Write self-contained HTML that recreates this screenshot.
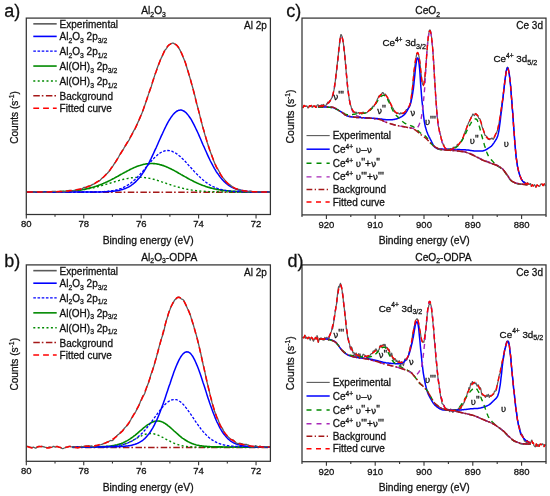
<!DOCTYPE html>
<html><head><meta charset="utf-8"><title>XPS</title>
<style>html,body{margin:0;padding:0;background:#fff;}svg{display:block;}</style>
</head><body>
<svg width="550" height="496" viewBox="0 0 550 496">
<style>text{fill:#111;stroke:#111;stroke-width:0.28px;}</style>
<rect width="550" height="496" fill="#ffffff"/>
<path d="M27.0,192.3 L27.8,192.3 L28.6,192.3 L29.4,192.3 L30.2,192.3 L31.1,192.3 L31.9,192.3 L32.7,192.3 L33.5,192.3 L34.3,192.3 L35.1,192.3 L35.9,192.3 L36.7,192.3 L37.6,192.3 L38.4,192.3 L39.2,192.3 L40.0,192.3 L40.8,192.3 L41.6,192.3 L42.4,192.3 L43.2,192.3 L44.0,192.3 L44.9,192.3 L45.7,192.3 L46.5,192.3 L47.3,192.3 L48.1,192.3 L48.9,192.3 L49.7,192.3 L50.5,192.3 L51.4,192.3 L52.2,192.3 L53.0,192.3 L53.8,192.3 L54.6,192.3 L55.4,192.3 L56.2,192.3 L57.0,192.3 L57.8,192.3 L58.7,192.3 L59.5,192.3 L60.3,192.3 L61.1,192.3 L61.9,192.3 L62.7,192.3 L63.5,192.3 L64.3,192.3 L65.2,192.3 L66.0,192.3 L66.8,192.3 L67.6,192.3 L68.4,192.3 L69.2,192.3 L70.0,192.3 L70.8,192.3 L71.6,192.3 L72.5,192.3 L73.3,192.3 L74.1,192.3 L74.9,192.3 L75.7,192.3 L76.5,192.3 L77.3,192.3 L78.1,192.3 L78.9,192.3 L79.8,192.3 L80.6,192.3 L81.4,192.3 L82.2,192.3 L83.0,192.3 L83.8,192.3 L84.6,192.3 L85.4,192.3 L86.3,192.3 L87.1,192.3 L87.9,192.3 L88.7,192.3 L89.5,192.3 L90.3,192.3 L91.1,192.3 L91.9,192.3 L92.7,192.3 L93.6,192.3 L94.4,192.3 L95.2,192.3 L96.0,192.3 L96.8,192.3 L97.6,192.3 L98.4,192.3 L99.2,192.3 L100.1,192.3 L100.9,192.3 L101.7,192.3 L102.5,192.3 L103.3,192.3 L104.1,192.3 L104.9,192.3 L105.7,192.3 L106.5,192.3 L107.4,192.3 L108.2,192.3 L109.0,192.3 L109.8,192.3 L110.6,192.3 L111.4,192.3 L112.2,192.3 L113.0,192.3 L113.9,192.3 L114.7,192.3 L115.5,192.3 L116.3,192.3 L117.1,192.3 L117.9,192.3 L118.7,192.3 L119.5,192.3 L120.3,192.3 L121.2,192.3 L122.0,192.3 L122.8,192.3 L123.6,192.3 L124.4,192.3 L125.2,192.3 L126.0,192.3 L126.8,192.3 L127.7,192.3 L128.5,192.3 L129.3,192.3 L130.1,192.3 L130.9,192.3 L131.7,192.3 L132.5,192.3 L133.3,192.3 L134.1,192.3 L135.0,192.3 L135.8,192.3 L136.6,192.3 L137.4,192.3 L138.2,192.3 L139.0,192.3 L139.8,192.3 L140.6,192.3 L141.5,192.3 L142.3,192.3 L143.1,192.3 L143.9,192.3 L144.7,192.3 L145.5,192.3 L146.3,192.3 L147.1,192.3 L147.9,192.3 L148.8,192.3 L149.6,192.3 L150.4,192.3 L151.2,192.3 L152.0,192.3 L152.8,192.3 L153.6,192.3 L154.4,192.3 L155.2,192.3 L156.1,192.3 L156.9,192.3 L157.7,192.3 L158.5,192.3 L159.3,192.3 L160.1,192.3 L160.9,192.3 L161.7,192.3 L162.6,192.3 L163.4,192.3 L164.2,192.3 L165.0,192.3 L165.8,192.3 L166.6,192.3 L167.4,192.3 L168.2,192.3 L169.0,192.3 L169.9,192.3 L170.7,192.3 L171.5,192.3 L172.3,192.3 L173.1,192.3 L173.9,192.3 L174.7,192.3 L175.5,192.3 L176.4,192.3 L177.2,192.3 L178.0,192.3 L178.8,192.3 L179.6,192.3 L180.4,192.3 L181.2,192.3 L182.0,192.3 L182.8,192.3 L183.7,192.3 L184.5,192.3 L185.3,192.3 L186.1,192.3 L186.9,192.3 L187.7,192.3 L188.5,192.3 L189.3,192.3 L190.2,192.3 L191.0,192.3 L191.8,192.3 L192.6,192.3 L193.4,192.3 L194.2,192.3 L195.0,192.3 L195.8,192.3 L196.6,192.3 L197.5,192.3 L198.3,192.3 L199.1,192.3 L199.9,192.3 L200.7,192.3 L201.5,192.3 L202.3,192.3 L203.1,192.3 L204.0,192.3 L204.8,192.3 L205.6,192.3 L206.4,192.3 L207.2,192.3 L208.0,192.3 L208.8,192.3 L209.6,192.3 L210.4,192.3 L211.3,192.3 L212.1,192.3 L212.9,192.3 L213.7,192.3 L214.5,192.3 L215.3,192.3 L216.1,192.3 L216.9,192.3 L217.8,192.3 L218.6,192.3 L219.4,192.3 L220.2,192.3 L221.0,192.3 L221.8,192.3 L222.6,192.3 L223.4,192.3 L224.2,192.3 L225.1,192.3 L225.9,192.3 L226.7,192.3 L227.5,192.3 L228.3,192.3 L229.1,192.3 L229.9,192.3 L230.7,192.3 L231.5,192.3 L232.4,192.3 L233.2,192.3 L234.0,192.3 L234.8,192.3 L235.6,192.3 L236.4,192.3 L237.2,192.3 L238.0,192.3 L238.9,192.3 L239.7,192.3 L240.5,192.3 L241.3,192.3 L242.1,192.3 L242.9,192.3 L243.7,192.3 L244.5,192.3 L245.3,192.3 L246.2,192.3 L247.0,192.3 L247.8,192.3 L248.6,192.3 L249.4,192.3 L250.2,192.3 L251.0,192.3 L251.8,192.3 L252.7,192.3 L253.5,192.3 L254.3,192.3 L255.1,192.3 L255.9,192.3 L256.7,192.3 L257.5,192.3 L258.3,192.3 L259.1,192.3 L260.0,192.3 L260.8,192.3 L261.6,192.3 L262.4,192.3 L263.2,192.3 L264.0,192.3 L264.8,192.3 L265.6,192.3 L266.5,192.3 L267.3,192.3 L268.1,192.3 L268.9,192.3 L269.7,192.3" fill="none" stroke="#a51818" stroke-width="1.50" stroke-dasharray="6.5,2,1.6,2.5" stroke-linejoin="round"/>
<path d="M27.0,192.0 L27.8,192.0 L28.6,192.0 L29.4,192.0 L30.2,192.0 L31.1,192.0 L31.9,192.0 L32.7,192.0 L33.5,192.0 L34.3,192.0 L35.1,192.0 L35.9,192.0 L36.7,192.0 L37.6,192.0 L38.4,192.0 L39.2,192.0 L40.0,192.0 L40.8,191.9 L41.6,191.9 L42.4,191.9 L43.2,191.9 L44.0,191.9 L44.9,191.9 L45.7,191.9 L46.5,191.9 L47.3,191.9 L48.1,191.9 L48.9,191.9 L49.7,191.9 L50.5,191.9 L51.4,191.8 L52.2,191.8 L53.0,191.8 L53.8,191.8 L54.6,191.8 L55.4,191.8 L56.2,191.7 L57.0,191.7 L57.8,191.7 L58.7,191.7 L59.5,191.6 L60.3,191.6 L61.1,191.6 L61.9,191.6 L62.7,191.5 L63.5,191.5 L64.3,191.5 L65.2,191.4 L66.0,191.4 L66.8,191.3 L67.6,191.3 L68.4,191.2 L69.2,191.2 L70.0,191.1 L70.8,191.1 L71.6,191.0 L72.5,190.9 L73.3,190.9 L74.1,190.8 L74.9,190.7 L75.7,190.6 L76.5,190.5 L77.3,190.5 L78.1,190.4 L78.9,190.3 L79.8,190.2 L80.6,190.1 L81.4,189.9 L82.2,189.8 L83.0,189.7 L83.8,189.6 L84.6,189.5 L85.4,189.3 L86.3,189.2 L87.1,189.0 L87.9,188.9 L88.7,188.7 L89.5,188.6 L90.3,188.4 L91.1,188.2 L91.9,188.1 L92.7,187.9 L93.6,187.7 L94.4,187.5 L95.2,187.3 L96.0,187.1 L96.8,186.9 L97.6,186.7 L98.4,186.5 L99.2,186.3 L100.1,186.1 L100.9,185.8 L101.7,185.6 L102.5,185.4 L103.3,185.1 L104.1,184.9 L104.9,184.7 L105.7,184.4 L106.5,184.2 L107.4,183.9 L108.2,183.7 L109.0,183.5 L109.8,183.2 L110.6,183.0 L111.4,182.7 L112.2,182.5 L113.0,182.2 L113.9,182.0 L114.7,181.7 L115.5,181.5 L116.3,181.3 L117.1,181.0 L117.9,180.8 L118.7,180.6 L119.5,180.3 L120.3,180.1 L121.2,179.9 L122.0,179.7 L122.8,179.5 L123.6,179.3 L124.4,179.1 L125.2,178.9 L126.0,178.8 L126.8,178.6 L127.7,178.5 L128.5,178.3 L129.3,178.2 L130.1,178.0 L130.9,177.9 L131.7,177.8 L132.5,177.7 L133.3,177.6 L134.1,177.5 L135.0,177.5 L135.8,177.4 L136.6,177.4 L137.4,177.3 L138.2,177.3 L139.0,177.3 L139.8,177.3 L140.6,177.3 L141.5,177.3 L142.3,177.4 L143.1,177.4 L143.9,177.5 L144.7,177.6 L145.5,177.7 L146.3,177.8 L147.1,177.9 L147.9,178.1 L148.8,178.2 L149.6,178.4 L150.4,178.5 L151.2,178.7 L152.0,178.9 L152.8,179.1 L153.6,179.3 L154.4,179.5 L155.2,179.8 L156.1,180.0 L156.9,180.2 L157.7,180.5 L158.5,180.7 L159.3,181.0 L160.1,181.3 L160.9,181.5 L161.7,181.8 L162.6,182.1 L163.4,182.4 L164.2,182.6 L165.0,182.9 L165.8,183.2 L166.6,183.5 L167.4,183.7 L168.2,184.0 L169.0,184.3 L169.9,184.6 L170.7,184.8 L171.5,185.1 L172.3,185.4 L173.1,185.6 L173.9,185.9 L174.7,186.1 L175.5,186.4 L176.4,186.6 L177.2,186.9 L178.0,187.1 L178.8,187.3 L179.6,187.5 L180.4,187.7 L181.2,187.9 L182.0,188.1 L182.8,188.3 L183.7,188.5 L184.5,188.7 L185.3,188.9 L186.1,189.0 L186.9,189.2 L187.7,189.4 L188.5,189.5 L189.3,189.7 L190.2,189.8 L191.0,189.9 L191.8,190.1 L192.6,190.2 L193.4,190.3 L194.2,190.4 L195.0,190.5 L195.8,190.6 L196.6,190.7 L197.5,190.8 L198.3,190.9 L199.1,190.9 L199.9,191.0 L200.7,191.1 L201.5,191.1 L202.3,191.2 L203.1,191.3 L204.0,191.3 L204.8,191.4 L205.6,191.4 L206.4,191.5 L207.2,191.5 L208.0,191.5 L208.8,191.6 L209.6,191.6 L210.4,191.6 L211.3,191.7 L212.1,191.7 L212.9,191.7 L213.7,191.7 L214.5,191.8 L215.3,191.8 L216.1,191.8 L216.9,191.8 L217.8,191.8 L218.6,191.9 L219.4,191.9 L220.2,191.9 L221.0,191.9 L221.8,191.9 L222.6,191.9 L223.4,191.9 L224.2,191.9 L225.1,191.9 L225.9,191.9 L226.7,191.9 L227.5,192.0 L228.3,192.0 L229.1,192.0 L229.9,192.0 L230.7,192.0 L231.5,192.0 L232.4,192.0 L233.2,192.0 L234.0,192.0 L234.8,192.0 L235.6,192.0 L236.4,192.0 L237.2,192.0 L238.0,192.0 L238.9,192.0 L239.7,192.0 L240.5,192.0 L241.3,192.0 L242.1,192.0 L242.9,192.0 L243.7,192.0 L244.5,192.0 L245.3,192.0 L246.2,192.0 L247.0,192.0 L247.8,192.0 L248.6,192.0 L249.4,192.0 L250.2,192.0 L251.0,192.0 L251.8,192.0 L252.7,192.0 L253.5,192.0 L254.3,192.0 L255.1,192.0 L255.9,192.0 L256.7,192.0 L257.5,192.0 L258.3,192.0 L259.1,192.0 L260.0,192.0 L260.8,192.0 L261.6,192.0 L262.4,192.0 L263.2,192.0 L264.0,192.0 L264.8,192.0 L265.6,192.0 L266.5,192.0 L267.3,192.0 L268.1,192.0 L268.9,192.0 L269.7,192.0" fill="none" stroke="#008a00" stroke-width="1.40" stroke-dasharray="2,2.4" stroke-linejoin="round"/>
<path d="M27.0,192.0 L27.8,192.0 L28.6,192.0 L29.4,192.0 L30.2,192.0 L31.1,192.0 L31.9,192.0 L32.7,192.0 L33.5,192.0 L34.3,192.0 L35.1,192.0 L35.9,192.0 L36.7,192.0 L37.6,192.0 L38.4,192.0 L39.2,192.0 L40.0,192.0 L40.8,192.0 L41.6,191.9 L42.4,191.9 L43.2,191.9 L44.0,191.9 L44.9,191.9 L45.7,191.9 L46.5,191.9 L47.3,191.9 L48.1,191.9 L48.9,191.9 L49.7,191.9 L50.5,191.9 L51.4,191.8 L52.2,191.8 L53.0,191.8 L53.8,191.8 L54.6,191.8 L55.4,191.8 L56.2,191.7 L57.0,191.7 L57.8,191.7 L58.7,191.7 L59.5,191.7 L60.3,191.6 L61.1,191.6 L61.9,191.6 L62.7,191.5 L63.5,191.5 L64.3,191.5 L65.2,191.4 L66.0,191.4 L66.8,191.3 L67.6,191.3 L68.4,191.2 L69.2,191.2 L70.0,191.1 L70.8,191.0 L71.6,191.0 L72.5,190.9 L73.3,190.8 L74.1,190.7 L74.9,190.7 L75.7,190.6 L76.5,190.5 L77.3,190.4 L78.1,190.3 L78.9,190.2 L79.8,190.0 L80.6,189.9 L81.4,189.8 L82.2,189.7 L83.0,189.5 L83.8,189.4 L84.6,189.2 L85.4,189.1 L86.3,188.9 L87.1,188.7 L87.9,188.5 L88.7,188.3 L89.5,188.1 L90.3,187.9 L91.1,187.7 L91.9,187.5 L92.7,187.3 L93.6,187.0 L94.4,186.8 L95.2,186.5 L96.0,186.3 L96.8,186.0 L97.6,185.7 L98.4,185.4 L99.2,185.1 L100.1,184.8 L100.9,184.5 L101.7,184.2 L102.5,183.8 L103.3,183.5 L104.1,183.1 L104.9,182.8 L105.7,182.4 L106.5,182.0 L107.4,181.7 L108.2,181.3 L109.0,180.9 L109.8,180.5 L110.6,180.1 L111.4,179.6 L112.2,179.2 L113.0,178.8 L113.9,178.4 L114.7,177.9 L115.5,177.5 L116.3,177.0 L117.1,176.6 L117.9,176.2 L118.7,175.7 L119.5,175.3 L120.3,174.8 L121.2,174.3 L122.0,173.9 L122.8,173.4 L123.6,173.0 L124.4,172.5 L125.2,172.1 L126.0,171.7 L126.8,171.2 L127.7,170.8 L128.5,170.4 L129.3,170.0 L130.1,169.5 L130.9,169.1 L131.7,168.8 L132.5,168.4 L133.3,168.0 L134.1,167.6 L135.0,167.3 L135.8,166.9 L136.6,166.6 L137.4,166.3 L138.2,166.0 L139.0,165.7 L139.8,165.5 L140.6,165.2 L141.5,165.0 L142.3,164.7 L143.1,164.5 L143.9,164.3 L144.7,164.2 L145.5,164.0 L146.3,163.9 L147.1,163.8 L147.9,163.7 L148.8,163.6 L149.6,163.6 L150.4,163.5 L151.2,163.5 L152.0,163.5 L152.8,163.5 L153.6,163.6 L154.4,163.6 L155.2,163.7 L156.1,163.8 L156.9,164.0 L157.7,164.1 L158.5,164.3 L159.3,164.4 L160.1,164.7 L160.9,164.9 L161.7,165.1 L162.6,165.4 L163.4,165.6 L164.2,165.9 L165.0,166.2 L165.8,166.6 L166.6,166.9 L167.4,167.2 L168.2,167.6 L169.0,168.0 L169.9,168.4 L170.7,168.8 L171.5,169.2 L172.3,169.6 L173.1,170.0 L173.9,170.4 L174.7,170.9 L175.5,171.3 L176.4,171.8 L177.2,172.2 L178.0,172.7 L178.8,173.2 L179.6,173.6 L180.4,174.1 L181.2,174.6 L182.0,175.0 L182.8,175.5 L183.7,176.0 L184.5,176.4 L185.3,176.9 L186.1,177.3 L186.9,177.8 L187.7,178.2 L188.5,178.7 L189.3,179.1 L190.2,179.6 L191.0,180.0 L191.8,180.4 L192.6,180.8 L193.4,181.3 L194.2,181.7 L195.0,182.1 L195.8,182.4 L196.6,182.8 L197.5,183.2 L198.3,183.5 L199.1,183.9 L199.9,184.2 L200.7,184.6 L201.5,184.9 L202.3,185.2 L203.1,185.5 L204.0,185.8 L204.8,186.1 L205.6,186.4 L206.4,186.7 L207.2,186.9 L208.0,187.2 L208.8,187.4 L209.6,187.6 L210.4,187.9 L211.3,188.1 L212.1,188.3 L212.9,188.5 L213.7,188.7 L214.5,188.9 L215.3,189.0 L216.1,189.2 L216.9,189.4 L217.8,189.5 L218.6,189.7 L219.4,189.8 L220.2,189.9 L221.0,190.1 L221.8,190.2 L222.6,190.3 L223.4,190.4 L224.2,190.5 L225.1,190.6 L225.9,190.7 L226.7,190.8 L227.5,190.8 L228.3,190.9 L229.1,191.0 L229.9,191.1 L230.7,191.1 L231.5,191.2 L232.4,191.2 L233.2,191.3 L234.0,191.3 L234.8,191.4 L235.6,191.4 L236.4,191.5 L237.2,191.5 L238.0,191.6 L238.9,191.6 L239.7,191.6 L240.5,191.6 L241.3,191.7 L242.1,191.7 L242.9,191.7 L243.7,191.7 L244.5,191.8 L245.3,191.8 L246.2,191.8 L247.0,191.8 L247.8,191.8 L248.6,191.8 L249.4,191.9 L250.2,191.9 L251.0,191.9 L251.8,191.9 L252.7,191.9 L253.5,191.9 L254.3,191.9 L255.1,191.9 L255.9,191.9 L256.7,191.9 L257.5,191.9 L258.3,191.9 L259.1,192.0 L260.0,192.0 L260.8,192.0 L261.6,192.0 L262.4,192.0 L263.2,192.0 L264.0,192.0 L264.8,192.0 L265.6,192.0 L266.5,192.0 L267.3,192.0 L268.1,192.0 L268.9,192.0 L269.7,192.0" fill="none" stroke="#008a00" stroke-width="1.60" stroke-linejoin="round"/>
<path d="M27.0,192.0 L27.8,192.0 L28.6,192.0 L29.4,192.0 L30.2,192.0 L31.1,192.0 L31.9,192.0 L32.7,192.0 L33.5,192.0 L34.3,192.0 L35.1,192.0 L35.9,192.0 L36.7,192.0 L37.6,192.0 L38.4,192.0 L39.2,192.0 L40.0,192.0 L40.8,192.0 L41.6,192.0 L42.4,192.0 L43.2,192.0 L44.0,192.0 L44.9,192.0 L45.7,192.0 L46.5,192.0 L47.3,192.0 L48.1,192.0 L48.9,192.0 L49.7,192.0 L50.5,192.0 L51.4,192.0 L52.2,192.0 L53.0,192.0 L53.8,192.0 L54.6,192.0 L55.4,192.0 L56.2,192.0 L57.0,192.0 L57.8,192.0 L58.7,192.0 L59.5,192.0 L60.3,192.0 L61.1,192.0 L61.9,192.0 L62.7,192.0 L63.5,192.0 L64.3,192.0 L65.2,192.0 L66.0,192.0 L66.8,192.0 L67.6,192.0 L68.4,192.0 L69.2,192.0 L70.0,192.0 L70.8,192.0 L71.6,192.0 L72.5,192.0 L73.3,192.0 L74.1,192.0 L74.9,192.0 L75.7,192.0 L76.5,192.0 L77.3,192.0 L78.1,192.0 L78.9,192.0 L79.8,192.0 L80.6,192.0 L81.4,192.0 L82.2,192.0 L83.0,192.0 L83.8,192.0 L84.6,192.0 L85.4,192.0 L86.3,192.0 L87.1,192.0 L87.9,192.0 L88.7,192.0 L89.5,192.0 L90.3,192.0 L91.1,191.9 L91.9,191.9 L92.7,191.9 L93.6,191.9 L94.4,191.9 L95.2,191.9 L96.0,191.9 L96.8,191.9 L97.6,191.8 L98.4,191.8 L99.2,191.8 L100.1,191.8 L100.9,191.7 L101.7,191.7 L102.5,191.7 L103.3,191.6 L104.1,191.6 L104.9,191.5 L105.7,191.5 L106.5,191.4 L107.4,191.3 L108.2,191.2 L109.0,191.1 L109.8,191.0 L110.6,190.9 L111.4,190.8 L112.2,190.7 L113.0,190.6 L113.9,190.4 L114.7,190.2 L115.5,190.1 L116.3,189.9 L117.1,189.7 L117.9,189.4 L118.7,189.2 L119.5,188.9 L120.3,188.7 L121.2,188.4 L122.0,188.0 L122.8,187.7 L123.6,187.3 L124.4,186.9 L125.2,186.5 L126.0,186.1 L126.8,185.6 L127.7,185.1 L128.5,184.6 L129.3,184.1 L130.1,183.5 L130.9,182.9 L131.7,182.3 L132.5,181.6 L133.3,181.0 L134.1,180.2 L135.0,179.5 L135.8,178.7 L136.6,178.0 L137.4,177.2 L138.2,176.3 L139.0,175.5 L139.8,174.6 L140.6,173.7 L141.5,172.8 L142.3,171.8 L143.1,170.9 L143.9,169.9 L144.7,169.0 L145.5,168.0 L146.3,167.0 L147.1,166.1 L147.9,165.1 L148.8,164.1 L149.6,163.2 L150.4,162.2 L151.2,161.3 L152.0,160.4 L152.8,159.5 L153.6,158.6 L154.4,157.8 L155.2,157.0 L156.1,156.2 L156.9,155.5 L157.7,154.8 L158.5,154.1 L159.3,153.5 L160.1,153.0 L160.9,152.5 L161.7,152.0 L162.6,151.6 L163.4,151.3 L164.2,151.0 L165.0,150.8 L165.8,150.6 L166.6,150.5 L167.4,150.5 L168.2,150.5 L169.0,150.6 L169.9,150.7 L170.7,150.9 L171.5,151.1 L172.3,151.4 L173.1,151.8 L173.9,152.1 L174.7,152.6 L175.5,153.0 L176.4,153.6 L177.2,154.1 L178.0,154.7 L178.8,155.4 L179.6,156.0 L180.4,156.7 L181.2,157.5 L182.0,158.3 L182.8,159.0 L183.7,159.9 L184.5,160.7 L185.3,161.5 L186.1,162.4 L186.9,163.3 L187.7,164.2 L188.5,165.1 L189.3,166.0 L190.2,166.9 L191.0,167.8 L191.8,168.7 L192.6,169.6 L193.4,170.5 L194.2,171.4 L195.0,172.2 L195.8,173.1 L196.6,173.9 L197.5,174.8 L198.3,175.6 L199.1,176.4 L199.9,177.1 L200.7,177.9 L201.5,178.6 L202.3,179.3 L203.1,180.0 L204.0,180.7 L204.8,181.3 L205.6,182.0 L206.4,182.6 L207.2,183.1 L208.0,183.7 L208.8,184.2 L209.6,184.7 L210.4,185.2 L211.3,185.6 L212.1,186.1 L212.9,186.5 L213.7,186.9 L214.5,187.2 L215.3,187.6 L216.1,187.9 L216.9,188.2 L217.8,188.5 L218.6,188.8 L219.4,189.0 L220.2,189.3 L221.0,189.5 L221.8,189.7 L222.6,189.9 L223.4,190.1 L224.2,190.2 L225.1,190.4 L225.9,190.5 L226.7,190.7 L227.5,190.8 L228.3,190.9 L229.1,191.0 L229.9,191.1 L230.7,191.2 L231.5,191.3 L232.4,191.3 L233.2,191.4 L234.0,191.5 L234.8,191.5 L235.6,191.6 L236.4,191.6 L237.2,191.6 L238.0,191.7 L238.9,191.7 L239.7,191.7 L240.5,191.8 L241.3,191.8 L242.1,191.8 L242.9,191.8 L243.7,191.9 L244.5,191.9 L245.3,191.9 L246.2,191.9 L247.0,191.9 L247.8,191.9 L248.6,191.9 L249.4,191.9 L250.2,191.9 L251.0,192.0 L251.8,192.0 L252.7,192.0 L253.5,192.0 L254.3,192.0 L255.1,192.0 L255.9,192.0 L256.7,192.0 L257.5,192.0 L258.3,192.0 L259.1,192.0 L260.0,192.0 L260.8,192.0 L261.6,192.0 L262.4,192.0 L263.2,192.0 L264.0,192.0 L264.8,192.0 L265.6,192.0 L266.5,192.0 L267.3,192.0 L268.1,192.0 L268.9,192.0 L269.7,192.0" fill="none" stroke="#0000ff" stroke-width="1.30" stroke-dasharray="2.6,1.6" stroke-linejoin="round"/>
<path d="M27.0,192.0 L27.8,192.0 L28.6,192.0 L29.4,192.0 L30.2,192.0 L31.1,192.0 L31.9,192.0 L32.7,192.0 L33.5,192.0 L34.3,192.0 L35.1,192.0 L35.9,192.0 L36.7,192.0 L37.6,192.0 L38.4,192.0 L39.2,192.0 L40.0,192.0 L40.8,192.0 L41.6,192.0 L42.4,192.0 L43.2,192.0 L44.0,192.0 L44.9,192.0 L45.7,192.0 L46.5,192.0 L47.3,192.0 L48.1,192.0 L48.9,192.0 L49.7,192.0 L50.5,192.0 L51.4,192.0 L52.2,192.0 L53.0,192.0 L53.8,192.0 L54.6,192.0 L55.4,192.0 L56.2,192.0 L57.0,192.0 L57.8,192.0 L58.7,192.0 L59.5,192.0 L60.3,192.0 L61.1,192.0 L61.9,192.0 L62.7,192.0 L63.5,192.0 L64.3,192.0 L65.2,192.0 L66.0,192.0 L66.8,192.0 L67.6,192.0 L68.4,192.0 L69.2,192.0 L70.0,192.0 L70.8,192.0 L71.6,192.0 L72.5,192.0 L73.3,192.0 L74.1,192.0 L74.9,192.0 L75.7,192.0 L76.5,192.0 L77.3,192.0 L78.1,192.0 L78.9,192.0 L79.8,192.0 L80.6,192.0 L81.4,192.0 L82.2,192.0 L83.0,192.0 L83.8,192.0 L84.6,192.0 L85.4,192.0 L86.3,192.0 L87.1,192.0 L87.9,192.0 L88.7,192.0 L89.5,192.0 L90.3,192.0 L91.1,192.0 L91.9,192.0 L92.7,192.0 L93.6,192.0 L94.4,192.0 L95.2,192.0 L96.0,191.9 L96.8,191.9 L97.6,191.9 L98.4,191.9 L99.2,191.9 L100.1,191.9 L100.9,191.9 L101.7,191.9 L102.5,191.8 L103.3,191.8 L104.1,191.8 L104.9,191.8 L105.7,191.7 L106.5,191.7 L107.4,191.7 L108.2,191.6 L109.0,191.6 L109.8,191.5 L110.6,191.5 L111.4,191.4 L112.2,191.3 L113.0,191.3 L113.9,191.2 L114.7,191.1 L115.5,191.0 L116.3,190.8 L117.1,190.7 L117.9,190.6 L118.7,190.4 L119.5,190.2 L120.3,190.1 L121.2,189.8 L122.0,189.6 L122.8,189.4 L123.6,189.1 L124.4,188.8 L125.2,188.5 L126.0,188.2 L126.8,187.8 L127.7,187.4 L128.5,187.0 L129.3,186.6 L130.1,186.1 L130.9,185.6 L131.7,185.0 L132.5,184.4 L133.3,183.8 L134.1,183.1 L135.0,182.4 L135.8,181.6 L136.6,180.8 L137.4,180.0 L138.2,179.1 L139.0,178.2 L139.8,177.2 L140.6,176.1 L141.5,175.1 L142.3,173.9 L143.1,172.7 L143.9,171.5 L144.7,170.2 L145.5,168.9 L146.3,167.5 L147.1,166.1 L147.9,164.6 L148.8,163.1 L149.6,161.5 L150.4,159.9 L151.2,158.3 L152.0,156.6 L152.8,154.9 L153.6,153.2 L154.4,151.4 L155.2,149.6 L156.1,147.8 L156.9,146.0 L157.7,144.2 L158.5,142.3 L159.3,140.5 L160.1,138.7 L160.9,136.9 L161.7,135.1 L162.6,133.3 L163.4,131.5 L164.2,129.8 L165.0,128.1 L165.8,126.5 L166.6,124.9 L167.4,123.4 L168.2,121.9 L169.0,120.5 L169.9,119.1 L170.7,117.9 L171.5,116.7 L172.3,115.6 L173.1,114.6 L173.9,113.7 L174.7,112.9 L175.5,112.2 L176.4,111.5 L177.2,111.0 L178.0,110.6 L178.8,110.3 L179.6,110.2 L180.4,110.1 L181.2,110.1 L182.0,110.3 L182.8,110.6 L183.7,111.0 L184.5,111.5 L185.3,112.1 L186.1,112.8 L186.9,113.7 L187.7,114.6 L188.5,115.6 L189.3,116.7 L190.2,118.0 L191.0,119.2 L191.8,120.6 L192.6,122.1 L193.4,123.6 L194.2,125.2 L195.0,126.8 L195.8,128.5 L196.6,130.2 L197.5,132.0 L198.3,133.8 L199.1,135.6 L199.9,137.5 L200.7,139.3 L201.5,141.2 L202.3,143.1 L203.1,145.0 L204.0,146.8 L204.8,148.7 L205.6,150.5 L206.4,152.3 L207.2,154.1 L208.0,155.9 L208.8,157.6 L209.6,159.3 L210.4,161.0 L211.3,162.6 L212.1,164.1 L212.9,165.7 L213.7,167.1 L214.5,168.6 L215.3,169.9 L216.1,171.3 L216.9,172.5 L217.8,173.7 L218.6,174.9 L219.4,176.0 L220.2,177.1 L221.0,178.1 L221.8,179.1 L222.6,180.0 L223.4,180.8 L224.2,181.7 L225.1,182.4 L225.9,183.2 L226.7,183.8 L227.5,184.5 L228.3,185.1 L229.1,185.6 L229.9,186.2 L230.7,186.7 L231.5,187.1 L232.4,187.5 L233.2,187.9 L234.0,188.3 L234.8,188.6 L235.6,188.9 L236.4,189.2 L237.2,189.5 L238.0,189.7 L238.9,189.9 L239.7,190.1 L240.5,190.3 L241.3,190.5 L242.1,190.6 L242.9,190.8 L243.7,190.9 L244.5,191.0 L245.3,191.1 L246.2,191.2 L247.0,191.3 L247.8,191.4 L248.6,191.5 L249.4,191.5 L250.2,191.6 L251.0,191.6 L251.8,191.7 L252.7,191.7 L253.5,191.7 L254.3,191.8 L255.1,191.8 L255.9,191.8 L256.7,191.8 L257.5,191.9 L258.3,191.9 L259.1,191.9 L260.0,191.9 L260.8,191.9 L261.6,191.9 L262.4,191.9 L263.2,191.9 L264.0,192.0 L264.8,192.0 L265.6,192.0 L266.5,192.0 L267.3,192.0 L268.1,192.0 L268.9,192.0 L269.7,192.0" fill="none" stroke="#0000ff" stroke-width="1.50" stroke-linejoin="round"/>
<path d="M27.0,192.2 L27.8,192.0 L28.6,191.7 L29.4,191.7 L30.2,191.8 L31.1,191.8 L31.9,192.0 L32.7,192.0 L33.5,192.0 L34.3,192.1 L35.1,192.0 L35.9,191.7 L36.7,191.7 L37.6,191.9 L38.4,192.0 L39.2,191.8 L40.0,191.7 L40.8,191.7 L41.6,191.9 L42.4,191.9 L43.2,191.9 L44.0,192.2 L44.9,192.3 L45.7,192.2 L46.5,192.1 L47.3,191.8 L48.1,191.7 L48.9,191.6 L49.7,191.7 L50.5,191.8 L51.4,191.7 L52.2,191.5 L53.0,191.4 L53.8,191.4 L54.6,191.4 L55.4,191.5 L56.2,191.5 L57.0,191.8 L57.8,192.0 L58.7,191.9 L59.5,191.5 L60.3,191.3 L61.1,191.4 L61.9,191.6 L62.7,191.5 L63.5,191.3 L64.3,191.5 L65.2,191.7 L66.0,191.5 L66.8,191.3 L67.6,191.1 L68.4,190.7 L69.2,190.5 L70.0,190.5 L70.8,190.6 L71.6,190.7 L72.5,190.8 L73.3,190.7 L74.1,190.5 L74.9,190.2 L75.7,190.0 L76.5,190.0 L77.3,189.8 L78.1,189.5 L78.9,189.4 L79.8,189.3 L80.6,189.4 L81.4,189.3 L82.2,188.9 L83.0,188.1 L83.8,187.5 L84.6,187.5 L85.4,187.5 L86.3,187.4 L87.1,186.8 L87.9,186.2 L88.7,186.1 L89.5,186.1 L90.3,185.8 L91.1,185.4 L91.9,184.9 L92.7,184.4 L93.6,184.1 L94.4,183.7 L95.2,183.2 L96.0,182.6 L96.8,182.1 L97.6,181.7 L98.4,181.3 L99.2,180.9 L100.1,180.3 L100.9,179.4 L101.7,178.5 L102.5,177.8 L103.3,177.2 L104.1,176.5 L104.9,175.6 L105.7,174.8 L106.5,174.0 L107.4,173.2 L108.2,172.3 L109.0,171.5 L109.8,170.5 L110.6,169.2 L111.4,167.9 L112.2,166.9 L113.0,165.8 L113.9,164.4 L114.7,163.1 L115.5,161.9 L116.3,160.6 L117.1,159.5 L117.9,158.2 L118.7,156.8 L119.5,155.3 L120.3,153.8 L121.2,152.4 L122.0,151.2 L122.8,150.1 L123.6,148.8 L124.4,147.3 L125.2,146.0 L126.0,145.0 L126.8,143.6 L127.7,142.0 L128.5,140.8 L129.3,139.6 L130.1,137.9 L130.9,136.3 L131.7,134.9 L132.5,133.3 L133.3,131.6 L134.1,130.1 L135.0,128.8 L135.8,127.3 L136.6,125.5 L137.4,123.6 L138.2,121.8 L139.0,120.1 L139.8,118.2 L140.6,116.2 L141.5,114.2 L142.3,112.3 L143.1,110.2 L143.9,107.9 L144.7,105.6 L145.5,103.3 L146.3,101.0 L147.1,98.6 L147.9,96.1 L148.8,93.4 L149.6,90.8 L150.4,88.9 L151.2,86.8 L152.0,84.1 L152.8,81.4 L153.6,78.8 L154.4,76.4 L155.2,73.9 L156.1,71.4 L156.9,69.0 L157.7,66.8 L158.5,64.8 L159.3,62.7 L160.1,60.8 L160.9,58.8 L161.7,57.1 L162.6,55.4 L163.4,53.5 L164.2,51.6 L165.0,50.1 L165.8,49.3 L166.6,48.3 L167.4,46.9 L168.2,45.7 L169.0,45.0 L169.9,44.5 L170.7,43.9 L171.5,43.5 L172.3,43.1 L173.1,43.1 L173.9,43.4 L174.7,44.0 L175.5,44.6 L176.4,45.0 L177.2,45.8 L178.0,46.8 L178.8,48.1 L179.6,49.4 L180.4,50.9 L181.2,52.7 L182.0,54.6 L182.8,56.6 L183.7,58.6 L184.5,60.4 L185.3,62.4 L186.1,65.0 L186.9,67.7 L187.7,70.5 L188.5,73.1 L189.3,75.8 L190.2,78.6 L191.0,81.6 L191.8,84.6 L192.6,87.2 L193.4,89.9 L194.2,93.0 L195.0,96.4 L195.8,99.9 L196.6,103.4 L197.5,106.5 L198.3,109.5 L199.1,112.7 L199.9,115.8 L200.7,118.9 L201.5,122.2 L202.3,125.3 L203.1,128.3 L204.0,131.3 L204.8,134.3 L205.6,137.2 L206.4,139.9 L207.2,142.5 L208.0,144.8 L208.8,147.3 L209.6,149.9 L210.4,152.1 L211.3,154.2 L212.1,156.3 L212.9,158.5 L213.7,160.7 L214.5,162.7 L215.3,164.8 L216.1,166.6 L216.9,167.9 L217.8,169.1 L218.6,170.5 L219.4,172.0 L220.2,173.5 L221.0,175.0 L221.8,176.3 L222.6,177.4 L223.4,178.4 L224.2,179.3 L225.1,180.4 L225.9,181.6 L226.7,182.5 L227.5,183.3 L228.3,184.0 L229.1,184.4 L229.9,184.9 L230.7,185.4 L231.5,186.0 L232.4,186.9 L233.2,187.4 L234.0,187.9 L234.8,188.5 L235.6,188.8 L236.4,188.9 L237.2,189.0 L238.0,189.2 L238.9,189.4 L239.7,189.8 L240.5,190.1 L241.3,190.4 L242.1,190.7 L242.9,190.9 L243.7,190.9 L244.5,190.9 L245.3,191.0 L246.2,191.4 L247.0,191.7 L247.8,191.7 L248.6,191.6 L249.4,191.3 L250.2,191.1 L251.0,191.3 L251.8,191.7 L252.7,191.9 L253.5,191.9 L254.3,191.7 L255.1,191.7 L255.9,191.9 L256.7,192.0 L257.5,192.0 L258.3,191.9 L259.1,191.9 L260.0,191.8 L260.8,191.7 L261.6,191.8 L262.4,191.9 L263.2,191.9 L264.0,191.9 L264.8,191.9 L265.6,191.8 L266.5,191.9 L267.3,192.1 L268.1,192.1 L268.9,192.0 L269.7,192.0" fill="none" stroke="#5a5a5a" stroke-width="1.30" stroke-linejoin="round"/>
<path d="M27.0,192.0 L27.8,192.0 L28.6,192.0 L29.4,192.0 L30.2,192.0 L31.1,192.0 L31.9,192.0 L32.7,192.0 L33.5,192.0 L34.3,192.0 L35.1,192.0 L35.9,192.0 L36.7,192.0 L37.6,192.0 L38.4,192.0 L39.2,192.0 L40.0,192.0 L40.8,191.9 L41.6,191.9 L42.4,191.9 L43.2,191.9 L44.0,191.9 L44.9,191.9 L45.7,191.9 L46.5,191.9 L47.3,191.9 L48.1,191.9 L48.9,191.9 L49.7,191.8 L50.5,191.8 L51.4,191.8 L52.2,191.8 L53.0,191.8 L53.8,191.8 L54.6,191.7 L55.4,191.7 L56.2,191.7 L57.0,191.7 L57.8,191.6 L58.7,191.6 L59.5,191.5 L60.3,191.5 L61.1,191.5 L61.9,191.4 L62.7,191.4 L63.5,191.3 L64.3,191.3 L65.2,191.2 L66.0,191.1 L66.8,191.1 L67.6,191.0 L68.4,190.9 L69.2,190.8 L70.0,190.7 L70.8,190.6 L71.6,190.5 L72.5,190.4 L73.3,190.3 L74.1,190.2 L74.9,190.0 L75.7,189.9 L76.5,189.8 L77.3,189.6 L78.1,189.4 L78.9,189.3 L79.8,189.1 L80.6,188.9 L81.4,188.7 L82.2,188.5 L83.0,188.2 L83.8,188.0 L84.6,187.7 L85.4,187.5 L86.3,187.2 L87.1,186.9 L87.9,186.6 L88.7,186.3 L89.5,185.9 L90.3,185.6 L91.1,185.2 L91.9,184.8 L92.7,184.4 L93.6,184.0 L94.4,183.6 L95.2,183.1 L96.0,182.6 L96.8,182.1 L97.6,181.6 L98.4,181.1 L99.2,180.5 L100.1,179.9 L100.9,179.3 L101.7,178.6 L102.5,177.9 L103.3,177.2 L104.1,176.5 L104.9,175.7 L105.7,174.9 L106.5,174.0 L107.4,173.1 L108.2,172.2 L109.0,171.2 L109.8,170.2 L110.6,169.1 L111.4,168.0 L112.2,166.9 L113.0,165.8 L113.9,164.6 L114.7,163.3 L115.5,162.1 L116.3,160.8 L117.1,159.5 L117.9,158.2 L118.7,156.8 L119.5,155.5 L120.3,154.1 L121.2,152.8 L122.0,151.4 L122.8,150.0 L123.6,148.7 L124.4,147.3 L125.2,146.0 L126.0,144.6 L126.8,143.2 L127.7,141.9 L128.5,140.5 L129.3,139.1 L130.1,137.7 L130.9,136.3 L131.7,134.9 L132.5,133.4 L133.3,131.9 L134.1,130.4 L135.0,128.8 L135.8,127.1 L136.6,125.4 L137.4,123.7 L138.2,121.9 L139.0,120.0 L139.8,118.1 L140.6,116.2 L141.5,114.1 L142.3,112.0 L143.1,109.9 L143.9,107.7 L144.7,105.4 L145.5,103.1 L146.3,100.8 L147.1,98.4 L147.9,96.0 L148.8,93.6 L149.6,91.2 L150.4,88.7 L151.2,86.2 L152.0,83.8 L152.8,81.3 L153.6,78.9 L154.4,76.4 L155.2,74.0 L156.1,71.7 L156.9,69.4 L157.7,67.1 L158.5,64.9 L159.3,62.7 L160.1,60.7 L160.9,58.7 L161.7,56.8 L162.6,55.0 L163.4,53.3 L164.2,51.7 L165.0,50.2 L165.8,48.9 L166.6,47.7 L167.4,46.6 L168.2,45.7 L169.0,44.9 L169.9,44.3 L170.7,43.8 L171.5,43.4 L172.3,43.3 L173.1,43.3 L173.9,43.5 L174.7,43.8 L175.5,44.3 L176.4,44.9 L177.2,45.8 L178.0,46.8 L178.8,47.9 L179.6,49.2 L180.4,50.7 L181.2,52.3 L182.0,54.1 L182.8,56.0 L183.7,58.1 L184.5,60.2 L185.3,62.5 L186.1,65.0 L186.9,67.5 L187.7,70.1 L188.5,72.8 L189.3,75.6 L190.2,78.5 L191.0,81.5 L191.8,84.5 L192.6,87.5 L193.4,90.6 L194.2,93.8 L195.0,96.9 L195.8,100.1 L196.6,103.3 L197.5,106.5 L198.3,109.6 L199.1,112.8 L199.9,115.9 L200.7,119.0 L201.5,122.1 L202.3,125.1 L203.1,128.1 L204.0,131.0 L204.8,133.9 L205.6,136.7 L206.4,139.4 L207.2,142.1 L208.0,144.7 L208.8,147.2 L209.6,149.6 L210.4,152.0 L211.3,154.3 L212.1,156.5 L212.9,158.6 L213.7,160.6 L214.5,162.6 L215.3,164.4 L216.1,166.2 L216.9,167.9 L217.8,169.5 L218.6,171.0 L219.4,172.5 L220.2,173.8 L221.0,175.1 L221.8,176.4 L222.6,177.5 L223.4,178.6 L224.2,179.6 L225.1,180.6 L225.9,181.5 L226.7,182.3 L227.5,183.1 L228.3,183.9 L229.1,184.5 L229.9,185.2 L230.7,185.8 L231.5,186.3 L232.4,186.8 L233.2,187.3 L234.0,187.7 L234.8,188.1 L235.6,188.5 L236.4,188.8 L237.2,189.1 L238.0,189.4 L238.9,189.6 L239.7,189.9 L240.5,190.1 L241.3,190.3 L242.1,190.5 L242.9,190.6 L243.7,190.8 L244.5,190.9 L245.3,191.0 L246.2,191.1 L247.0,191.2 L247.8,191.3 L248.6,191.4 L249.4,191.4 L250.2,191.5 L251.0,191.6 L251.8,191.6 L252.7,191.7 L253.5,191.7 L254.3,191.7 L255.1,191.8 L255.9,191.8 L256.7,191.8 L257.5,191.8 L258.3,191.9 L259.1,191.9 L260.0,191.9 L260.8,191.9 L261.6,191.9 L262.4,191.9 L263.2,191.9 L264.0,191.9 L264.8,192.0 L265.6,192.0 L266.5,192.0 L267.3,192.0 L268.1,192.0 L268.9,192.0 L269.7,192.0" fill="none" stroke="#ff0000" stroke-width="1.50" stroke-dasharray="5.8,4" stroke-linejoin="round"/>
<rect x="26.30" y="18.10" width="244.10" height="196.40" fill="none" stroke="#333333" stroke-width="1.25"/>
<line x1="26.30" y1="214.50" x2="26.30" y2="218.50" stroke="#333333" stroke-width="1.1"/>
<line x1="83.74" y1="214.50" x2="83.74" y2="218.50" stroke="#333333" stroke-width="1.1"/>
<line x1="141.17" y1="214.50" x2="141.17" y2="218.50" stroke="#333333" stroke-width="1.1"/>
<line x1="198.61" y1="214.50" x2="198.61" y2="218.50" stroke="#333333" stroke-width="1.1"/>
<line x1="256.04" y1="214.50" x2="256.04" y2="218.50" stroke="#333333" stroke-width="1.1"/>
<line x1="55.02" y1="214.50" x2="55.02" y2="216.70" stroke="#333333" stroke-width="1.1"/>
<line x1="112.45" y1="214.50" x2="112.45" y2="216.70" stroke="#333333" stroke-width="1.1"/>
<line x1="169.89" y1="214.50" x2="169.89" y2="216.70" stroke="#333333" stroke-width="1.1"/>
<line x1="227.32" y1="214.50" x2="227.32" y2="216.70" stroke="#333333" stroke-width="1.1"/>
<text x="26.30" y="227.40" font-size="9.50" text-anchor="middle" font-family="'Liberation Sans', sans-serif">80</text>
<text x="83.74" y="227.40" font-size="9.50" text-anchor="middle" font-family="'Liberation Sans', sans-serif">78</text>
<text x="141.17" y="227.40" font-size="9.50" text-anchor="middle" font-family="'Liberation Sans', sans-serif">76</text>
<text x="198.61" y="227.40" font-size="9.50" text-anchor="middle" font-family="'Liberation Sans', sans-serif">74</text>
<text x="256.04" y="227.40" font-size="9.50" text-anchor="middle" font-family="'Liberation Sans', sans-serif">72</text>
<text x="148.15" y="243.80" font-size="10.30" text-anchor="middle" font-family="'Liberation Sans', sans-serif">Binding energy (eV)</text>
<text transform="translate(18.0,117.50) rotate(-90)" font-size="10.1" font-family="'Liberation Sans', sans-serif" text-anchor="middle">Counts (s<tspan font-size="6.8" dy="-3.6">-1</tspan><tspan dy="3.6">)</tspan></text>
<text x="141.3" y="13.9" font-size="10.2" text-anchor="start" font-family="'Liberation Sans', sans-serif">Al<tspan font-size="6.8" dy="2.6">2</tspan><tspan dy="-2.6">O</tspan><tspan font-size="6.8" dy="2.6">3</tspan></text>
<text x="4.30" y="17.40" font-size="18.00" text-anchor="start" font-family="'Liberation Sans', sans-serif">a)</text>
<text x="266.80" y="28.90" font-size="10.00" text-anchor="end" font-family="'Liberation Sans', sans-serif">Al 2p</text>
<line x1="33.30" y1="23.85" x2="56.70" y2="23.85" stroke="#5a5a5a" stroke-width="1.60"/>
<line x1="33.30" y1="36.40" x2="56.70" y2="36.40" stroke="#0000ff" stroke-width="1.60"/>
<line x1="33.30" y1="51.10" x2="56.70" y2="51.10" stroke="#0000ff" stroke-width="1.40" stroke-dasharray="2.6,1.6"/>
<line x1="33.30" y1="66.05" x2="56.70" y2="66.05" stroke="#008a00" stroke-width="1.60"/>
<line x1="33.30" y1="81.00" x2="56.70" y2="81.00" stroke="#008a00" stroke-width="1.40" stroke-dasharray="2,2.4"/>
<line x1="33.30" y1="95.70" x2="56.70" y2="95.70" stroke="#a51818" stroke-width="1.50" stroke-dasharray="6.5,2,1.6,2.5"/>
<line x1="33.30" y1="108.20" x2="56.70" y2="108.20" stroke="#ff0000" stroke-width="1.50" stroke-dasharray="5.8,4"/>
<text x="59.60" y="27.85" font-size="10.00" text-anchor="start" font-family="'Liberation Sans', sans-serif">Experimental</text>
<text x="59.60" y="40.40" font-size="10.00" text-anchor="start" font-family="'Liberation Sans', sans-serif">Al<tspan font-size="6.8" dy="2.5">2</tspan><tspan dy="-2.5">O</tspan><tspan font-size="6.8" dy="2.5">3</tspan><tspan dy="-2.5"> 2p</tspan><tspan font-size="6.8" dy="2.5">3/2</tspan></text>
<text x="59.60" y="55.10" font-size="10.00" text-anchor="start" font-family="'Liberation Sans', sans-serif">Al<tspan font-size="6.8" dy="2.5">2</tspan><tspan dy="-2.5">O</tspan><tspan font-size="6.8" dy="2.5">3</tspan><tspan dy="-2.5"> 2p</tspan><tspan font-size="6.8" dy="2.5">1/2</tspan></text>
<text x="59.60" y="70.05" font-size="10.00" text-anchor="start" font-family="'Liberation Sans', sans-serif">Al(OH)<tspan font-size="6.8" dy="2.5">3</tspan><tspan dy="-2.5"> 2p</tspan><tspan font-size="6.8" dy="2.5">3/2</tspan></text>
<text x="59.60" y="85.00" font-size="10.00" text-anchor="start" font-family="'Liberation Sans', sans-serif">Al(OH)<tspan font-size="6.8" dy="2.5">3</tspan><tspan dy="-2.5"> 2p</tspan><tspan font-size="6.8" dy="2.5">1/2</tspan></text>
<text x="59.60" y="99.70" font-size="10.00" text-anchor="start" font-family="'Liberation Sans', sans-serif">Background</text>
<text x="59.60" y="112.20" font-size="10.00" text-anchor="start" font-family="'Liberation Sans', sans-serif">Fitted curve</text>
<path d="M72.5,447.5 L73.3,447.5 L74.1,447.5 L74.9,447.5 L75.7,447.5 L76.5,447.5 L77.3,447.5 L78.1,447.5 L78.9,447.5 L79.8,447.5 L80.6,447.5 L81.4,447.5 L82.2,447.5 L83.0,447.5 L83.8,447.5 L84.6,447.5 L85.4,447.5 L86.3,447.5 L87.1,447.5 L87.9,447.5 L88.7,447.5 L89.5,447.5 L90.3,447.5 L91.1,447.5 L91.9,447.5 L92.7,447.5 L93.6,447.5 L94.4,447.5 L95.2,447.5 L96.0,447.5 L96.8,447.5 L97.6,447.5 L98.4,447.5 L99.2,447.5 L100.1,447.5 L100.9,447.5 L101.7,447.5 L102.5,447.5 L103.3,447.5 L104.1,447.5 L104.9,447.5 L105.7,447.5 L106.5,447.5 L107.4,447.5 L108.2,447.5 L109.0,447.5 L109.8,447.5 L110.6,447.5 L111.4,447.5 L112.2,447.5 L113.0,447.5 L113.9,447.5 L114.7,447.5 L115.5,447.5 L116.3,447.5 L117.1,447.5 L117.9,447.5 L118.7,447.5 L119.5,447.5 L120.3,447.5 L121.2,447.5 L122.0,447.5 L122.8,447.5 L123.6,447.5 L124.4,447.5 L125.2,447.5 L126.0,447.5 L126.8,447.5 L127.7,447.5 L128.5,447.5 L129.3,447.5 L130.1,447.5 L130.9,447.5 L131.7,447.5 L132.5,447.5 L133.3,447.5 L134.1,447.5 L135.0,447.5 L135.8,447.5 L136.6,447.5 L137.4,447.5 L138.2,447.5 L139.0,447.5 L139.8,447.5 L140.6,447.5 L141.5,447.5 L142.3,447.5 L143.1,447.5 L143.9,447.5 L144.7,447.5 L145.5,447.5 L146.3,447.5 L147.1,447.5 L147.9,447.5 L148.8,447.5 L149.6,447.5 L150.4,447.5 L151.2,447.5 L152.0,447.5 L152.8,447.5 L153.6,447.5 L154.4,447.5 L155.2,447.5 L156.1,447.5 L156.9,447.5 L157.7,447.5 L158.5,447.5 L159.3,447.5 L160.1,447.5 L160.9,447.5 L161.7,447.5 L162.6,447.5 L163.4,447.5 L164.2,447.5 L165.0,447.5 L165.8,447.5 L166.6,447.5 L167.4,447.5 L168.2,447.5 L169.0,447.5 L169.9,447.5 L170.7,447.5 L171.5,447.5 L172.3,447.5 L173.1,447.5 L173.9,447.5 L174.7,447.5 L175.5,447.5 L176.4,447.5 L177.2,447.5 L178.0,447.5 L178.8,447.5 L179.6,447.5 L180.4,447.5 L181.2,447.5 L182.0,447.5 L182.8,447.5 L183.7,447.5 L184.5,447.5 L185.3,447.5 L186.1,447.5 L186.9,447.5 L187.7,447.5 L188.5,447.5 L189.3,447.5 L190.2,447.5 L191.0,447.5 L191.8,447.5 L192.6,447.5 L193.4,447.5 L194.2,447.5 L195.0,447.5 L195.8,447.5 L196.6,447.5 L197.5,447.5 L198.3,447.5 L199.1,447.5 L199.9,447.5 L200.7,447.5 L201.5,447.5 L202.3,447.5 L203.1,447.5 L204.0,447.5 L204.8,447.5 L205.6,447.5 L206.4,447.5 L207.2,447.5 L208.0,447.5 L208.8,447.5 L209.6,447.5 L210.4,447.5 L211.3,447.5 L212.1,447.5 L212.9,447.5 L213.7,447.5 L214.5,447.5 L215.3,447.5 L216.1,447.5 L216.9,447.5 L217.8,447.5 L218.6,447.5 L219.4,447.5 L220.2,447.5 L221.0,447.5 L221.8,447.5 L222.6,447.5 L223.4,447.5 L224.2,447.5 L225.1,447.5 L225.9,447.5 L226.7,447.5 L227.5,447.5 L228.3,447.5 L229.1,447.5 L229.9,447.5 L230.7,447.5 L231.5,447.5 L232.4,447.5 L233.2,447.5 L234.0,447.5 L234.8,447.5 L235.6,447.5 L236.4,447.5 L237.2,447.5 L238.0,447.5 L238.9,447.5 L239.7,447.5 L240.5,447.5 L241.3,447.5 L242.1,447.5 L242.9,447.5 L243.7,447.5 L244.5,447.5 L245.3,447.5 L246.2,447.5 L247.0,447.5 L247.8,447.5 L248.6,447.5 L249.4,447.5 L250.2,447.5 L251.0,447.5 L251.8,447.5 L252.7,447.5 L253.5,447.5 L254.3,447.5 L255.1,447.5 L255.9,447.5 L256.7,447.5 L257.5,447.5 L258.3,447.5 L259.1,447.5 L260.0,447.5 L260.8,447.5 L261.6,447.5 L262.4,447.5 L263.2,447.5 L264.0,447.5 L264.8,447.5 L265.6,447.5 L266.5,447.5 L267.3,447.5 L268.1,447.5 L268.9,447.5 L269.7,447.5" fill="none" stroke="#a51818" stroke-width="1.50" stroke-dasharray="6.5,2,1.6,2.5" stroke-linejoin="round"/>
<path d="M72.5,447.2 L73.3,447.2 L74.1,447.2 L74.9,447.2 L75.7,447.2 L76.5,447.2 L77.3,447.2 L78.1,447.2 L78.9,447.2 L79.8,447.2 L80.6,447.2 L81.4,447.2 L82.2,447.2 L83.0,447.2 L83.8,447.2 L84.6,447.2 L85.4,447.2 L86.3,447.2 L87.1,447.2 L87.9,447.2 L88.7,447.2 L89.5,447.2 L90.3,447.2 L91.1,447.2 L91.9,447.2 L92.7,447.2 L93.6,447.2 L94.4,447.2 L95.2,447.2 L96.0,447.2 L96.8,447.2 L97.6,447.2 L98.4,447.2 L99.2,447.2 L100.1,447.2 L100.9,447.1 L101.7,447.1 L102.5,447.1 L103.3,447.1 L104.1,447.1 L104.9,447.1 L105.7,447.0 L106.5,447.0 L107.4,447.0 L108.2,446.9 L109.0,446.9 L109.8,446.9 L110.6,446.8 L111.4,446.7 L112.2,446.7 L113.0,446.6 L113.9,446.5 L114.7,446.4 L115.5,446.3 L116.3,446.2 L117.1,446.1 L117.9,445.9 L118.7,445.7 L119.5,445.6 L120.3,445.4 L121.2,445.2 L122.0,445.0 L122.8,444.7 L123.6,444.5 L124.4,444.2 L125.2,443.9 L126.0,443.6 L126.8,443.3 L127.7,442.9 L128.5,442.5 L129.3,442.2 L130.1,441.8 L130.9,441.4 L131.7,440.9 L132.5,440.5 L133.3,440.1 L134.1,439.6 L135.0,439.2 L135.8,438.7 L136.6,438.3 L137.4,437.8 L138.2,437.4 L139.0,437.0 L139.8,436.6 L140.6,436.2 L141.5,435.8 L142.3,435.4 L143.1,435.1 L143.9,434.8 L144.7,434.5 L145.5,434.2 L146.3,434.0 L147.1,433.8 L147.9,433.7 L148.8,433.6 L149.6,433.5 L150.4,433.5 L151.2,433.5 L152.0,433.6 L152.8,433.7 L153.6,433.8 L154.4,434.0 L155.2,434.2 L156.1,434.4 L156.9,434.7 L157.7,435.0 L158.5,435.3 L159.3,435.7 L160.1,436.0 L160.9,436.4 L161.7,436.9 L162.6,437.3 L163.4,437.7 L164.2,438.2 L165.0,438.6 L165.8,439.1 L166.6,439.5 L167.4,440.0 L168.2,440.4 L169.0,440.8 L169.9,441.2 L170.7,441.7 L171.5,442.1 L172.3,442.4 L173.1,442.8 L173.9,443.2 L174.7,443.5 L175.5,443.8 L176.4,444.1 L177.2,444.4 L178.0,444.6 L178.8,444.9 L179.6,445.1 L180.4,445.3 L181.2,445.5 L182.0,445.7 L182.8,445.9 L183.7,446.0 L184.5,446.1 L185.3,446.3 L186.1,446.4 L186.9,446.5 L187.7,446.6 L188.5,446.6 L189.3,446.7 L190.2,446.8 L191.0,446.8 L191.8,446.9 L192.6,446.9 L193.4,447.0 L194.2,447.0 L195.0,447.0 L195.8,447.1 L196.6,447.1 L197.5,447.1 L198.3,447.1 L199.1,447.1 L199.9,447.1 L200.7,447.1 L201.5,447.2 L202.3,447.2 L203.1,447.2 L204.0,447.2 L204.8,447.2 L205.6,447.2 L206.4,447.2 L207.2,447.2 L208.0,447.2 L208.8,447.2 L209.6,447.2 L210.4,447.2 L211.3,447.2 L212.1,447.2 L212.9,447.2 L213.7,447.2 L214.5,447.2 L215.3,447.2 L216.1,447.2 L216.9,447.2 L217.8,447.2 L218.6,447.2 L219.4,447.2 L220.2,447.2 L221.0,447.2 L221.8,447.2 L222.6,447.2 L223.4,447.2 L224.2,447.2 L225.1,447.2 L225.9,447.2 L226.7,447.2 L227.5,447.2 L228.3,447.2 L229.1,447.2 L229.9,447.2 L230.7,447.2 L231.5,447.2 L232.4,447.2 L233.2,447.2 L234.0,447.2 L234.8,447.2 L235.6,447.2 L236.4,447.2 L237.2,447.2 L238.0,447.2 L238.9,447.2 L239.7,447.2 L240.5,447.2 L241.3,447.2 L242.1,447.2 L242.9,447.2 L243.7,447.2 L244.5,447.2 L245.3,447.2 L246.2,447.2 L247.0,447.2 L247.8,447.2 L248.6,447.2 L249.4,447.2 L250.2,447.2 L251.0,447.2 L251.8,447.2 L252.7,447.2 L253.5,447.2 L254.3,447.2 L255.1,447.2 L255.9,447.2 L256.7,447.2 L257.5,447.2 L258.3,447.2 L259.1,447.2 L260.0,447.2 L260.8,447.2 L261.6,447.2 L262.4,447.2 L263.2,447.2 L264.0,447.2 L264.8,447.2 L265.6,447.2 L266.5,447.2 L267.3,447.2 L268.1,447.2 L268.9,447.2 L269.7,447.2" fill="none" stroke="#008a00" stroke-width="1.40" stroke-dasharray="2,2.4" stroke-linejoin="round"/>
<path d="M72.5,447.0 L73.3,447.0 L74.1,447.0 L74.9,447.0 L75.7,447.0 L76.5,447.0 L77.3,447.0 L78.1,447.0 L78.9,447.0 L79.8,447.0 L80.6,447.0 L81.4,447.0 L82.2,447.0 L83.0,447.0 L83.8,447.0 L84.6,447.0 L85.4,447.0 L86.3,447.0 L87.1,447.0 L87.9,447.0 L88.7,447.0 L89.5,447.0 L90.3,446.9 L91.1,446.9 L91.9,446.9 L92.7,446.9 L93.6,446.9 L94.4,446.9 L95.2,446.9 L96.0,446.9 L96.8,446.8 L97.6,446.8 L98.4,446.8 L99.2,446.8 L100.1,446.7 L100.9,446.7 L101.7,446.7 L102.5,446.6 L103.3,446.6 L104.1,446.6 L104.9,446.5 L105.7,446.5 L106.5,446.4 L107.4,446.3 L108.2,446.2 L109.0,446.2 L109.8,446.1 L110.6,446.0 L111.4,445.9 L112.2,445.7 L113.0,445.6 L113.9,445.5 L114.7,445.3 L115.5,445.1 L116.3,445.0 L117.1,444.8 L117.9,444.5 L118.7,444.3 L119.5,444.1 L120.3,443.8 L121.2,443.5 L122.0,443.2 L122.8,442.9 L123.6,442.5 L124.4,442.1 L125.2,441.7 L126.0,441.3 L126.8,440.9 L127.7,440.4 L128.5,439.9 L129.3,439.4 L130.1,438.9 L130.9,438.3 L131.7,437.8 L132.5,437.2 L133.3,436.6 L134.1,435.9 L135.0,435.3 L135.8,434.6 L136.6,434.0 L137.4,433.3 L138.2,432.6 L139.0,431.9 L139.8,431.2 L140.6,430.5 L141.5,429.8 L142.3,429.1 L143.1,428.4 L143.9,427.7 L144.7,427.1 L145.5,426.4 L146.3,425.8 L147.1,425.2 L147.9,424.6 L148.8,424.1 L149.6,423.6 L150.4,423.1 L151.2,422.7 L152.0,422.3 L152.8,421.9 L153.6,421.7 L154.4,421.4 L155.2,421.2 L156.1,421.1 L156.9,421.0 L157.7,421.0 L158.5,421.0 L159.3,421.1 L160.1,421.3 L160.9,421.5 L161.7,421.8 L162.6,422.1 L163.4,422.5 L164.2,423.0 L165.0,423.4 L165.8,424.0 L166.6,424.5 L167.4,425.1 L168.2,425.8 L169.0,426.4 L169.9,427.1 L170.7,427.8 L171.5,428.5 L172.3,429.3 L173.1,430.0 L173.9,430.8 L174.7,431.5 L175.5,432.2 L176.4,433.0 L177.2,433.7 L178.0,434.4 L178.8,435.1 L179.6,435.8 L180.4,436.5 L181.2,437.1 L182.0,437.8 L182.8,438.4 L183.7,438.9 L184.5,439.5 L185.3,440.0 L186.1,440.5 L186.9,441.0 L187.7,441.5 L188.5,441.9 L189.3,442.3 L190.2,442.7 L191.0,443.1 L191.8,443.4 L192.6,443.7 L193.4,444.0 L194.2,444.3 L195.0,444.5 L195.8,444.8 L196.6,445.0 L197.5,445.2 L198.3,445.3 L199.1,445.5 L199.9,445.7 L200.7,445.8 L201.5,445.9 L202.3,446.0 L203.1,446.1 L204.0,446.2 L204.8,446.3 L205.6,446.4 L206.4,446.4 L207.2,446.5 L208.0,446.6 L208.8,446.6 L209.6,446.6 L210.4,446.7 L211.3,446.7 L212.1,446.7 L212.9,446.8 L213.7,446.8 L214.5,446.8 L215.3,446.8 L216.1,446.9 L216.9,446.9 L217.8,446.9 L218.6,446.9 L219.4,446.9 L220.2,446.9 L221.0,446.9 L221.8,446.9 L222.6,447.0 L223.4,447.0 L224.2,447.0 L225.1,447.0 L225.9,447.0 L226.7,447.0 L227.5,447.0 L228.3,447.0 L229.1,447.0 L229.9,447.0 L230.7,447.0 L231.5,447.0 L232.4,447.0 L233.2,447.0 L234.0,447.0 L234.8,447.0 L235.6,447.0 L236.4,447.0 L237.2,447.0 L238.0,447.0 L238.9,447.0 L239.7,447.1 L240.5,447.1 L241.3,447.1 L242.1,447.1 L242.9,447.1 L243.7,447.1 L244.5,447.1 L245.3,447.1 L246.2,447.1 L247.0,447.1 L247.8,447.1 L248.6,447.1 L249.4,447.1 L250.2,447.1 L251.0,447.1 L251.8,447.1 L252.7,447.1 L253.5,447.1 L254.3,447.1 L255.1,447.1 L255.9,447.1 L256.7,447.1 L257.5,447.1 L258.3,447.1 L259.1,447.1 L260.0,447.1 L260.8,447.1 L261.6,447.1 L262.4,447.1 L263.2,447.1 L264.0,447.1 L264.8,447.1 L265.6,447.1 L266.5,447.1 L267.3,447.1 L268.1,447.1 L268.9,447.1 L269.7,447.1" fill="none" stroke="#008a00" stroke-width="1.60" stroke-linejoin="round"/>
<path d="M72.5,446.9 L73.3,446.9 L74.1,446.9 L74.9,446.9 L75.7,446.9 L76.5,446.9 L77.3,446.9 L78.1,446.9 L78.9,446.9 L79.8,446.9 L80.6,446.9 L81.4,446.9 L82.2,446.9 L83.0,446.9 L83.8,446.9 L84.6,446.9 L85.4,446.9 L86.3,446.9 L87.1,446.9 L87.9,446.9 L88.7,446.8 L89.5,446.8 L90.3,446.8 L91.1,446.8 L91.9,446.8 L92.7,446.8 L93.6,446.8 L94.4,446.8 L95.2,446.8 L96.0,446.8 L96.8,446.7 L97.6,446.7 L98.4,446.7 L99.2,446.7 L100.1,446.7 L100.9,446.7 L101.7,446.6 L102.5,446.6 L103.3,446.6 L104.1,446.6 L104.9,446.6 L105.7,446.5 L106.5,446.5 L107.4,446.5 L108.2,446.4 L109.0,446.4 L109.8,446.3 L110.6,446.3 L111.4,446.2 L112.2,446.2 L113.0,446.1 L113.9,446.0 L114.7,445.9 L115.5,445.8 L116.3,445.7 L117.1,445.6 L117.9,445.5 L118.7,445.4 L119.5,445.2 L120.3,445.1 L121.2,444.9 L122.0,444.8 L122.8,444.6 L123.6,444.4 L124.4,444.1 L125.2,443.9 L126.0,443.6 L126.8,443.3 L127.7,443.0 L128.5,442.7 L129.3,442.4 L130.1,442.0 L130.9,441.6 L131.7,441.2 L132.5,440.7 L133.3,440.3 L134.1,439.8 L135.0,439.2 L135.8,438.7 L136.6,438.1 L137.4,437.4 L138.2,436.8 L139.0,436.1 L139.8,435.4 L140.6,434.6 L141.5,433.8 L142.3,433.0 L143.1,432.2 L143.9,431.3 L144.7,430.4 L145.5,429.5 L146.3,428.5 L147.1,427.5 L147.9,426.5 L148.8,425.5 L149.6,424.4 L150.4,423.3 L151.2,422.2 L152.0,421.1 L152.8,420.0 L153.6,418.9 L154.4,417.8 L155.2,416.7 L156.1,415.5 L156.9,414.4 L157.7,413.3 L158.5,412.2 L159.3,411.2 L160.1,410.1 L160.9,409.1 L161.7,408.1 L162.6,407.1 L163.4,406.2 L164.2,405.3 L165.0,404.5 L165.8,403.7 L166.6,403.0 L167.4,402.4 L168.2,401.8 L169.0,401.2 L169.9,400.8 L170.7,400.4 L171.5,400.0 L172.3,399.8 L173.1,399.6 L173.9,399.5 L174.7,399.5 L175.5,399.6 L176.4,399.7 L177.2,400.0 L178.0,400.3 L178.8,400.7 L179.6,401.3 L180.4,401.8 L181.2,402.5 L182.0,403.2 L182.8,404.0 L183.7,404.9 L184.5,405.8 L185.3,406.8 L186.1,407.8 L186.9,408.9 L187.7,410.0 L188.5,411.1 L189.3,412.2 L190.2,413.4 L191.0,414.6 L191.8,415.8 L192.6,417.0 L193.4,418.2 L194.2,419.5 L195.0,420.7 L195.8,421.8 L196.6,423.0 L197.5,424.2 L198.3,425.3 L199.1,426.4 L199.9,427.5 L200.7,428.6 L201.5,429.6 L202.3,430.6 L203.1,431.6 L204.0,432.5 L204.8,433.4 L205.6,434.3 L206.4,435.1 L207.2,435.9 L208.0,436.7 L208.8,437.4 L209.6,438.1 L210.4,438.7 L211.3,439.3 L212.1,439.9 L212.9,440.4 L213.7,440.9 L214.5,441.4 L215.3,441.8 L216.1,442.2 L216.9,442.6 L217.8,443.0 L218.6,443.3 L219.4,443.6 L220.2,443.9 L221.0,444.2 L221.8,444.4 L222.6,444.6 L223.4,444.8 L224.2,445.0 L225.1,445.2 L225.9,445.3 L226.7,445.5 L227.5,445.6 L228.3,445.7 L229.1,445.8 L229.9,445.9 L230.7,446.0 L231.5,446.1 L232.4,446.2 L233.2,446.2 L234.0,446.3 L234.8,446.3 L235.6,446.4 L236.4,446.4 L237.2,446.5 L238.0,446.5 L238.9,446.5 L239.7,446.6 L240.5,446.6 L241.3,446.6 L242.1,446.7 L242.9,446.7 L243.7,446.7 L244.5,446.7 L245.3,446.7 L246.2,446.7 L247.0,446.8 L247.8,446.8 L248.6,446.8 L249.4,446.8 L250.2,446.8 L251.0,446.8 L251.8,446.8 L252.7,446.8 L253.5,446.8 L254.3,446.8 L255.1,446.9 L255.9,446.9 L256.7,446.9 L257.5,446.9 L258.3,446.9 L259.1,446.9 L260.0,446.9 L260.8,446.9 L261.6,446.9 L262.4,446.9 L263.2,446.9 L264.0,446.9 L264.8,446.9 L265.6,446.9 L266.5,446.9 L267.3,446.9 L268.1,446.9 L268.9,446.9 L269.7,447.0" fill="none" stroke="#0000ff" stroke-width="1.30" stroke-dasharray="2.6,1.6" stroke-linejoin="round"/>
<path d="M72.5,447.0 L73.3,447.0 L74.1,447.0 L74.9,447.0 L75.7,447.0 L76.5,447.0 L77.3,447.0 L78.1,447.0 L78.9,447.0 L79.8,447.0 L80.6,447.0 L81.4,447.0 L82.2,447.0 L83.0,447.0 L83.8,447.0 L84.6,447.0 L85.4,447.0 L86.3,447.0 L87.1,447.0 L87.9,447.0 L88.7,447.0 L89.5,447.0 L90.3,447.0 L91.1,447.0 L91.9,446.9 L92.7,446.9 L93.6,446.9 L94.4,446.9 L95.2,446.9 L96.0,446.9 L96.8,446.9 L97.6,446.9 L98.4,446.9 L99.2,446.9 L100.1,446.9 L100.9,446.9 L101.7,446.9 L102.5,446.9 L103.3,446.9 L104.1,446.9 L104.9,446.9 L105.7,446.9 L106.5,446.8 L107.4,446.8 L108.2,446.8 L109.0,446.8 L109.8,446.8 L110.6,446.8 L111.4,446.8 L112.2,446.8 L113.0,446.8 L113.9,446.7 L114.7,446.7 L115.5,446.7 L116.3,446.7 L117.1,446.7 L117.9,446.6 L118.7,446.6 L119.5,446.6 L120.3,446.5 L121.2,446.5 L122.0,446.4 L122.8,446.4 L123.6,446.3 L124.4,446.3 L125.2,446.2 L126.0,446.1 L126.8,446.0 L127.7,445.9 L128.5,445.8 L129.3,445.7 L130.1,445.5 L130.9,445.4 L131.7,445.2 L132.5,445.0 L133.3,444.8 L134.1,444.6 L135.0,444.3 L135.8,444.0 L136.6,443.7 L137.4,443.4 L138.2,443.0 L139.0,442.6 L139.8,442.2 L140.6,441.7 L141.5,441.2 L142.3,440.6 L143.1,440.0 L143.9,439.3 L144.7,438.6 L145.5,437.8 L146.3,436.9 L147.1,436.0 L147.9,435.1 L148.8,434.0 L149.6,432.9 L150.4,431.8 L151.2,430.5 L152.0,429.2 L152.8,427.8 L153.6,426.3 L154.4,424.8 L155.2,423.2 L156.1,421.5 L156.9,419.7 L157.7,417.9 L158.5,416.0 L159.3,414.0 L160.1,411.9 L160.9,409.8 L161.7,407.6 L162.6,405.4 L163.4,403.1 L164.2,400.8 L165.0,398.4 L165.8,396.0 L166.6,393.6 L167.4,391.2 L168.2,388.7 L169.0,386.3 L169.9,383.9 L170.7,381.4 L171.5,379.0 L172.3,376.7 L173.1,374.4 L173.9,372.1 L174.7,370.0 L175.5,367.9 L176.4,365.8 L177.2,363.9 L178.0,362.1 L178.8,360.4 L179.6,358.9 L180.4,357.5 L181.2,356.2 L182.0,355.1 L182.8,354.1 L183.7,353.3 L184.5,352.7 L185.3,352.2 L186.1,351.9 L186.9,351.8 L187.7,351.9 L188.5,352.1 L189.3,352.6 L190.2,353.2 L191.0,354.1 L191.8,355.1 L192.6,356.2 L193.4,357.6 L194.2,359.1 L195.0,360.7 L195.8,362.5 L196.6,364.4 L197.5,366.4 L198.3,368.5 L199.1,370.7 L199.9,373.0 L200.7,375.3 L201.5,377.8 L202.3,380.2 L203.1,382.7 L204.0,385.2 L204.8,387.8 L205.6,390.3 L206.4,392.9 L207.2,395.4 L208.0,397.9 L208.8,400.3 L209.6,402.8 L210.4,405.1 L211.3,407.4 L212.1,409.7 L212.9,411.9 L213.7,414.0 L214.5,416.1 L215.3,418.1 L216.1,420.0 L216.9,421.8 L217.8,423.5 L218.6,425.2 L219.4,426.8 L220.2,428.3 L221.0,429.7 L221.8,431.0 L222.6,432.3 L223.4,433.5 L224.2,434.6 L225.1,435.6 L225.9,436.6 L226.7,437.5 L227.5,438.3 L228.3,439.1 L229.1,439.8 L229.9,440.5 L230.7,441.1 L231.5,441.6 L232.4,442.1 L233.2,442.6 L234.0,443.0 L234.8,443.4 L235.6,443.8 L236.4,444.1 L237.2,444.4 L238.0,444.6 L238.9,444.9 L239.7,445.1 L240.5,445.3 L241.3,445.4 L242.1,445.6 L242.9,445.7 L243.7,445.9 L244.5,446.0 L245.3,446.1 L246.2,446.2 L247.0,446.2 L247.8,446.3 L248.6,446.4 L249.4,446.4 L250.2,446.5 L251.0,446.5 L251.8,446.6 L252.7,446.6 L253.5,446.6 L254.3,446.7 L255.1,446.7 L255.9,446.7 L256.7,446.7 L257.5,446.7 L258.3,446.8 L259.1,446.8 L260.0,446.8 L260.8,446.8 L261.6,446.8 L262.4,446.8 L263.2,446.8 L264.0,446.8 L264.8,446.8 L265.6,446.9 L266.5,446.9 L267.3,446.9 L268.1,446.9 L268.9,446.9 L269.7,446.9" fill="none" stroke="#0000ff" stroke-width="1.50" stroke-linejoin="round"/>
<path d="M27.0,446.4 L27.8,446.4 L28.6,446.6 L29.4,447.1 L30.2,447.1 L31.1,447.3 L31.9,447.5 L32.7,447.4 L33.5,447.2 L34.3,447.5 L35.1,448.0 L35.9,448.2 L36.7,447.4 L37.6,446.7 L38.4,446.5 L39.2,446.4 L40.0,446.6 L40.8,446.7 L41.6,446.5 L42.4,446.5 L43.2,446.6 L44.0,447.0 L44.9,447.2 L45.7,447.3 L46.5,447.5 L47.3,447.6 L48.1,447.4 L48.9,447.1 L49.7,447.0 L50.5,447.2 L51.4,447.4 L52.2,447.2 L53.0,446.5 L53.8,446.4 L54.6,446.8 L55.4,447.0 L56.2,446.8 L57.0,446.5 L57.8,446.7 L58.7,447.1 L59.5,447.4 L60.3,447.4 L61.1,447.7 L61.9,448.4 L62.7,448.6 L63.5,448.3 L64.3,448.0 L65.2,447.6 L66.0,447.2 L66.8,447.2 L67.6,447.1 L68.4,446.7 L69.2,446.3 L70.0,446.4 L70.8,446.7 L71.6,446.8 L72.5,446.8 L73.3,446.8 L74.1,446.8 L74.9,446.6 L75.7,446.9 L76.5,447.4 L77.3,447.6 L78.1,447.4 L78.9,446.9 L79.8,446.8 L80.6,446.6 L81.4,446.5 L82.2,446.7 L83.0,446.7 L83.8,446.5 L84.6,446.4 L85.4,446.2 L86.3,446.0 L87.1,446.0 L87.9,446.0 L88.7,445.7 L89.5,446.0 L90.3,446.1 L91.1,445.9 L91.9,446.0 L92.7,446.4 L93.6,446.6 L94.4,446.4 L95.2,445.7 L96.0,445.4 L96.8,445.7 L97.6,445.7 L98.4,445.2 L99.2,444.9 L100.1,444.8 L100.9,444.7 L101.7,444.5 L102.5,444.1 L103.3,443.6 L104.1,443.5 L104.9,443.4 L105.7,443.0 L106.5,442.4 L107.4,441.9 L108.2,441.8 L109.0,441.4 L109.8,440.8 L110.6,440.5 L111.4,440.6 L112.2,440.7 L113.0,440.2 L113.9,439.0 L114.7,437.7 L115.5,436.9 L116.3,436.3 L117.1,435.6 L117.9,434.8 L118.7,434.2 L119.5,433.5 L120.3,432.6 L121.2,431.8 L122.0,431.4 L122.8,430.8 L123.6,429.4 L124.4,428.2 L125.2,427.4 L126.0,426.6 L126.8,425.8 L127.7,425.0 L128.5,423.9 L129.3,422.5 L130.1,420.9 L130.9,419.5 L131.7,417.9 L132.5,416.5 L133.3,415.2 L134.1,413.9 L135.0,412.8 L135.8,411.5 L136.6,409.9 L137.4,408.1 L138.2,406.8 L139.0,405.2 L139.8,403.2 L140.6,401.1 L141.5,399.1 L142.3,397.1 L143.1,395.8 L143.9,395.1 L144.7,393.5 L145.5,391.1 L146.3,388.6 L147.1,386.4 L147.9,384.3 L148.8,381.9 L149.6,379.3 L150.4,376.4 L151.2,373.8 L152.0,371.8 L152.8,369.7 L153.6,367.1 L154.4,364.4 L155.2,361.6 L156.1,358.3 L156.9,355.2 L157.7,352.4 L158.5,349.2 L159.3,346.1 L160.1,343.4 L160.9,340.7 L161.7,337.8 L162.6,335.4 L163.4,332.9 L164.2,329.6 L165.0,325.8 L165.8,322.3 L166.6,319.7 L167.4,317.2 L168.2,314.4 L169.0,311.8 L169.9,309.7 L170.7,307.6 L171.5,305.8 L172.3,304.5 L173.1,303.1 L173.9,301.4 L174.7,300.0 L175.5,299.2 L176.4,298.6 L177.2,297.8 L178.0,297.1 L178.8,297.1 L179.6,297.6 L180.4,298.2 L181.2,298.8 L182.0,299.2 L182.8,299.5 L183.7,300.4 L184.5,302.0 L185.3,304.0 L186.1,305.6 L186.9,307.3 L187.7,309.0 L188.5,310.5 L189.3,312.2 L190.2,314.6 L191.0,317.4 L191.8,320.3 L192.6,322.7 L193.4,325.0 L194.2,327.9 L195.0,330.8 L195.8,333.4 L196.6,336.2 L197.5,339.4 L198.3,342.9 L199.1,346.3 L199.9,349.5 L200.7,353.2 L201.5,357.0 L202.3,360.7 L203.1,364.5 L204.0,368.1 L204.8,371.6 L205.6,375.6 L206.4,379.6 L207.2,382.8 L208.0,385.8 L208.8,389.1 L209.6,392.6 L210.4,396.3 L211.3,399.7 L212.1,402.9 L212.9,405.8 L213.7,408.5 L214.5,411.0 L215.3,413.2 L216.1,415.1 L216.9,417.0 L217.8,419.0 L218.6,421.1 L219.4,423.4 L220.2,425.0 L221.0,426.3 L221.8,427.5 L222.6,428.9 L223.4,430.6 L224.2,432.1 L225.1,433.4 L225.9,434.4 L226.7,435.3 L227.5,436.3 L228.3,437.1 L229.1,437.7 L229.9,438.4 L230.7,439.2 L231.5,439.7 L232.4,439.8 L233.2,440.0 L234.0,440.8 L234.8,441.6 L235.6,442.2 L236.4,442.9 L237.2,443.5 L238.0,443.6 L238.9,443.5 L239.7,443.4 L240.5,443.4 L241.3,443.6 L242.1,443.9 L242.9,444.2 L243.7,444.4 L244.5,444.4 L245.3,444.3 L246.2,444.4 L247.0,444.7 L247.8,444.9 L248.6,445.2 L249.4,445.5 L250.2,446.0 L251.0,446.6 L251.8,447.0 L252.7,446.8 L253.5,446.7 L254.3,446.5 L255.1,445.9 L255.9,445.7 L256.7,446.2 L257.5,446.6 L258.3,446.6 L259.1,446.4 L260.0,446.1 L260.8,446.4 L261.6,447.1 L262.4,447.4 L263.2,447.3 L264.0,447.3 L264.8,446.9 L265.6,446.7 L266.5,446.7 L267.3,446.6 L268.1,446.6 L268.9,446.8 L269.7,446.9" fill="none" stroke="#5a5a5a" stroke-width="1.30" stroke-linejoin="round"/>
<path d="M27.0,446.6 L27.8,446.8 L28.6,447.1 L29.4,447.3 L30.2,447.6 L31.1,447.8 L31.9,447.9 L32.7,447.9 L33.5,447.9 L34.3,447.8 L35.1,447.6 L35.9,447.4 L36.7,447.1 L37.6,446.9 L38.4,446.7 L39.2,446.5 L40.0,446.5 L40.8,446.5 L41.6,446.6 L42.4,446.7 L43.2,446.9 L44.0,447.2 L44.9,447.4 L45.7,447.7 L46.5,447.8 L47.3,447.9 L48.1,447.9 L48.9,447.9 L49.7,447.7 L50.5,447.5 L51.4,447.3 L52.2,447.0 L53.0,446.8 L53.8,446.6 L54.6,446.5 L55.4,446.4 L56.2,446.5 L57.0,446.6 L57.8,446.8 L58.7,447.0 L59.5,447.3 L60.3,447.5 L61.1,447.7 L61.9,447.9 L62.7,447.9 L63.5,447.9 L64.3,447.8 L65.2,447.6 L66.0,447.4 L66.8,447.1 L67.6,446.9 L68.4,446.7 L69.2,446.5 L70.0,446.4 L70.8,446.4 L71.6,446.4 L72.5,446.6 L73.3,446.8 L74.1,447.0 L74.9,447.3 L75.7,447.5 L76.5,447.6 L77.3,447.7 L78.1,447.7 L78.9,447.6 L79.8,447.4 L80.6,447.2 L81.4,447.0 L82.2,446.7 L83.0,446.5 L83.8,446.4 L84.6,446.2 L85.4,446.2 L86.3,446.2 L87.1,446.2 L87.9,446.3 L88.7,446.3 L89.5,446.4 L90.3,446.4 L91.1,446.4 L91.9,446.4 L92.7,446.3 L93.6,446.2 L94.4,446.0 L95.2,445.8 L96.0,445.6 L96.8,445.4 L97.6,445.1 L98.4,444.9 L99.2,444.7 L100.1,444.5 L100.9,444.3 L101.7,444.1 L102.5,443.9 L103.3,443.7 L104.1,443.4 L104.9,443.1 L105.7,442.8 L106.5,442.5 L107.4,442.1 L108.2,441.8 L109.0,441.4 L109.8,441.0 L110.6,440.5 L111.4,440.1 L112.2,439.6 L113.0,439.0 L113.9,438.5 L114.7,437.9 L115.5,437.3 L116.3,436.7 L117.1,436.0 L117.9,435.3 L118.7,434.6 L119.5,433.9 L120.3,433.1 L121.2,432.2 L122.0,431.4 L122.8,430.5 L123.6,429.6 L124.4,428.6 L125.2,427.6 L126.0,426.6 L126.8,425.5 L127.7,424.4 L128.5,423.3 L129.3,422.1 L130.1,420.9 L130.9,419.6 L131.7,418.3 L132.5,417.0 L133.3,415.6 L134.1,414.2 L135.0,412.8 L135.8,411.3 L136.6,409.8 L137.4,408.2 L138.2,406.6 L139.0,405.0 L139.8,403.3 L140.6,401.6 L141.5,399.8 L142.3,398.0 L143.1,396.1 L143.9,394.2 L144.7,392.3 L145.5,390.2 L146.3,388.2 L147.1,386.0 L147.9,383.8 L148.8,381.6 L149.6,379.3 L150.4,376.9 L151.2,374.4 L152.0,371.9 L152.8,369.3 L153.6,366.6 L154.4,363.9 L155.2,361.1 L156.1,358.3 L156.9,355.4 L157.7,352.5 L158.5,349.5 L159.3,346.5 L160.1,343.4 L160.9,340.4 L161.7,337.3 L162.6,334.3 L163.4,331.3 L164.2,328.3 L165.0,325.4 L165.8,322.5 L166.6,319.7 L167.4,317.1 L168.2,314.5 L169.0,312.1 L169.9,309.8 L170.7,307.7 L171.5,305.7 L172.3,304.0 L173.1,302.4 L173.9,301.1 L174.7,299.9 L175.5,299.0 L176.4,298.2 L177.2,297.7 L178.0,297.4 L178.8,297.3 L179.6,297.4 L180.4,297.8 L181.2,298.3 L182.0,299.0 L182.8,299.9 L183.7,301.0 L184.5,302.2 L185.3,303.6 L186.1,305.1 L186.9,306.8 L187.7,308.6 L188.5,310.6 L189.3,312.7 L190.2,314.9 L191.0,317.3 L191.8,319.7 L192.6,322.3 L193.4,325.0 L194.2,327.8 L195.0,330.7 L195.8,333.7 L196.6,336.8 L197.5,340.0 L198.3,343.3 L199.1,346.7 L199.9,350.1 L200.7,353.7 L201.5,357.2 L202.3,360.8 L203.1,364.5 L204.0,368.1 L204.8,371.8 L205.6,375.4 L206.4,379.0 L207.2,382.5 L208.0,386.0 L208.8,389.5 L209.6,392.8 L210.4,396.1 L211.3,399.2 L212.1,402.2 L212.9,405.1 L213.7,407.9 L214.5,410.6 L215.3,413.1 L216.1,415.4 L216.9,417.7 L217.8,419.8 L218.6,421.8 L219.4,423.6 L220.2,425.3 L221.0,426.9 L221.8,428.4 L222.6,429.8 L223.4,431.1 L224.2,432.3 L225.1,433.4 L225.9,434.4 L226.7,435.3 L227.5,436.2 L228.3,437.0 L229.1,437.8 L229.9,438.4 L230.7,439.1 L231.5,439.7 L232.4,440.2 L233.2,440.7 L234.0,441.2 L234.8,441.6 L235.6,442.0 L236.4,442.4 L237.2,442.8 L238.0,443.1 L238.9,443.4 L239.7,443.7 L240.5,444.0 L241.3,444.2 L242.1,444.4 L242.9,444.6 L243.7,444.8 L244.5,445.0 L245.3,445.2 L246.2,445.4 L247.0,445.5 L247.8,445.6 L248.6,445.8 L249.4,445.9 L250.2,446.0 L251.0,446.1 L251.8,446.2 L252.7,446.3 L253.5,446.4 L254.3,446.4 L255.1,446.5 L255.9,446.6 L256.7,446.6 L257.5,446.7 L258.3,446.7 L259.1,446.8 L260.0,446.8 L260.8,446.8 L261.6,446.9 L262.4,446.9 L263.2,446.9 L264.0,447.0 L264.8,447.0 L265.6,447.0 L266.5,447.0 L267.3,447.0 L268.1,447.1 L268.9,447.1 L269.7,447.1" fill="none" stroke="#ff0000" stroke-width="1.50" stroke-dasharray="5.8,4" stroke-linejoin="round"/>
<rect x="26.30" y="264.90" width="244.10" height="196.40" fill="none" stroke="#333333" stroke-width="1.25"/>
<line x1="26.30" y1="461.30" x2="26.30" y2="465.30" stroke="#333333" stroke-width="1.1"/>
<line x1="83.74" y1="461.30" x2="83.74" y2="465.30" stroke="#333333" stroke-width="1.1"/>
<line x1="141.17" y1="461.30" x2="141.17" y2="465.30" stroke="#333333" stroke-width="1.1"/>
<line x1="198.61" y1="461.30" x2="198.61" y2="465.30" stroke="#333333" stroke-width="1.1"/>
<line x1="256.04" y1="461.30" x2="256.04" y2="465.30" stroke="#333333" stroke-width="1.1"/>
<line x1="55.02" y1="461.30" x2="55.02" y2="463.50" stroke="#333333" stroke-width="1.1"/>
<line x1="112.45" y1="461.30" x2="112.45" y2="463.50" stroke="#333333" stroke-width="1.1"/>
<line x1="169.89" y1="461.30" x2="169.89" y2="463.50" stroke="#333333" stroke-width="1.1"/>
<line x1="227.32" y1="461.30" x2="227.32" y2="463.50" stroke="#333333" stroke-width="1.1"/>
<text x="26.30" y="474.20" font-size="9.50" text-anchor="middle" font-family="'Liberation Sans', sans-serif">80</text>
<text x="83.74" y="474.20" font-size="9.50" text-anchor="middle" font-family="'Liberation Sans', sans-serif">78</text>
<text x="141.17" y="474.20" font-size="9.50" text-anchor="middle" font-family="'Liberation Sans', sans-serif">76</text>
<text x="198.61" y="474.20" font-size="9.50" text-anchor="middle" font-family="'Liberation Sans', sans-serif">74</text>
<text x="256.04" y="474.20" font-size="9.50" text-anchor="middle" font-family="'Liberation Sans', sans-serif">72</text>
<text x="148.15" y="490.60" font-size="10.30" text-anchor="middle" font-family="'Liberation Sans', sans-serif">Binding energy (eV)</text>
<text transform="translate(18.0,364.30) rotate(-90)" font-size="10.1" font-family="'Liberation Sans', sans-serif" text-anchor="middle">Counts (s<tspan font-size="6.8" dy="-3.6">-1</tspan><tspan dy="3.6">)</tspan></text>
<text x="141.3" y="260.70" font-size="10.2" text-anchor="start" font-family="'Liberation Sans', sans-serif">Al<tspan font-size="6.8" dy="2.6">2</tspan><tspan dy="-2.6">O</tspan><tspan font-size="6.8" dy="2.6">3</tspan><tspan dy="-2.6">-ODPA</tspan></text>
<text x="4.30" y="266.60" font-size="18.00" text-anchor="start" font-family="'Liberation Sans', sans-serif">b)</text>
<text x="266.80" y="275.70" font-size="10.00" text-anchor="end" font-family="'Liberation Sans', sans-serif">Al 2p</text>
<line x1="33.30" y1="270.65" x2="56.70" y2="270.65" stroke="#5a5a5a" stroke-width="1.60"/>
<line x1="33.30" y1="283.20" x2="56.70" y2="283.20" stroke="#0000ff" stroke-width="1.60"/>
<line x1="33.30" y1="297.90" x2="56.70" y2="297.90" stroke="#0000ff" stroke-width="1.40" stroke-dasharray="2.6,1.6"/>
<line x1="33.30" y1="312.85" x2="56.70" y2="312.85" stroke="#008a00" stroke-width="1.60"/>
<line x1="33.30" y1="327.80" x2="56.70" y2="327.80" stroke="#008a00" stroke-width="1.40" stroke-dasharray="2,2.4"/>
<line x1="33.30" y1="342.50" x2="56.70" y2="342.50" stroke="#a51818" stroke-width="1.50" stroke-dasharray="6.5,2,1.6,2.5"/>
<line x1="33.30" y1="355.00" x2="56.70" y2="355.00" stroke="#ff0000" stroke-width="1.50" stroke-dasharray="5.8,4"/>
<text x="59.60" y="274.65" font-size="10.00" text-anchor="start" font-family="'Liberation Sans', sans-serif">Experimental</text>
<text x="59.60" y="287.20" font-size="10.00" text-anchor="start" font-family="'Liberation Sans', sans-serif">Al<tspan font-size="6.8" dy="2.5">2</tspan><tspan dy="-2.5">O</tspan><tspan font-size="6.8" dy="2.5">3</tspan><tspan dy="-2.5"> 2p</tspan><tspan font-size="6.8" dy="2.5">3/2</tspan></text>
<text x="59.60" y="301.90" font-size="10.00" text-anchor="start" font-family="'Liberation Sans', sans-serif">Al<tspan font-size="6.8" dy="2.5">2</tspan><tspan dy="-2.5">O</tspan><tspan font-size="6.8" dy="2.5">3</tspan><tspan dy="-2.5"> 2p</tspan><tspan font-size="6.8" dy="2.5">1/2</tspan></text>
<text x="59.60" y="316.85" font-size="10.00" text-anchor="start" font-family="'Liberation Sans', sans-serif">Al(OH)<tspan font-size="6.8" dy="2.5">3</tspan><tspan dy="-2.5"> 2p</tspan><tspan font-size="6.8" dy="2.5">3/2</tspan></text>
<text x="59.60" y="331.80" font-size="10.00" text-anchor="start" font-family="'Liberation Sans', sans-serif">Al(OH)<tspan font-size="6.8" dy="2.5">3</tspan><tspan dy="-2.5"> 2p</tspan><tspan font-size="6.8" dy="2.5">1/2</tspan></text>
<text x="59.60" y="346.50" font-size="10.00" text-anchor="start" font-family="'Liberation Sans', sans-serif">Background</text>
<text x="59.60" y="359.00" font-size="10.00" text-anchor="start" font-family="'Liberation Sans', sans-serif">Fitted curve</text>
<path d="M317.9,106.3 L318.3,106.2 L318.8,106.2 L319.2,106.2 L319.6,106.1 L320.1,106.1 L320.5,106.1 L320.9,106.0 L321.4,105.9 L321.8,105.9 L322.2,105.8 L322.7,105.7 L323.1,105.6 L323.5,105.4 L324.0,105.3 L324.4,105.2 L324.8,105.0 L325.3,104.9 L325.7,104.7 L326.1,104.5 L326.6,104.3 L327.0,104.0 L327.4,103.7 L327.9,103.3 L328.3,102.9 L328.7,102.4 L329.2,101.9 L329.6,101.4 L330.0,100.8 L330.5,100.2 L330.9,99.6 L331.3,98.8 L331.8,98.0 L332.2,96.9 L332.6,95.6 L333.1,94.0 L333.5,92.0 L333.9,89.8 L334.4,87.2 L334.8,84.3 L335.2,81.2 L335.7,77.7 L336.1,74.1 L336.6,70.4 L337.0,66.7 L337.4,62.9 L337.9,59.1 L338.3,55.0 L338.7,50.8 L339.2,46.6 L339.6,42.7 L340.0,39.5 L340.5,37.4 L340.9,36.4 L341.3,36.2 L341.8,36.7 L342.2,37.7 L342.6,39.3 L343.1,41.6 L343.5,44.5 L343.9,47.9 L344.4,51.8 L344.8,56.1 L345.2,60.6 L345.7,65.4 L346.1,70.3 L346.5,75.2 L347.0,79.9 L347.4,84.3 L347.8,88.4 L348.3,92.1 L348.7,95.4 L349.1,98.4 L349.6,101.0 L350.0,103.3 L350.4,105.2 L350.9,106.8 L351.3,108.1 L351.7,109.3 L352.2,110.4 L352.6,111.3 L353.0,112.1 L353.5,112.8 L353.9,113.4 L354.3,113.9 L354.8,114.4 L355.2,114.8 L355.6,115.1 L356.1,115.4 L356.5,115.7 L356.9,115.9 L357.4,116.0 L357.8,116.2 L358.3,116.3 L358.7,116.5 L359.1,116.6 L359.6,116.7 L360.0,116.8 L360.4,116.9 L360.9,117.0 L361.3,117.1 L361.7,117.2 L362.2,117.3 L362.6,117.3 L363.0,117.4 L363.5,117.5 L363.9,117.5 L364.3,117.6 L364.8,117.7 L365.2,117.7 L365.6,117.8 L366.1,117.8 L366.5,117.9 L366.9,118.0 L367.4,118.0 L367.8,118.1 L368.2,118.1 L368.7,118.2 L369.1,118.2 L369.5,118.2 L370.0,118.3 L370.4,118.3 L370.8,118.4 L371.3,118.4 L371.7,118.5 L372.1,118.5 L372.6,118.5 L373.0,118.6 L373.4,118.6 L373.9,118.6 L374.3,118.7 L374.7,118.7 L375.2,118.7 L375.6,118.8 L376.0,118.8 L376.5,118.9 L376.9,118.9 L377.3,119.0 L377.8,119.1 L378.2,119.2 L378.6,119.2 L379.1,119.4 L379.5,119.5 L380.0,119.6 L380.4,119.7 L380.8,119.9 L381.3,120.0 L381.7,120.2 L382.1,120.4 L382.6,120.6 L383.0,120.8 L383.4,121.0 L383.9,121.2 L384.3,121.4 L384.7,121.6 L385.2,121.8 L385.6,122.0 L386.0,122.2 L386.5,122.4 L386.9,122.6 L387.3,122.7 L387.8,122.9 L388.2,123.0 L388.6,123.2 L389.1,123.3 L389.5,123.5 L389.9,123.6 L390.4,123.7 L390.8,123.9 L391.2,124.0 L391.7,124.1 L392.1,124.3 L392.5,124.4 L393.0,124.5 L393.4,124.6 L393.8,124.7 L394.3,124.8 L394.7,125.0 L395.1,125.1 L395.6,125.2 L396.0,125.3 L396.4,125.4 L396.9,125.4 L397.3,125.5 L397.7,125.6 L398.2,125.7 L398.6,125.8 L399.0,125.9 L399.5,126.0 L399.9,126.0" fill="none" stroke="#a828b8" stroke-width="1.40" stroke-dasharray="5,4" stroke-linejoin="round"/>
<path d="M302.7,107.7 L303.1,107.4 L303.6,106.2 L304.0,105.4 L304.4,105.8 L304.9,106.3 L305.3,106.3 L305.7,106.2 L306.2,106.3 L306.6,105.9 L307.0,106.0 L307.5,107.0 L307.9,107.9 L308.3,107.9 L308.8,107.0 L309.2,106.2 L309.6,105.7 L310.1,105.8 L310.5,106.4 L310.9,105.9 L311.4,105.5 L311.8,106.5 L312.2,107.4 L312.7,106.8 L313.1,105.8 L313.5,106.0 L314.0,106.6 L314.4,106.3 L314.9,105.9 L315.3,106.3 L315.7,107.4 L316.2,107.4 L316.6,106.0 L317.0,105.4 L317.5,104.9 L317.9,104.8 L318.3,105.1 L318.8,105.8 L319.2,106.4 L319.6,106.0 L320.1,105.5 L320.5,105.9 L320.9,105.6 L321.4,104.9 L321.8,105.1 L322.2,105.2 L322.7,105.1 L323.1,104.9 L323.5,104.4 L324.0,104.9 L324.4,105.8 L324.8,105.9 L325.3,105.8 L325.7,105.8 L326.1,105.2 L326.6,104.3 L327.0,103.7 L327.4,102.9 L327.9,102.1 L328.3,102.1 L328.7,102.7 L329.2,102.6 L329.6,101.9 L330.0,101.4 L330.5,100.3 L330.9,99.5 L331.3,98.7 L331.8,97.7 L332.2,97.3 L332.6,96.3 L333.1,94.1 L333.5,92.2 L333.9,90.3 L334.4,88.1 L334.8,85.1 L335.2,81.8 L335.7,78.3 L336.1,74.1 L336.6,70.2 L337.0,66.7 L337.4,62.7 L337.9,59.0 L338.3,55.2 L338.7,50.6 L339.2,46.7 L339.6,43.3 L340.0,39.6 L340.5,36.2 L340.9,34.5 L341.3,34.8 L341.8,35.9 L342.2,37.0 L342.6,38.7 L343.1,41.3 L343.5,44.3 L343.9,47.9 L344.4,51.9 L344.8,55.8 L345.2,60.8 L345.7,66.5 L346.1,70.9 L346.5,74.8 L347.0,79.7 L347.4,84.9 L347.8,89.1 L348.3,92.4 L348.7,95.1 L349.1,98.1 L349.6,101.1 L350.0,103.2 L350.4,104.6 L350.9,106.0 L351.3,107.4 L351.7,108.6 L352.2,109.4 L352.6,110.4 L353.0,111.4 L353.5,111.6 L353.9,111.9 L354.3,112.4 L354.8,112.5 L355.2,112.5 L355.6,112.2 L356.1,112.0 L356.5,112.7 L356.9,113.1 L357.4,113.1 L357.8,113.0 L358.3,112.6 L358.7,112.5 L359.1,113.2 L359.6,114.0 L360.0,113.7 L360.4,113.1 L360.9,113.0 L361.3,112.8 L361.7,112.9 L362.2,113.3 L362.6,112.7 L363.0,112.1 L363.5,112.4 L363.9,113.0 L364.3,113.4 L364.8,113.4 L365.2,113.0 L365.6,113.0 L366.1,112.9 L366.5,112.6 L366.9,112.6 L367.4,112.1 L367.8,111.5 L368.2,111.3 L368.7,110.6 L369.1,110.3 L369.5,110.2 L370.0,109.7 L370.4,109.0 L370.8,108.6 L371.3,108.5 L371.7,108.1 L372.1,107.3 L372.6,106.7 L373.0,106.1 L373.4,106.1 L373.9,106.6 L374.3,105.5 L374.7,104.4 L375.2,104.2 L375.6,103.3 L376.0,102.7 L376.5,102.0 L376.9,100.5 L377.3,99.4 L377.8,98.6 L378.2,97.6 L378.6,96.4 L379.1,95.8 L379.5,96.0 L380.0,96.1 L380.4,95.9 L380.8,95.6 L381.3,94.8 L381.7,93.8 L382.1,93.1 L382.6,92.5 L383.0,92.6 L383.4,93.2 L383.9,94.1 L384.3,94.5 L384.7,94.3 L385.2,94.1 L385.6,94.3 L386.0,95.2 L386.5,96.2 L386.9,96.6 L387.3,97.3 L387.8,98.8 L388.2,99.6 L388.6,99.6 L389.1,100.0 L389.5,101.1 L389.9,102.2 L390.4,103.2 L390.8,104.4 L391.2,105.6 L391.7,106.8 L392.1,107.4 L392.5,107.7 L393.0,108.3 L393.4,108.9 L393.8,109.9 L394.3,111.1 L394.7,111.8 L395.1,112.4 L395.6,112.5 L396.0,112.8 L396.4,113.3 L396.9,113.3 L397.3,113.3 L397.7,113.1 L398.2,113.1 L398.6,113.1 L399.0,113.5 L399.5,114.1 L399.9,114.2 L400.3,113.7 L400.8,112.7 L401.2,113.0 L401.6,113.6 L402.1,113.5 L402.5,113.7 L403.0,113.4 L403.4,112.9 L403.8,113.3 L404.3,113.7 L404.7,112.8 L405.1,111.7 L405.6,111.1 L406.0,110.3 L406.4,109.5 L406.9,109.5 L407.3,110.0 L407.7,109.2 L408.2,108.2 L408.6,107.9 L409.0,107.5 L409.5,106.6 L409.9,105.5 L410.3,103.5 L410.8,101.1 L411.2,98.0 L411.6,94.0 L412.1,90.7 L412.5,87.4 L412.9,82.9 L413.4,78.1 L413.8,73.3 L414.2,69.8 L414.7,67.2 L415.1,63.7 L415.5,60.4 L416.0,57.9 L416.4,55.5 L416.8,53.9 L417.3,53.3 L417.7,53.0 L418.1,53.1 L418.6,54.8 L419.0,56.7 L419.4,58.9 L419.9,62.1 L420.3,66.0 L420.7,70.6 L421.2,74.9 L421.6,78.5 L422.0,81.8 L422.5,83.9 L422.9,84.8 L423.3,85.1 L423.8,84.3 L424.2,82.2 L424.7,79.1 L425.1,74.9 L425.5,70.2 L426.0,65.8 L426.4,60.3 L426.8,53.5 L427.3,47.6 L427.7,43.0 L428.1,39.4 L428.6,35.9 L429.0,32.3 L429.4,30.3 L429.9,29.8 L430.3,30.2 L430.7,31.7 L431.2,34.2 L431.6,37.5 L432.0,42.1 L432.5,46.7 L432.9,51.1 L433.3,56.9 L433.8,64.3 L434.2,72.1 L434.6,78.9 L435.1,85.6 L435.5,93.0 L435.9,99.6 L436.4,105.7 L436.8,111.6 L437.2,116.5 L437.7,120.4 L438.1,123.6 L438.5,126.6 L439.0,128.7 L439.4,130.3 L439.8,132.2 L440.3,134.0 L440.7,135.7 L441.1,137.9 L441.6,140.3 L442.0,142.0 L442.4,143.2 L442.9,144.1 L443.3,144.0 L443.7,144.4 L444.2,146.1 L444.6,147.5 L445.0,148.1 L445.5,148.8 L445.9,148.9 L446.4,148.6 L446.8,149.6 L447.2,150.4 L447.7,149.6 L448.1,148.9 L448.5,149.4 L449.0,149.9 L449.4,149.9 L449.8,149.6 L450.3,149.1 L450.7,148.8 L451.1,149.7 L451.6,150.4 L452.0,149.6 L452.4,148.5 L452.9,147.8 L453.3,147.2 L453.7,147.6 L454.2,147.7 L454.6,147.2 L455.0,147.2 L455.5,147.3 L455.9,147.1 L456.3,146.7 L456.8,145.7 L457.2,144.6 L457.6,144.3 L458.1,144.6 L458.5,144.6 L458.9,144.5 L459.4,144.1 L459.8,142.9 L460.2,142.2 L460.7,141.8 L461.1,141.1 L461.5,140.3 L462.0,139.7 L462.4,139.0 L462.8,138.1 L463.3,137.1 L463.7,136.2 L464.1,134.9 L464.6,133.2 L465.0,132.0 L465.4,131.0 L465.9,130.1 L466.3,129.1 L466.7,127.2 L467.2,125.6 L467.6,125.0 L468.0,124.2 L468.5,123.0 L468.9,122.1 L469.4,120.9 L469.8,119.8 L470.2,119.4 L470.7,118.7 L471.1,117.5 L471.5,116.7 L472.0,116.2 L472.4,115.1 L472.8,114.0 L473.3,114.3 L473.7,115.0 L474.1,115.5 L474.6,115.6 L475.0,114.8 L475.4,113.9 L475.9,113.5 L476.3,114.2 L476.7,115.2 L477.2,115.5 L477.6,115.4 L478.0,116.1 L478.5,117.5 L478.9,118.4 L479.3,118.6 L479.8,118.7 L480.2,119.6 L480.6,120.8 L481.1,122.4 L481.5,124.4 L481.9,126.2 L482.4,127.5 L482.8,128.7 L483.2,129.6 L483.7,130.9 L484.1,132.2 L484.5,133.7 L485.0,135.2 L485.4,135.5 L485.8,135.5 L486.3,136.3 L486.7,136.8 L487.1,136.9 L487.6,137.7 L488.0,139.1 L488.4,139.5 L488.9,139.2 L489.3,139.6 L489.7,139.5 L490.2,138.7 L490.6,138.7 L491.1,138.9 L491.5,138.6 L491.9,138.0 L492.4,138.4 L492.8,139.1 L493.2,139.3 L493.7,138.7 L494.1,137.8 L494.5,137.4 L495.0,136.1 L495.4,134.5 L495.8,133.9 L496.3,133.2 L496.7,132.1 L497.1,131.2 L497.6,130.0 L498.0,128.1 L498.4,126.0 L498.9,124.2 L499.3,121.6 L499.7,119.0 L500.2,116.6 L500.6,113.4 L501.0,110.1 L501.5,106.9 L501.9,103.7 L502.3,101.4 L502.8,98.9 L503.2,95.2 L503.6,91.4 L504.1,87.6 L504.5,84.2 L504.9,81.4 L505.4,77.8 L505.8,74.1 L506.2,71.4 L506.7,69.2 L507.1,67.7 L507.5,67.2 L508.0,67.8 L508.4,69.6 L508.8,71.9 L509.3,74.4 L509.7,77.2 L510.1,80.8 L510.6,85.4 L511.0,90.7 L511.4,96.7 L511.9,102.8 L512.3,108.5 L512.8,113.6 L513.2,119.3 L513.6,126.3 L514.1,132.5 L514.5,137.7 L514.9,143.7 L515.4,149.2 L515.8,153.6 L516.2,157.8 L516.7,160.7 L517.1,163.4 L517.5,166.7 L518.0,168.8 L518.4,170.4 L518.8,172.0 L519.3,173.4 L519.7,175.1 L520.1,176.3 L520.6,177.1 L521.0,178.2 L521.4,179.4 L521.9,180.2 L522.3,180.6 L522.7,181.3 L523.2,181.5 L523.6,181.6 L524.0,181.9 L524.5,181.9 L524.9,182.5 L525.3,183.3 L525.8,183.7 L526.2,184.0 L526.6,183.9 L527.1,183.0 L527.5,182.7 L527.9,183.2 L528.4,184.1 L528.8,184.1 L529.2,184.2 L529.7,184.4 L530.1,183.5 L530.5,183.5 L531.0,185.1 L531.4,186.3 L531.8,185.5 L532.3,184.7 L532.7,185.3 L533.1,186.0 L533.6,185.8 L534.0,185.0 L534.5,184.7 L534.9,185.3 L535.3,186.1 L535.8,187.1 L536.2,186.9 L536.6,185.5 L537.1,184.9 L537.5,185.2 L537.9,185.5 L538.4,185.9 L538.8,186.0 L539.2,186.2 L539.7,186.3 L540.1,185.5 L540.5,184.4 L541.0,184.0 L541.4,184.1 L541.8,184.0 L542.3,184.2 L542.7,185.3 L543.1,185.6 L543.6,184.9 L544.0,184.2 L544.4,183.9 L544.9,184.8 L545.3,186.1" fill="none" stroke="#5a5a5a" stroke-width="1.20" stroke-linejoin="round"/>
<path d="M317.9,106.9 L318.3,106.9 L318.8,106.9 L319.2,106.9 L319.6,106.9 L320.1,106.9 L320.5,106.9 L320.9,106.9 L321.4,106.9 L321.8,106.9 L322.2,106.9 L322.7,106.9 L323.1,106.9 L323.5,106.9 L324.0,106.9 L324.4,107.0 L324.8,107.0 L325.3,107.0 L325.7,107.0 L326.1,107.0 L326.6,107.0 L327.0,107.1 L327.4,107.1 L327.9,107.1 L328.3,107.1 L328.7,107.2 L329.2,107.2 L329.6,107.2 L330.0,107.3 L330.5,107.3 L330.9,107.3 L331.3,107.4 L331.8,107.4 L332.2,107.4 L332.6,107.5 L333.1,107.6 L333.5,107.7 L333.9,107.9 L334.4,108.1 L334.8,108.3 L335.2,108.5 L335.7,108.7 L336.1,109.0 L336.6,109.2 L337.0,109.4 L337.4,109.6 L337.9,109.8 L338.3,110.1 L338.7,110.4 L339.2,110.7 L339.6,110.9 L340.0,111.2 L340.5,111.5 L340.9,111.7 L341.3,112.0 L341.8,112.3 L342.2,112.5 L342.6,112.8 L343.1,113.1 L343.5,113.5 L343.9,113.8 L344.4,114.2 L344.8,114.6 L345.2,115.0 L345.7,115.2 L346.1,115.4 L346.5,115.6 L347.0,115.8 L347.4,115.9 L347.8,116.1 L348.3,116.2 L348.7,116.3 L349.1,116.4 L349.6,116.5 L350.0,116.6 L350.4,116.7 L350.9,116.7 L351.3,116.8 L351.7,116.9 L352.2,116.9 L352.6,117.0 L353.0,117.0 L353.5,117.1 L353.9,117.1 L354.3,117.2 L354.8,117.2 L355.2,117.3 L355.6,117.3 L356.1,117.3 L356.5,117.4 L356.9,117.4 L357.4,117.4 L357.8,117.5 L358.3,117.5 L358.7,117.5 L359.1,117.5 L359.6,117.6 L360.0,117.6 L360.4,117.6 L360.9,117.6 L361.3,117.7 L361.7,117.7 L362.2,117.7 L362.6,117.7 L363.0,117.8 L363.5,117.8 L363.9,117.8 L364.3,117.9 L364.8,117.9 L365.2,117.9 L365.6,117.9 L366.1,118.0 L366.5,118.0 L366.9,118.0 L367.4,118.0 L367.8,118.0 L368.2,118.1 L368.7,118.1 L369.1,118.1 L369.5,118.1 L370.0,118.1 L370.4,118.2 L370.8,118.2 L371.3,118.2 L371.7,118.2 L372.1,118.2 L372.6,118.3 L373.0,118.3 L373.4,118.3 L373.9,118.3 L374.3,118.4 L374.7,118.4 L375.2,118.4 L375.6,118.4 L376.0,118.5 L376.5,118.5 L376.9,118.6 L377.3,118.6 L377.8,118.7 L378.2,118.7 L378.6,118.8 L379.1,118.8 L379.5,118.9 L380.0,118.9 L380.4,119.0 L380.8,119.0 L381.3,119.1 L381.7,119.1 L382.1,119.2 L382.6,119.2 L383.0,119.3 L383.4,119.4 L383.9,119.4 L384.3,119.5 L384.7,119.6 L385.2,119.6 L385.6,119.7 L386.0,119.7 L386.5,119.8 L386.9,119.8 L387.3,119.8 L387.8,119.8 L388.2,119.8 L388.6,119.8 L389.1,119.8 L389.5,119.8 L389.9,119.8 L390.4,119.8 L390.8,119.8 L391.2,119.8 L391.7,119.7 L392.1,119.7 L392.5,119.7 L393.0,119.6 L393.4,119.6 L393.8,119.5 L394.3,119.4 L394.7,119.3 L395.1,119.2 L395.6,119.1 L396.0,119.0 L396.4,118.9 L396.9,118.8 L397.3,118.6 L397.7,118.4 L398.2,118.3 L398.6,118.1 L399.0,117.9 L399.5,117.7 L399.9,117.5 L400.3,117.3 L400.8,117.1 L401.2,116.8 L401.6,116.6 L402.1,116.3 L402.5,116.1 L403.0,115.7 L403.4,115.4 L403.8,115.0 L404.3,114.6 L404.7,114.2 L405.1,113.7 L405.6,113.2 L406.0,112.6 L406.4,111.9 L406.9,111.2 L407.3,110.4 L407.7,109.6 L408.2,108.7 L408.6,107.9 L409.0,107.2 L409.5,106.4 L409.9,105.5 L410.3,104.3 L410.8,102.9 L411.2,101.2 L411.6,99.2 L412.1,97.0 L412.5,94.6 L412.9,91.8 L413.4,88.7 L413.8,85.0 L414.2,80.8 L414.7,76.3 L415.1,71.9 L415.5,67.9 L416.0,64.4 L416.4,61.4 L416.8,59.2 L417.3,58.1 L417.7,58.0 L418.1,58.7 L418.6,60.1 L419.0,62.9 L419.4,67.0 L419.9,72.3 L420.3,78.4 L420.7,84.8 L421.2,90.9 L421.6,96.4 L422.0,101.1 L422.5,105.4 L422.9,109.5 L423.3,113.6 L423.8,117.5 L424.2,120.8 L424.7,123.5 L425.1,125.6 L425.5,127.3 L426.0,128.9 L426.4,130.3 L426.8,131.5 L427.3,132.7 L427.7,133.8 L428.1,134.8 L428.6,135.7 L429.0,136.6 L429.4,137.4 L429.9,138.2 L430.3,139.1 L430.7,139.9 L431.2,140.8 L431.6,141.7 L432.0,142.7 L432.5,143.6 L432.9,144.4 L433.3,145.2 L433.8,145.9 L434.2,146.5 L434.6,146.9 L435.1,147.3 L435.5,147.6 L435.9,147.9 L436.4,148.1 L436.8,148.4 L437.2,148.5 L437.7,148.7 L438.1,148.8 L438.5,148.9 L439.0,149.0 L439.4,149.0 L439.8,149.0 L440.3,149.0 L440.7,149.0 L441.1,149.0 L441.6,149.1 L442.0,149.1 L442.4,149.1 L442.9,149.2 L443.3,149.2 L443.7,149.2 L444.2,149.2 L444.6,149.3 L445.0,149.3 L445.5,149.3 L445.9,149.3 L446.4,149.3 L446.8,149.3 L447.2,149.3 L447.7,149.3 L448.1,149.3 L448.5,149.3 L449.0,149.3 L449.4,149.3 L449.8,149.3 L450.3,149.3 L450.7,149.3 L451.1,149.3 L451.6,149.3 L452.0,149.3 L452.4,149.3 L452.9,149.4 L453.3,149.4 L453.7,149.4 L454.2,149.4 L454.6,149.4 L455.0,149.4 L455.5,149.5 L455.9,149.5 L456.3,149.5 L456.8,149.5 L457.2,149.5 L457.6,149.6 L458.1,149.6 L458.5,149.6 L458.9,149.6 L459.4,149.6 L459.8,149.6 L460.2,149.7 L460.7,149.7 L461.1,149.7 L461.5,149.7 L462.0,149.7 L462.4,149.7 L462.8,149.8 L463.3,149.8 L463.7,149.8 L464.1,149.8 L464.6,149.8 L465.0,149.8 L465.4,149.8 L465.9,149.9 L466.3,149.9 L466.7,149.9 L467.2,150.0 L467.6,150.0 L468.0,150.1 L468.5,150.1 L468.9,150.2 L469.4,150.3 L469.8,150.3 L470.2,150.4 L470.7,150.5 L471.1,150.5 L471.5,150.6 L472.0,150.7 L472.4,150.7 L472.8,150.8 L473.3,150.8 L473.7,150.9 L474.1,150.9 L474.6,150.9 L475.0,151.0 L475.4,151.0 L475.9,151.0 L476.3,151.0 L476.7,151.1 L477.2,151.1 L477.6,151.1 L478.0,151.1 L478.5,151.1 L478.9,151.1 L479.3,151.1 L479.8,151.1 L480.2,151.1 L480.6,151.1 L481.1,151.0 L481.5,151.0 L481.9,151.0 L482.4,150.9 L482.8,150.9 L483.2,150.8 L483.7,150.7 L484.1,150.5 L484.5,150.4 L485.0,150.2 L485.4,150.0 L485.8,149.8 L486.3,149.5 L486.7,149.3 L487.1,149.0 L487.6,148.8 L488.0,148.5 L488.4,148.2 L488.9,147.9 L489.3,147.7 L489.7,147.4 L490.2,147.0 L490.6,146.7 L491.1,146.4 L491.5,146.0 L491.9,145.5 L492.4,145.0 L492.8,144.4 L493.2,143.8 L493.7,143.2 L494.1,142.6 L494.5,141.9 L495.0,141.2 L495.4,140.5 L495.8,139.9 L496.3,139.2 L496.7,138.4 L497.1,137.5 L497.6,136.4 L498.0,134.9 L498.4,133.1 L498.9,130.8 L499.3,128.0 L499.7,124.8 L500.2,121.3 L500.6,117.7 L501.0,114.1 L501.5,110.6 L501.9,107.1 L502.3,103.5 L502.8,99.8 L503.2,96.0 L503.6,92.1 L504.1,88.1 L504.5,84.2 L504.9,80.4 L505.4,77.0 L505.8,74.0 L506.2,71.4 L506.7,69.4 L507.1,68.2 L507.5,67.8 L508.0,68.2 L508.4,69.5 L508.8,71.6 L509.3,74.4 L509.7,77.8 L510.1,81.8 L510.6,86.2 L511.0,91.1 L511.4,96.4 L511.9,102.0 L512.3,107.9 L512.8,113.9 L513.2,119.9 L513.6,125.9 L514.1,132.0 L514.5,137.9 L514.9,143.6 L515.4,148.8 L515.8,153.4 L516.2,157.4 L516.7,160.8 L517.1,163.7 L517.5,166.3 L518.0,168.4 L518.4,170.4 L518.8,172.1 L519.3,173.7 L519.7,175.1 L520.1,176.3 L520.6,177.4 L521.0,178.4 L521.4,179.2 L521.9,180.0 L522.3,180.6 L522.7,181.2 L523.2,181.7 L523.6,182.1 L524.0,182.4 L524.5,182.7 L524.9,183.0 L525.3,183.3 L525.8,183.5 L526.2,183.7 L526.6,183.8 L527.1,184.0 L527.5,184.1" fill="none" stroke="#0000ff" stroke-width="1.50" stroke-linejoin="round"/>
<path d="M317.9,107.1 L318.3,107.1 L318.8,107.1 L319.2,107.1 L319.6,107.1 L320.1,107.1 L320.5,107.1 L320.9,107.1 L321.4,107.1 L321.8,107.1 L322.2,107.2 L322.7,107.2 L323.1,107.2 L323.5,107.2 L324.0,107.2 L324.4,107.2 L324.8,107.2 L325.3,107.2 L325.7,107.2 L326.1,107.2 L326.6,107.3 L327.0,107.3 L327.4,107.3 L327.9,107.3 L328.3,107.3 L328.7,107.4 L329.2,107.4 L329.6,107.4 L330.0,107.4 L330.5,107.5 L330.9,107.5 L331.3,107.5 L331.8,107.5 L332.2,107.6 L332.6,107.6 L333.1,107.7 L333.5,107.8 L333.9,108.0 L334.4,108.2 L334.8,108.4 L335.2,108.6 L335.7,108.8 L336.1,109.0 L336.6,109.3 L337.0,109.5 L337.4,109.7 L337.9,109.9 L338.3,110.2 L338.7,110.5 L339.2,110.7 L339.6,111.0 L340.0,111.2 L340.5,111.4 L340.9,111.6 L341.3,111.8 L341.8,112.0 L342.2,112.1 L342.6,112.4 L343.1,112.6 L343.5,112.9 L343.9,113.2 L344.4,113.5 L344.8,113.8 L345.2,114.1 L345.7,114.3 L346.1,114.4 L346.5,114.5 L347.0,114.6 L347.4,114.7 L347.8,114.8 L348.3,114.8 L348.7,114.8 L349.1,114.8 L349.6,114.8 L350.0,114.8 L350.4,114.8 L350.9,114.7 L351.3,114.7 L351.7,114.6 L352.2,114.6 L352.6,114.5 L353.0,114.4 L353.5,114.3 L353.9,114.3 L354.3,114.2 L354.8,114.1 L355.2,114.0 L355.6,114.0 L356.1,113.9 L356.5,113.9 L356.9,113.9 L357.4,113.9 L357.8,113.9 L358.3,113.9 L358.7,113.9 L359.1,113.9 L359.6,113.9 L360.0,113.9 L360.4,113.8 L360.9,113.8 L361.3,113.7 L361.7,113.7 L362.2,113.6 L362.6,113.5 L363.0,113.4 L363.5,113.3 L363.9,113.2 L364.3,113.1 L364.8,113.0 L365.2,112.8 L365.6,112.7 L366.1,112.5 L366.5,112.3 L366.9,112.1 L367.4,111.9 L367.8,111.7 L368.2,111.4 L368.7,111.2 L369.1,110.9 L369.5,110.6 L370.0,110.3 L370.4,109.9 L370.8,109.5 L371.3,109.1 L371.7,108.7 L372.1,108.3 L372.6,107.8 L373.0,107.3 L373.4,106.8 L373.9,106.3 L374.3,105.7 L374.7,105.1 L375.2,104.5 L375.6,103.9 L376.0,103.3 L376.5,102.6 L376.9,102.0 L377.3,101.4 L377.8,100.7 L378.2,100.1 L378.6,99.5 L379.1,98.9 L379.5,98.3 L380.0,97.7 L380.4,97.2 L380.8,96.7 L381.3,96.3 L381.7,96.0 L382.1,95.7 L382.6,95.5 L383.0,95.4 L383.4,95.4 L383.9,95.4 L384.3,95.5 L384.7,95.8 L385.2,96.1 L385.6,96.5 L386.0,97.1 L386.5,97.6 L386.9,98.3 L387.3,99.0 L387.8,99.8 L388.2,100.6 L388.6,101.5 L389.1,102.4 L389.5,103.3 L389.9,104.3 L390.4,105.2 L390.8,106.2 L391.2,107.1 L391.7,108.1 L392.1,109.0 L392.5,109.8 L393.0,110.7 L393.4,111.4 L393.8,112.1 L394.3,112.8 L394.7,113.4 L395.1,114.0 L395.6,114.5 L396.0,115.0 L396.4,115.5 L396.9,116.0 L397.3,116.4 L397.7,116.9 L398.2,117.3 L398.6,117.7 L399.0,118.2 L399.5,118.6 L399.9,119.0 L400.3,119.4 L400.8,119.9 L401.2,120.3 L401.6,120.7 L402.1,121.1 L402.5,121.5 L403.0,121.8 L403.4,122.2 L403.8,122.5 L404.3,122.8 L404.7,123.1 L405.1,123.4 L405.6,123.6 L406.0,123.8 L406.4,124.0 L406.9,124.2 L407.3,124.4 L407.7,124.6 L408.2,124.7 L408.6,124.9 L409.0,125.0 L409.5,125.2 L409.9,125.3 L410.3,125.5 L410.8,125.6 L411.2,125.8 L411.6,126.0 L412.1,126.1 L412.5,126.3 L412.9,126.5 L413.4,126.8 L413.8,127.1 L414.2,127.4 L414.7,127.7 L415.1,128.1 L415.5,128.4 L416.0,128.8 L416.4,129.2 L416.8,129.6 L417.3,130.0 L417.7,130.4 L418.1,130.9 L418.6,131.3 L419.0,131.7 L419.4,132.1 L419.9,132.4 L420.3,132.8 L420.7,133.1 L421.2,133.4 L421.6,133.6 L422.0,133.9 L422.5,134.1 L422.9,134.4 L423.3,134.6 L423.8,134.9 L424.2,135.2 L424.7,135.5 L425.1,135.8 L425.5,136.2 L426.0,136.6 L426.4,137.1 L426.8,137.6 L427.3,138.2 L427.7,138.8 L428.1,139.4 L428.6,140.1 L429.0,140.7 L429.4,141.4 L429.9,142.0 L430.3,142.6 L430.7,143.1 L431.2,143.6 L431.6,144.1 L432.0,144.5 L432.5,144.9 L432.9,145.3 L433.3,145.6 L433.8,146.0 L434.2,146.3 L434.6,146.6 L435.1,146.9 L435.5,147.2 L435.9,147.5 L436.4,147.8 L436.8,148.1 L437.2,148.3 L437.7,148.6 L438.1,148.8 L438.5,149.0 L439.0,149.2 L439.4,149.3 L439.8,149.5 L440.3,149.6 L440.7,149.7 L441.1,149.7 L441.6,149.8 L442.0,149.8 L442.4,149.9 L442.9,149.9 L443.3,149.9 L443.7,149.9 L444.2,149.9 L444.6,149.9 L445.0,149.9 L445.5,149.9 L445.9,149.9 L446.4,149.8 L446.8,149.8 L447.2,149.7 L447.7,149.7 L448.1,149.6 L448.5,149.6 L449.0,149.5 L449.4,149.4 L449.8,149.3 L450.3,149.3 L450.7,149.2 L451.1,149.1 L451.6,149.0 L452.0,148.9 L452.4,148.8 L452.9,148.7 L453.3,148.5 L453.7,148.4 L454.2,148.2 L454.6,148.0 L455.0,147.8 L455.5,147.6 L455.9,147.4 L456.3,147.1 L456.8,146.8 L457.2,146.5 L457.6,146.1 L458.1,145.7 L458.5,145.3 L458.9,144.8 L459.4,144.3 L459.8,143.8 L460.2,143.2 L460.7,142.6 L461.1,142.0 L461.5,141.3 L462.0,140.6 L462.4,139.9 L462.8,139.1 L463.3,138.3 L463.7,137.4 L464.1,136.6 L464.6,135.7 L465.0,134.7 L465.4,133.8 L465.9,132.9 L466.3,131.9 L466.7,131.0 L467.2,130.1 L467.6,129.2 L468.0,128.4 L468.5,127.5 L468.9,126.7 L469.4,125.9 L469.8,125.1 L470.2,124.3 L470.7,123.6 L471.1,122.8 L471.5,122.2 L472.0,121.5 L472.4,121.0 L472.8,120.4 L473.3,120.0 L473.7,119.6 L474.1,119.3 L474.6,119.1 L475.0,119.0 L475.4,118.9 L475.9,119.0 L476.3,119.2 L476.7,119.6 L477.2,120.1 L477.6,121.0 L478.0,122.0 L478.5,123.3 L478.9,124.8 L479.3,126.4 L479.8,128.0 L480.2,129.7 L480.6,131.4 L481.1,133.1 L481.5,134.7 L481.9,136.3 L482.4,137.8 L482.8,139.4 L483.2,140.9 L483.7,142.4 L484.1,143.9 L484.5,145.4 L485.0,146.8 L485.4,148.2 L485.8,149.5 L486.3,150.8 L486.7,152.0 L487.1,153.1 L487.6,154.2 L488.0,155.1 L488.4,156.0 L488.9,156.8 L489.3,157.4 L489.7,158.1 L490.2,158.6 L490.6,159.1 L491.1,159.6 L491.5,160.0 L491.9,160.5 L492.4,160.9 L492.8,161.4 L493.2,161.9 L493.7,162.5 L494.1,163.0 L494.5,163.6 L495.0,164.1 L495.4,164.6 L495.8,165.0 L496.3,165.4 L496.7,165.7 L497.1,165.9 L497.6,166.2 L498.0,166.4 L498.4,166.6 L498.9,166.9 L499.3,167.1 L499.7,167.4 L500.2,167.7 L500.6,167.9 L501.0,168.3 L501.5,168.6 L501.9,168.9 L502.3,169.3 L502.8,169.7 L503.2,170.1 L503.6,170.6 L504.1,171.2 L504.5,171.7 L504.9,172.3 L505.4,172.9 L505.8,173.5 L506.2,174.1 L506.7,174.6 L507.1,175.3 L507.5,175.9 L508.0,176.6 L508.4,177.3 L508.8,178.0 L509.3,178.7 L509.7,179.3 L510.1,179.8 L510.6,180.2 L511.0,180.6 L511.4,180.9 L511.9,181.3 L512.3,181.6 L512.8,181.9 L513.2,182.2 L513.6,182.4 L514.1,182.7 L514.5,182.9 L514.9,183.1 L515.4,183.3 L515.8,183.4 L516.2,183.5 L516.7,183.6 L517.1,183.7 L517.5,183.8 L518.0,183.8 L518.4,183.9 L518.8,184.0 L519.3,184.1 L519.7,184.1 L520.1,184.2 L520.6,184.2 L521.0,184.3 L521.4,184.3 L521.9,184.4 L522.3,184.4 L522.7,184.5 L523.2,184.5 L523.6,184.5 L524.0,184.6 L524.5,184.6 L524.9,184.6 L525.3,184.7 L525.8,184.7 L526.2,184.7 L526.6,184.7 L527.1,184.8 L527.5,184.8" fill="none" stroke="#008a00" stroke-width="1.40" stroke-dasharray="5,4" stroke-linejoin="round"/>
<path d="M400.3,126.1 L400.8,126.2 L401.2,126.3 L401.6,126.3 L402.1,126.4 L402.5,126.5 L403.0,126.6 L403.4,126.7 L403.8,126.7 L404.3,126.8 L404.7,126.9 L405.1,127.0 L405.6,127.1 L406.0,127.1 L406.4,127.2 L406.9,127.3 L407.3,127.4 L407.7,127.4 L408.2,127.5 L408.6,127.6 L409.0,127.7 L409.5,127.8 L409.9,127.8 L410.3,127.9 L410.8,128.0 L411.2,128.1 L411.6,128.1 L412.1,128.2 L412.5,128.3 L412.9,128.3 L413.4,128.4 L413.8,128.5 L414.2,128.5 L414.7,128.5 L415.1,128.5 L415.5,128.5 L416.0,128.4 L416.4,128.2 L416.8,128.0 L417.3,127.7 L417.7,127.3 L418.1,126.6 L418.6,125.9 L419.0,124.9 L419.4,123.9 L419.9,122.7 L420.3,121.4 L420.7,119.9 L421.2,118.2 L421.6,116.1 L422.0,113.5 L422.5,110.4 L422.9,106.8 L423.3,102.7 L423.8,98.1 L424.2,93.3 L424.7,88.1 L425.1,82.3 L425.5,75.5 L426.0,67.8 L426.4,59.8 L426.8,52.6 L427.3,46.6 L427.7,41.8 L428.1,38.0 L428.6,34.9 L429.0,32.5 L429.4,31.1 L429.9,30.7 L430.3,31.3 L430.7,32.6 L431.2,34.7 L431.6,37.6 L432.0,41.5 L432.5,46.2 L432.9,51.6 L433.3,57.8 L433.8,64.5 L434.2,71.8 L434.6,79.3 L435.1,86.5 L435.5,93.3 L435.9,99.6 L436.4,105.5 L436.8,111.0 L437.2,116.0 L437.7,120.3 L438.1,123.9 L438.5,126.9 L439.0,129.2 L439.4,131.2 L439.8,133.0 L440.3,134.7 L440.7,136.4 L441.1,138.1 L441.6,139.7 L442.0,141.2 L442.4,142.5 L442.9,143.8 L443.3,144.9 L443.7,145.8 L444.2,146.6 L444.6,147.3 L445.0,148.0 L445.5,148.5 L445.9,149.0 L446.4,149.4 L446.8,149.7 L447.2,149.9 L447.7,150.0 L448.1,150.2 L448.5,150.3 L449.0,150.4 L449.4,150.4 L449.8,150.5 L450.3,150.5 L450.7,150.5 L451.1,150.6 L451.6,150.6 L452.0,150.5 L452.4,150.5 L452.9,150.5 L453.3,150.5 L453.7,150.4 L454.2,150.4 L454.6,150.4 L455.0,150.4 L455.5,150.3 L455.9,150.3 L456.3,150.3 L456.8,150.3 L457.2,150.3 L457.6,150.3 L458.1,150.3 L458.5,150.3 L458.9,150.4 L459.4,150.4 L459.8,150.5 L460.2,150.5 L460.7,150.6 L461.1,150.7 L461.5,150.8 L462.0,150.9 L462.4,151.0 L462.8,151.0 L463.3,151.1 L463.7,151.2 L464.1,151.3 L464.6,151.4 L465.0,151.5 L465.4,151.6 L465.9,151.7 L466.3,151.9 L466.7,152.0 L467.2,152.1 L467.6,152.3 L468.0,152.5 L468.5,152.6 L468.9,152.8 L469.4,153.0 L469.8,153.2 L470.2,153.4 L470.7,153.6 L471.1,153.8 L471.5,154.0 L472.0,154.2 L472.4,154.4 L472.8,154.6 L473.3,154.9 L473.7,155.1 L474.1,155.3 L474.6,155.5 L475.0,155.7 L475.4,155.9 L475.9,156.1 L476.3,156.4 L476.7,156.6 L477.2,156.9 L477.6,157.1 L478.0,157.3 L478.5,157.6 L478.9,157.8 L479.3,158.1 L479.8,158.3 L480.2,158.6 L480.6,158.8 L481.1,159.0 L481.5,159.2 L481.9,159.4 L482.4,159.6 L482.8,159.8 L483.2,160.0 L483.7,160.2 L484.1,160.4 L484.5,160.5 L485.0,160.7 L485.4,160.9 L485.8,161.0 L486.3,161.2 L486.7,161.4 L487.1,161.5 L487.6,161.7 L488.0,161.9 L488.4,162.0 L488.9,162.2 L489.3,162.3 L489.7,162.5 L490.2,162.7 L490.6,162.8 L491.1,163.0 L491.5,163.2 L491.9,163.3 L492.4,163.5 L492.8,163.6 L493.2,163.8 L493.7,163.9 L494.1,164.1 L494.5,164.2 L495.0,164.4 L495.4,164.6 L495.8,164.7 L496.3,164.9 L496.7,165.1 L497.1,165.3 L497.6,165.5 L498.0,165.7 L498.4,165.9 L498.9,166.1 L499.3,166.4 L499.7,166.7 L500.2,166.9 L500.6,167.2 L501.0,167.5 L501.5,167.9 L501.9,168.2 L502.3,168.6 L502.8,169.0 L503.2,169.5 L503.6,170.0 L504.1,170.5 L504.5,171.1 L504.9,171.6 L505.4,172.2 L505.8,172.8 L506.2,173.4 L506.7,174.0 L507.1,174.7 L507.5,175.3 L508.0,176.0 L508.4,176.7 L508.8,177.4 L509.3,178.1 L509.7,178.7 L510.1,179.2 L510.6,179.7 L511.0,180.1 L511.4,180.4 L511.9,180.8 L512.3,181.1 L512.8,181.4 L513.2,181.7 L513.6,181.9 L514.1,182.2 L514.5,182.4 L514.9,182.6 L515.4,182.8 L515.8,183.0 L516.2,183.1 L516.7,183.2 L517.1,183.3 L517.5,183.4 L518.0,183.5 L518.4,183.5 L518.8,183.6 L519.3,183.7 L519.7,183.8 L520.1,183.8 L520.6,183.9 L521.0,184.0 L521.4,184.0 L521.9,184.1 L522.3,184.1 L522.7,184.2 L523.2,184.2 L523.6,184.3 L524.0,184.3 L524.5,184.3 L524.9,184.4 L525.3,184.4 L525.8,184.5 L526.2,184.5 L526.6,184.5 L527.1,184.5 L527.5,184.6" fill="none" stroke="#a828b8" stroke-width="1.40" stroke-dasharray="5,4" stroke-linejoin="round"/>
<path d="M436.4,147.6 L436.8,147.9 L437.2,148.1 L437.7,148.3 L438.1,148.6 L438.5,148.8 L439.0,148.9 L439.4,149.1 L439.8,149.2 L440.3,149.3 L440.7,149.4 L441.1,149.5 L441.6,149.5 L442.0,149.6 L442.4,149.7 L442.9,149.8 L443.3,149.8 L443.7,149.9 L444.2,149.9 L444.6,150.0 L445.0,150.0 L445.5,150.0 L445.9,150.1 L446.4,150.1 L446.8,150.1 L447.2,150.2 L447.7,150.2 L448.1,150.2 L448.5,150.3 L449.0,150.3 L449.4,150.3 L449.8,150.3 L450.3,150.3 L450.7,150.4 L451.1,150.4 L451.6,150.4 L452.0,150.4 L452.4,150.5 L452.9,150.5 L453.3,150.5 L453.7,150.6 L454.2,150.6 L454.6,150.6 L455.0,150.7 L455.5,150.7 L455.9,150.8 L456.3,150.8 L456.8,150.9 L457.2,150.9 L457.6,151.0 L458.1,151.0 L458.5,151.1 L458.9,151.1 L459.4,151.2 L459.8,151.2 L460.2,151.3 L460.7,151.4 L461.1,151.4 L461.5,151.5 L462.0,151.6 L462.4,151.6 L462.8,151.7 L463.3,151.8 L463.7,151.9 L464.1,151.9 L464.6,152.0 L465.0,152.1 L465.4,152.2 L465.9,152.3 L466.3,152.4 L466.7,152.6 L467.2,152.7 L467.6,152.8 L468.0,153.0 L468.5,153.2 L468.9,153.3 L469.4,153.5 L469.8,153.7 L470.2,153.9 L470.7,154.1 L471.1,154.3 L471.5,154.5 L472.0,154.7 L472.4,154.9 L472.8,155.1 L473.3,155.3 L473.7,155.5 L474.1,155.7 L474.6,155.9 L475.0,156.1 L475.4,156.3 L475.9,156.6 L476.3,156.8 L476.7,157.0 L477.2,157.3 L477.6,157.5 L478.0,157.7 L478.5,158.0 L478.9,158.2 L479.3,158.5 L479.8,158.7 L480.2,158.9 L480.6,159.2 L481.1,159.4 L481.5,159.6 L481.9,159.8 L482.4,160.0 L482.8,160.2 L483.2,160.4 L483.7,160.5 L484.1,160.7 L484.5,160.9 L485.0,161.1 L485.4,161.2 L485.8,161.4 L486.3,161.5 L486.7,161.7 L487.1,161.9 L487.6,162.0 L488.0,162.2 L488.4,162.3 L488.9,162.5 L489.3,162.6 L489.7,162.8 L490.2,163.0 L490.6,163.1 L491.1,163.3 L491.5,163.5 L491.9,163.6 L492.4,163.8 L492.8,163.9 L493.2,164.1 L493.7,164.2 L494.1,164.4 L494.5,164.5 L495.0,164.7 L495.4,164.8 L495.8,165.0 L496.3,165.2 L496.7,165.4 L497.1,165.5 L497.6,165.7 L498.0,165.9 L498.4,166.2 L498.9,166.4 L499.3,166.6 L499.7,166.9 L500.2,167.2 L500.6,167.5 L501.0,167.8 L501.5,168.1 L501.9,168.5 L502.3,168.8 L502.8,169.2 L503.2,169.7 L503.6,170.2 L504.1,170.7 L504.5,171.3 L504.9,171.9 L505.4,172.5 L505.8,173.1 L506.2,173.7 L506.7,174.2 L507.1,174.9 L507.5,175.5 L508.0,176.2 L508.4,176.9 L508.8,177.6 L509.3,178.3 L509.7,178.9 L510.1,179.4 L510.6,179.9 L511.0,180.3 L511.4,180.6 L511.9,181.0 L512.3,181.3 L512.8,181.6 L513.2,181.9 L513.6,182.1 L514.1,182.4 L514.5,182.6 L514.9,182.8 L515.4,183.0 L515.8,183.1 L516.2,183.3 L516.7,183.4 L517.1,183.4 L517.5,183.5 L518.0,183.6 L518.4,183.7 L518.8,183.8 L519.3,183.8 L519.7,183.9 L520.1,184.0 L520.6,184.0 L521.0,184.1 L521.4,184.2 L521.9,184.2 L522.3,184.3 L522.7,184.3 L523.2,184.4 L523.6,184.4 L524.0,184.4 L524.5,184.5 L524.9,184.5 L525.3,184.5 L525.8,184.6 L526.2,184.6 L526.6,184.6 L527.1,184.7 L527.5,184.7" fill="none" stroke="#8e2a6a" stroke-width="1.30" stroke-linejoin="round"/>
<path d="M317.9,106.5 L318.3,106.5 L318.8,106.5 L319.2,106.5 L319.6,106.5 L320.1,106.5 L320.5,106.5 L320.9,106.5 L321.4,106.5 L321.8,106.5 L322.2,106.5 L322.7,106.5 L323.1,106.5 L323.5,106.5 L324.0,106.6 L324.4,106.6 L324.8,106.6 L325.3,106.6 L325.7,106.6 L326.1,106.6 L326.6,106.7 L327.0,106.7 L327.4,106.7 L327.9,106.7 L328.3,106.8 L328.7,106.8 L329.2,106.8 L329.6,106.9 L330.0,106.9 L330.5,106.9 L330.9,107.0 L331.3,107.0 L331.8,107.1 L332.2,107.1 L332.6,107.2 L333.1,107.3 L333.5,107.4 L333.9,107.6 L334.4,107.8 L334.8,108.0 L335.2,108.2 L335.7,108.4 L336.1,108.7 L336.6,108.9 L337.0,109.2 L337.4,109.4 L337.9,109.7 L338.3,110.0 L338.7,110.3 L339.2,110.6 L339.6,110.9 L340.0,111.2 L340.5,111.5 L340.9,111.8 L341.3,112.0 L341.8,112.3 L342.2,112.5 L342.6,112.8 L343.1,113.1 L343.5,113.5 L343.9,113.9 L344.4,114.2 L344.8,114.6 L345.2,115.0 L345.7,115.2 L346.1,115.4 L346.5,115.6 L347.0,115.8 L347.4,115.9 L347.8,116.1 L348.3,116.2 L348.7,116.3 L349.1,116.4 L349.6,116.5 L350.0,116.6 L350.4,116.7 L350.9,116.7 L351.3,116.8 L351.7,116.9 L352.2,116.9 L352.6,117.0 L353.0,117.0 L353.5,117.1 L353.9,117.1 L354.3,117.2 L354.8,117.2 L355.2,117.3 L355.6,117.3 L356.1,117.3 L356.5,117.4 L356.9,117.4 L357.4,117.4 L357.8,117.5 L358.3,117.5 L358.7,117.5 L359.1,117.5 L359.6,117.6 L360.0,117.6 L360.4,117.6 L360.9,117.6 L361.3,117.7 L361.7,117.7 L362.2,117.7 L362.6,117.7 L363.0,117.8 L363.5,117.8 L363.9,117.8 L364.3,117.8 L364.8,117.9 L365.2,117.9 L365.6,117.9 L366.1,117.9 L366.5,117.9 L366.9,118.0 L367.4,118.0 L367.8,118.0 L368.2,118.0 L368.7,118.1 L369.1,118.1 L369.5,118.1 L370.0,118.2 L370.4,118.2 L370.8,118.2 L371.3,118.3 L371.7,118.3 L372.1,118.3 L372.6,118.4 L373.0,118.4 L373.4,118.5 L373.9,118.5 L374.3,118.5 L374.7,118.6 L375.2,118.6 L375.6,118.7 L376.0,118.8 L376.5,118.8 L376.9,118.9 L377.3,119.0 L377.8,119.0 L378.2,119.1 L378.6,119.2 L379.1,119.4 L379.5,119.5 L380.0,119.6 L380.4,119.7 L380.8,119.9 L381.3,120.0 L381.7,120.2 L382.1,120.4 L382.6,120.6 L383.0,120.8 L383.4,121.0 L383.9,121.2 L384.3,121.4 L384.7,121.6 L385.2,121.8 L385.6,122.0 L386.0,122.2 L386.5,122.4 L386.9,122.5 L387.3,122.7 L387.8,122.8 L388.2,123.0 L388.6,123.1 L389.1,123.3 L389.5,123.4 L389.9,123.6 L390.4,123.7 L390.8,123.8 L391.2,124.0 L391.7,124.1 L392.1,124.2 L392.5,124.3 L393.0,124.5 L393.4,124.6 L393.8,124.7 L394.3,124.8 L394.7,124.9 L395.1,125.0 L395.6,125.2 L396.0,125.3 L396.4,125.4 L396.9,125.5 L397.3,125.5 L397.7,125.6 L398.2,125.7 L398.6,125.8 L399.0,125.9 L399.5,126.0 L399.9,126.0 L400.3,126.1 L400.8,126.2 L401.2,126.3 L401.6,126.3 L402.1,126.4 L402.5,126.5 L403.0,126.6 L403.4,126.6 L403.8,126.7 L404.3,126.8 L404.7,126.9 L405.1,127.0 L405.6,127.0 L406.0,127.1 L406.4,127.2 L406.9,127.3 L407.3,127.4 L407.7,127.4 L408.2,127.5 L408.6,127.6 L409.0,127.7 L409.5,127.7 L409.9,127.8 L410.3,127.9 L410.8,128.0 L411.2,128.1 L411.6,128.2 L412.1,128.4 L412.5,128.5 L412.9,128.7 L413.4,128.9 L413.8,129.1 L414.2,129.4 L414.7,129.6 L415.1,129.9 L415.5,130.2 L416.0,130.5 L416.4,130.8 L416.8,131.2 L417.3,131.5 L417.7,131.9 L418.1,132.2 L418.6,132.6 L419.0,133.0 L419.4,133.4 L419.9,133.7 L420.3,134.1 L420.7,134.4 L421.2,134.8 L421.6,135.1 L422.0,135.4 L422.5,135.7 L422.9,136.1 L423.3,136.4 L423.8,136.7 L424.2,137.0 L424.7,137.3 L425.1,137.7 L425.5,138.0 L426.0,138.4 L426.4,138.8 L426.8,139.2 L427.3,139.6 L427.7,140.1 L428.1,140.6 L428.6,141.0 L429.0,141.5 L429.4,142.0 L429.9,142.5 L430.3,142.9 L430.7,143.4 L431.2,143.8 L431.6,144.2 L432.0,144.5 L432.5,144.9 L432.9,145.2 L433.3,145.6 L433.8,145.9 L434.2,146.2 L434.6,146.5 L435.1,146.8 L435.5,147.1 L435.9,147.3 L436.4,147.6 L436.8,147.9 L437.2,148.1 L437.7,148.3 L438.1,148.6 L438.5,148.8 L439.0,148.9 L439.4,149.1 L439.8,149.2 L440.3,149.3 L440.7,149.4 L441.1,149.5 L441.6,149.5 L442.0,149.6 L442.4,149.7 L442.9,149.8 L443.3,149.8 L443.7,149.9 L444.2,149.9 L444.6,150.0 L445.0,150.0 L445.5,150.0 L445.9,150.1 L446.4,150.1 L446.8,150.1 L447.2,150.2 L447.7,150.2 L448.1,150.2 L448.5,150.3 L449.0,150.3 L449.4,150.3 L449.8,150.3 L450.3,150.3 L450.7,150.4 L451.1,150.4 L451.6,150.4 L452.0,150.4 L452.4,150.5 L452.9,150.5 L453.3,150.5 L453.7,150.6 L454.2,150.6 L454.6,150.6 L455.0,150.7 L455.5,150.7 L455.9,150.8 L456.3,150.8 L456.8,150.9 L457.2,150.9 L457.6,151.0 L458.1,151.0 L458.5,151.1 L458.9,151.1 L459.4,151.2 L459.8,151.2 L460.2,151.3 L460.7,151.4 L461.1,151.4 L461.5,151.5 L462.0,151.6 L462.4,151.6 L462.8,151.7 L463.3,151.8 L463.7,151.9 L464.1,151.9 L464.6,152.0 L465.0,152.1 L465.4,152.2 L465.9,152.3 L466.3,152.4 L466.7,152.6 L467.2,152.7 L467.6,152.8 L468.0,153.0 L468.5,153.2 L468.9,153.3 L469.4,153.5 L469.8,153.7 L470.2,153.9 L470.7,154.1 L471.1,154.3 L471.5,154.5 L472.0,154.7 L472.4,154.9 L472.8,155.1 L473.3,155.3 L473.7,155.5 L474.1,155.7 L474.6,155.9 L475.0,156.1 L475.4,156.3 L475.9,156.6 L476.3,156.8 L476.7,157.0 L477.2,157.3 L477.6,157.5 L478.0,157.7 L478.5,158.0 L478.9,158.2 L479.3,158.5 L479.8,158.7 L480.2,158.9 L480.6,159.2 L481.1,159.4 L481.5,159.6 L481.9,159.8 L482.4,160.0 L482.8,160.2 L483.2,160.4 L483.7,160.5 L484.1,160.7 L484.5,160.9 L485.0,161.1 L485.4,161.2 L485.8,161.4 L486.3,161.5 L486.7,161.7 L487.1,161.9 L487.6,162.0 L488.0,162.2 L488.4,162.3 L488.9,162.5 L489.3,162.6 L489.7,162.8 L490.2,163.0 L490.6,163.1 L491.1,163.3 L491.5,163.5 L491.9,163.6 L492.4,163.8 L492.8,163.9 L493.2,164.1 L493.7,164.2 L494.1,164.4 L494.5,164.5 L495.0,164.7 L495.4,164.8 L495.8,165.0 L496.3,165.2 L496.7,165.4 L497.1,165.5 L497.6,165.7 L498.0,165.9 L498.4,166.2 L498.9,166.4 L499.3,166.6 L499.7,166.9 L500.2,167.2 L500.6,167.5 L501.0,167.8 L501.5,168.1 L501.9,168.5 L502.3,168.8 L502.8,169.2 L503.2,169.7 L503.6,170.2 L504.1,170.7 L504.5,171.3 L504.9,171.9 L505.4,172.5 L505.8,173.1 L506.2,173.7 L506.7,174.2 L507.1,174.9 L507.5,175.5 L508.0,176.2 L508.4,176.9 L508.8,177.6 L509.3,178.3 L509.7,178.9 L510.1,179.4 L510.6,179.9 L511.0,180.3 L511.4,180.6 L511.9,181.0 L512.3,181.3 L512.8,181.6 L513.2,181.9 L513.6,182.1 L514.1,182.4 L514.5,182.6 L514.9,182.8 L515.4,183.0 L515.8,183.1 L516.2,183.3 L516.7,183.4 L517.1,183.4 L517.5,183.5 L518.0,183.6 L518.4,183.7 L518.8,183.8 L519.3,183.8 L519.7,183.9 L520.1,184.0 L520.6,184.0 L521.0,184.1 L521.4,184.2 L521.9,184.2 L522.3,184.3 L522.7,184.3 L523.2,184.4 L523.6,184.4 L524.0,184.4 L524.5,184.5 L524.9,184.5 L525.3,184.5 L525.8,184.6 L526.2,184.6 L526.6,184.6 L527.1,184.7 L527.5,184.7" fill="none" stroke="#a51818" stroke-width="1.50" stroke-dasharray="6.5,2,1.6,2.5" stroke-linejoin="round"/>
<path d="M302.7,107.7 L303.1,107.4 L303.6,106.2 L304.0,105.4 L304.4,105.8 L304.9,106.3 L305.3,106.3 L305.7,106.2 L306.2,106.3 L306.6,105.9 L307.0,106.0 L307.5,107.0 L307.9,107.9 L308.3,107.9 L308.8,107.0 L309.2,106.2 L309.6,105.7 L310.1,105.8 L310.5,106.4 L310.9,105.9 L311.4,105.5 L311.8,106.5 L312.2,107.4 L312.7,106.8 L313.1,105.8 L313.5,106.0 L314.0,106.6 L314.4,106.3 L314.9,105.9 L315.3,106.3 L315.7,107.4 L316.2,107.4 L316.6,106.0 L317.0,105.4 L317.5,105.3 L317.9,105.4 L318.3,106.0 L318.8,106.2 L319.2,106.2 L319.6,106.1 L320.1,106.1 L320.5,106.1 L320.9,106.0 L321.4,105.9 L321.8,105.8 L322.2,105.8 L322.7,105.7 L323.1,105.6 L323.5,105.4 L324.0,105.3 L324.4,105.2 L324.8,105.0 L325.3,104.9 L325.7,104.7 L326.1,104.5 L326.6,104.3 L327.0,104.0 L327.4,103.7 L327.9,103.3 L328.3,102.8 L328.7,102.4 L329.2,101.9 L329.6,101.3 L330.0,100.8 L330.5,100.2 L330.9,99.6 L331.3,98.9 L331.8,98.0 L332.2,96.9 L332.6,95.6 L333.1,94.0 L333.5,92.0 L333.9,89.8 L334.4,87.2 L334.8,84.4 L335.2,81.2 L335.7,77.8 L336.1,74.2 L336.6,70.4 L337.0,66.7 L337.4,62.9 L337.9,59.1 L338.3,55.0 L338.7,50.8 L339.2,46.6 L339.6,42.7 L340.0,39.5 L340.5,37.3 L340.9,36.2 L341.3,36.0 L341.8,36.5 L342.2,37.6 L342.6,39.2 L343.1,41.5 L343.5,44.5 L343.9,47.9 L344.4,51.8 L344.8,56.1 L345.2,60.6 L345.7,65.4 L346.1,70.3 L346.5,75.2 L347.0,79.9 L347.4,84.3 L347.8,88.4 L348.3,92.2 L348.7,95.5 L349.1,98.4 L349.6,100.9 L350.0,103.0 L350.4,104.8 L350.9,106.3 L351.3,107.5 L351.7,108.5 L352.2,109.4 L352.6,110.2 L353.0,110.8 L353.5,111.4 L353.9,111.8 L354.3,112.2 L354.8,112.5 L355.2,112.7 L355.6,112.8 L356.1,112.9 L356.5,112.9 L356.9,113.0 L357.4,113.0 L357.8,113.0 L358.3,113.0 L358.7,113.0 L359.1,113.0 L359.6,113.0 L360.0,113.0 L360.4,113.0 L360.9,113.0 L361.3,113.0 L361.7,113.1 L362.2,113.1 L362.6,113.1 L363.0,113.1 L363.5,113.1 L363.9,113.1 L364.3,113.1 L364.8,113.0 L365.2,112.9 L365.6,112.7 L366.1,112.5 L366.5,112.3 L366.9,112.1 L367.4,111.9 L367.8,111.6 L368.2,111.3 L368.7,110.9 L369.1,110.5 L369.5,110.1 L370.0,109.7 L370.4,109.2 L370.8,108.8 L371.3,108.3 L371.7,107.8 L372.1,107.4 L372.6,106.9 L373.0,106.5 L373.4,106.1 L373.9,105.7 L374.3,105.3 L374.7,104.8 L375.2,104.1 L375.6,103.4 L376.0,102.6 L376.5,101.7 L376.9,100.7 L377.3,99.8 L377.8,99.0 L378.2,98.2 L378.6,97.5 L379.1,96.8 L379.5,96.1 L380.0,95.6 L380.4,95.0 L380.8,94.6 L381.3,94.2 L381.7,93.9 L382.1,93.7 L382.6,93.7 L383.0,93.7 L383.4,93.9 L383.9,94.1 L384.3,94.3 L384.7,94.6 L385.2,94.9 L385.6,95.2 L386.0,95.5 L386.5,96.0 L386.9,96.5 L387.3,97.1 L387.8,97.8 L388.2,98.6 L388.6,99.5 L389.1,100.4 L389.5,101.3 L389.9,102.2 L390.4,103.1 L390.8,104.0 L391.2,104.9 L391.7,105.7 L392.1,106.6 L392.5,107.4 L393.0,108.3 L393.4,109.1 L393.8,109.8 L394.3,110.5 L394.7,111.1 L395.1,111.7 L395.6,112.1 L396.0,112.5 L396.4,112.8 L396.9,113.0 L397.3,113.2 L397.7,113.3 L398.2,113.4 L398.6,113.4 L399.0,113.5 L399.5,113.5 L399.9,113.6 L400.3,113.6 L400.8,113.5 L401.2,113.5 L401.6,113.4 L402.1,113.3 L402.5,113.1 L403.0,113.0 L403.4,112.8 L403.8,112.6 L404.3,112.3 L404.7,112.0 L405.1,111.6 L405.6,111.2 L406.0,110.7 L406.4,110.0 L406.9,109.4 L407.3,108.7 L407.7,108.0 L408.2,107.4 L408.6,106.9 L409.0,106.3 L409.5,105.4 L409.9,104.2 L410.3,102.5 L410.8,100.4 L411.2,97.8 L411.6,94.8 L412.1,91.4 L412.5,87.6 L412.9,83.2 L413.4,78.5 L413.8,73.8 L414.2,69.6 L414.7,66.0 L415.1,62.8 L415.5,60.0 L416.0,57.4 L416.4,55.1 L416.8,53.5 L417.3,52.6 L417.7,52.5 L418.1,53.2 L418.6,54.7 L419.0,56.8 L419.4,59.1 L419.9,62.1 L420.3,65.8 L420.7,69.9 L421.2,74.1 L421.6,78.1 L422.0,81.4 L422.5,83.9 L422.9,85.4 L423.3,85.6 L423.8,84.5 L424.2,82.2 L424.7,78.9 L425.1,74.8 L425.5,70.0 L426.0,64.6 L426.4,58.9 L426.8,53.1 L427.3,47.6 L427.7,42.6 L428.1,38.4 L428.6,35.0 L429.0,32.5 L429.4,31.1 L429.9,30.7 L430.3,31.3 L430.7,32.6 L431.2,34.7 L431.6,37.6 L432.0,41.5 L432.5,46.2 L432.9,51.6 L433.3,57.8 L433.8,64.5 L434.2,71.8 L434.6,79.3 L435.1,86.5 L435.5,93.3 L435.9,99.6 L436.4,105.5 L436.8,111.0 L437.2,116.0 L437.7,120.3 L438.1,123.9 L438.5,126.9 L439.0,129.2 L439.4,131.2 L439.8,133.0 L440.3,134.7 L440.7,136.4 L441.1,138.1 L441.6,139.7 L442.0,141.2 L442.4,142.5 L442.9,143.8 L443.3,144.9 L443.7,145.8 L444.2,146.5 L444.6,147.2 L445.0,147.7 L445.5,148.2 L445.9,148.6 L446.4,149.0 L446.8,149.3 L447.2,149.6 L447.7,149.8 L448.1,150.0 L448.5,150.1 L449.0,150.1 L449.4,150.0 L449.8,149.9 L450.3,149.8 L450.7,149.6 L451.1,149.4 L451.6,149.2 L452.0,149.0 L452.4,148.8 L452.9,148.6 L453.3,148.4 L453.7,148.1 L454.2,147.9 L454.6,147.6 L455.0,147.3 L455.5,147.0 L455.9,146.6 L456.3,146.3 L456.8,146.0 L457.2,145.7 L457.6,145.3 L458.1,145.0 L458.5,144.5 L458.9,144.1 L459.4,143.6 L459.8,143.0 L460.2,142.4 L460.7,141.8 L461.1,141.1 L461.5,140.3 L462.0,139.5 L462.4,138.6 L462.8,137.7 L463.3,136.7 L463.7,135.6 L464.1,134.5 L464.6,133.4 L465.0,132.2 L465.4,131.0 L465.9,129.9 L466.3,128.8 L466.7,127.7 L467.2,126.7 L467.6,125.7 L468.0,124.8 L468.5,123.8 L468.9,122.8 L469.4,121.8 L469.8,120.7 L470.2,119.7 L470.7,118.7 L471.1,117.9 L471.5,117.1 L472.0,116.4 L472.4,115.8 L472.8,115.4 L473.3,115.0 L473.7,114.8 L474.1,114.5 L474.6,114.3 L475.0,114.1 L475.4,113.9 L475.9,113.9 L476.3,114.2 L476.7,114.5 L477.2,114.9 L477.6,115.4 L478.0,116.0 L478.5,116.7 L478.9,117.4 L479.3,118.1 L479.8,119.0 L480.2,120.1 L480.6,121.3 L481.1,122.6 L481.5,123.9 L481.9,125.3 L482.4,126.7 L482.8,128.1 L483.2,129.5 L483.7,130.9 L484.1,132.3 L484.5,133.5 L485.0,134.7 L485.4,135.6 L485.8,136.4 L486.3,137.0 L486.7,137.5 L487.1,137.9 L487.6,138.2 L488.0,138.4 L488.4,138.7 L488.9,138.9 L489.3,139.0 L489.7,139.0 L490.2,139.0 L490.6,138.9 L491.1,138.9 L491.5,138.9 L491.9,138.8 L492.4,138.7 L492.8,138.5 L493.2,138.1 L493.7,137.7 L494.1,137.1 L494.5,136.4 L495.0,135.7 L495.4,134.8 L495.8,133.9 L496.3,133.0 L496.7,132.0 L497.1,130.8 L497.6,129.4 L498.0,127.8 L498.4,125.9 L498.9,123.7 L499.3,121.4 L499.7,118.9 L500.2,116.2 L500.6,113.4 L501.0,110.6 L501.5,107.6 L501.9,104.6 L502.3,101.6 L502.8,98.4 L503.2,95.2 L503.6,91.8 L504.1,88.2 L504.5,84.4 L504.9,80.7 L505.4,77.2 L505.8,74.2 L506.2,71.7 L506.7,69.8 L507.1,68.5 L507.5,68.0 L508.0,68.4 L508.4,69.6 L508.8,71.4 L509.3,74.1 L509.7,77.5 L510.1,81.4 L510.6,85.9 L511.0,91.0 L511.4,96.4 L511.9,102.2 L512.3,108.1 L512.8,114.0 L513.2,120.0 L513.6,126.0 L514.1,132.1 L514.5,138.1 L514.9,143.7 L515.4,148.9 L515.8,153.4 L516.2,157.3 L516.7,160.7 L517.1,163.7 L517.5,166.2 L518.0,168.5 L518.4,170.4 L518.8,172.1 L519.3,173.6 L519.7,175.0 L520.1,176.1 L520.6,177.2 L521.0,178.2 L521.4,179.1 L521.9,179.9 L522.3,180.6 L522.7,181.2 L523.2,181.7 L523.6,182.0 L524.0,182.3 L524.5,182.6 L524.9,182.9 L525.3,183.1 L525.8,183.3 L526.2,183.5 L526.6,183.6 L527.1,183.7 L527.5,183.3 L527.9,183.5 L528.4,184.1 L528.8,184.1 L529.2,184.2 L529.7,184.4 L530.1,183.5 L530.5,183.5 L531.0,185.1 L531.4,186.3 L531.8,185.5 L532.3,184.7 L532.7,185.3 L533.1,186.0 L533.6,185.8 L534.0,185.0 L534.5,184.7 L534.9,185.3 L535.3,186.1 L535.8,187.1 L536.2,186.9 L536.6,185.5 L537.1,184.9 L537.5,185.2 L537.9,185.5 L538.4,185.9 L538.8,186.0 L539.2,186.2 L539.7,186.3 L540.1,185.5 L540.5,184.4 L541.0,184.0 L541.4,184.1 L541.8,184.0 L542.3,184.2 L542.7,185.3 L543.1,185.6 L543.6,184.9 L544.0,184.2 L544.4,183.9 L544.9,184.8 L545.3,186.1" fill="none" stroke="#ff0000" stroke-width="1.40" stroke-dasharray="5,4" stroke-linejoin="round"/>
<rect x="302.00" y="18.10" width="244.00" height="196.80" fill="none" stroke="#333333" stroke-width="1.25"/>
<line x1="326.40" y1="214.90" x2="326.40" y2="218.90" stroke="#333333" stroke-width="1.1"/>
<line x1="375.20" y1="214.90" x2="375.20" y2="218.90" stroke="#333333" stroke-width="1.1"/>
<line x1="424.00" y1="214.90" x2="424.00" y2="218.90" stroke="#333333" stroke-width="1.1"/>
<line x1="472.80" y1="214.90" x2="472.80" y2="218.90" stroke="#333333" stroke-width="1.1"/>
<line x1="521.60" y1="214.90" x2="521.60" y2="218.90" stroke="#333333" stroke-width="1.1"/>
<line x1="302.00" y1="214.90" x2="302.00" y2="217.10" stroke="#333333" stroke-width="1.1"/>
<line x1="350.80" y1="214.90" x2="350.80" y2="217.10" stroke="#333333" stroke-width="1.1"/>
<line x1="399.60" y1="214.90" x2="399.60" y2="217.10" stroke="#333333" stroke-width="1.1"/>
<line x1="448.40" y1="214.90" x2="448.40" y2="217.10" stroke="#333333" stroke-width="1.1"/>
<line x1="497.20" y1="214.90" x2="497.20" y2="217.10" stroke="#333333" stroke-width="1.1"/>
<line x1="546.00" y1="214.90" x2="546.00" y2="217.10" stroke="#333333" stroke-width="1.1"/>
<text x="326.40" y="228.00" font-size="9.50" text-anchor="middle" font-family="'Liberation Sans', sans-serif">920</text>
<text x="375.20" y="228.00" font-size="9.50" text-anchor="middle" font-family="'Liberation Sans', sans-serif">910</text>
<text x="424.00" y="228.00" font-size="9.50" text-anchor="middle" font-family="'Liberation Sans', sans-serif">900</text>
<text x="472.80" y="228.00" font-size="9.50" text-anchor="middle" font-family="'Liberation Sans', sans-serif">890</text>
<text x="521.60" y="228.00" font-size="9.50" text-anchor="middle" font-family="'Liberation Sans', sans-serif">880</text>
<text x="424.20" y="243.90" font-size="10.30" text-anchor="middle" font-family="'Liberation Sans', sans-serif">Binding energy (eV)</text>
<text transform="translate(294.0,116.40) rotate(-90)" font-size="10.4" font-family="'Liberation Sans', sans-serif" text-anchor="middle">Counts (s<tspan font-size="6.8" dy="-3.6">-1</tspan><tspan dy="3.6">)</tspan></text>
<text x="415.3" y="13.9" font-size="10.2" text-anchor="start" font-family="'Liberation Sans', sans-serif">CeO<tspan font-size="6.8" dy="2.6">2</tspan></text>
<text x="286.30" y="17.00" font-size="18.00" text-anchor="start" font-family="'Liberation Sans', sans-serif">c)</text>
<text x="543.00" y="29.30" font-size="10.00" text-anchor="end" font-family="'Liberation Sans', sans-serif">Ce 3d</text>
<line x1="306.50" y1="135.60" x2="329.70" y2="135.60" stroke="#5a5a5a" stroke-width="1.10"/>
<line x1="306.50" y1="149.20" x2="329.70" y2="149.20" stroke="#0000ff" stroke-width="1.50"/>
<line x1="306.50" y1="163.20" x2="329.70" y2="163.20" stroke="#008a00" stroke-width="1.40" stroke-dasharray="5,5"/>
<line x1="306.50" y1="176.90" x2="329.70" y2="176.90" stroke="#a828b8" stroke-width="1.40" stroke-dasharray="5,5"/>
<line x1="306.50" y1="189.40" x2="329.70" y2="189.40" stroke="#a51818" stroke-width="1.50" stroke-dasharray="5.8,2.4,1.3,2.5"/>
<line x1="306.50" y1="202.00" x2="329.70" y2="202.00" stroke="#ff0000" stroke-width="1.50" stroke-dasharray="5,4.5"/>
<text x="332.70" y="139.10" font-size="10.00" text-anchor="start" font-family="'Liberation Sans', sans-serif">Experimental</text>
<text x="332.70" y="152.70" font-size="10.00" text-anchor="start" font-family="'Liberation Sans', sans-serif">Ce<tspan font-size="6.6" dy="-4.0">4+</tspan><tspan dy="4.0"> </tspan><tspan font-family="'DejaVu Sans', 'Liberation Sans', sans-serif" font-size="9.4">&#965;</tspan>&#8211;<tspan font-family="'DejaVu Sans', 'Liberation Sans', sans-serif" font-size="9.4">&#957;</tspan></text>
<text x="332.70" y="166.70" font-size="10.00" text-anchor="start" font-family="'Liberation Sans', sans-serif">Ce<tspan font-size="6.6" dy="-4.0">4+</tspan><tspan dy="4.0"> </tspan><tspan font-family="'DejaVu Sans', 'Liberation Sans', sans-serif" font-size="9.4">&#965;</tspan><tspan dy="-0.6" font-size="10">''</tspan><tspan dy="0.6">+</tspan><tspan font-family="'DejaVu Sans', 'Liberation Sans', sans-serif" font-size="9.4">&#957;</tspan><tspan dy="-0.6" font-size="10">''</tspan></text>
<text x="332.70" y="180.40" font-size="10.00" text-anchor="start" font-family="'Liberation Sans', sans-serif">Ce<tspan font-size="6.6" dy="-4.0">4+</tspan><tspan dy="4.0"> </tspan><tspan font-family="'DejaVu Sans', 'Liberation Sans', sans-serif" font-size="9.4">&#965;</tspan><tspan dy="-0.6" font-size="10">'''</tspan><tspan dy="0.6">+</tspan><tspan font-family="'DejaVu Sans', 'Liberation Sans', sans-serif" font-size="9.4">&#957;</tspan><tspan dy="-0.6" font-size="10">'''</tspan></text>
<text x="332.70" y="192.90" font-size="10.00" text-anchor="start" font-family="'Liberation Sans', sans-serif">Background</text>
<text x="332.70" y="205.50" font-size="10.00" text-anchor="start" font-family="'Liberation Sans', sans-serif">Fitted curve</text>
<text x="382.40" y="46.30" font-size="9.8" font-family="'Liberation Sans', sans-serif">Ce<tspan font-size="6.6" dy="-4.6">4+</tspan><tspan dy="4.6"> 3d</tspan><tspan font-size="7.2" dy="2.5">3/2</tspan></text>
<text x="493.50" y="62.20" font-size="9.8" font-family="'Liberation Sans', sans-serif">Ce<tspan font-size="6.6" dy="-4.6">4+</tspan><tspan dy="4.6"> 3d</tspan><tspan font-size="7.2" dy="2.5">5/2</tspan></text>
<text x="333.20" y="99.70" font-size="9.50" font-family="'Liberation Sans', sans-serif"><tspan font-family="'DejaVu Sans', 'Liberation Sans', sans-serif" font-size="9.03">&#957;</tspan><tspan dy="-0.4" font-size="10">'''</tspan></text>
<text x="377.00" y="113.60" font-size="9.50" font-family="'Liberation Sans', sans-serif"><tspan font-family="'DejaVu Sans', 'Liberation Sans', sans-serif" font-size="9.03">&#957;</tspan><tspan dy="-0.4" font-size="10">''</tspan></text>
<text x="410.20" y="115.50" font-size="9.50" font-family="'Liberation Sans', sans-serif"><tspan font-family="'DejaVu Sans', 'Liberation Sans', sans-serif" font-size="9.03">&#957;</tspan><tspan dy="-0.4" font-size="10"></tspan></text>
<text x="424.90" y="124.50" font-size="9.50" font-family="'Liberation Sans', sans-serif"><tspan font-family="'DejaVu Sans', 'Liberation Sans', sans-serif" font-size="9.03">&#965;</tspan><tspan dy="-0.4" font-size="10">'''</tspan></text>
<text x="469.70" y="143.80" font-size="9.50" font-family="'Liberation Sans', sans-serif"><tspan font-family="'DejaVu Sans', 'Liberation Sans', sans-serif" font-size="9.03">&#965;</tspan><tspan dy="-0.4" font-size="10">''</tspan></text>
<text x="503.80" y="146.50" font-size="9.50" font-family="'Liberation Sans', sans-serif"><tspan font-family="'DejaVu Sans', 'Liberation Sans', sans-serif" font-size="9.03">&#965;</tspan><tspan dy="-0.4" font-size="10"></tspan></text>
<path d="M319.2,338.9 L319.6,338.9 L320.1,339.0 L320.5,339.0 L320.9,339.0 L321.4,339.0 L321.8,339.0 L322.2,339.0 L322.7,339.0 L323.1,339.0 L323.5,339.0 L324.0,339.0 L324.4,339.0 L324.8,338.9 L325.3,338.9 L325.7,338.8 L326.1,338.8 L326.6,338.6 L327.0,338.5 L327.4,338.2 L327.9,337.9 L328.3,337.5 L328.7,337.0 L329.2,336.3 L329.6,335.6 L330.0,334.7 L330.5,333.7 L330.9,332.6 L331.3,331.2 L331.8,329.7 L332.2,327.9 L332.6,326.0 L333.1,324.0 L333.5,321.8 L333.9,319.5 L334.4,317.0 L334.8,314.4 L335.2,311.6 L335.7,308.8 L336.1,305.7 L336.6,302.7 L337.0,299.6 L337.4,296.6 L337.9,293.7 L338.3,291.1 L338.7,288.8 L339.2,287.0 L339.6,285.7 L340.0,285.0 L340.5,284.8 L340.9,285.3 L341.3,286.5 L341.8,288.4 L342.2,291.0 L342.6,294.1 L343.1,297.6 L343.5,301.4 L343.9,305.4 L344.4,309.4 L344.8,313.4 L345.2,317.4 L345.7,321.2 L346.1,324.9 L346.5,328.4 L347.0,331.5 L347.4,334.4 L347.8,337.1 L348.3,339.5 L348.7,341.6 L349.1,343.5 L349.6,345.2 L350.0,346.7 L350.4,347.9 L350.9,349.1 L351.3,350.0 L351.7,350.9 L352.2,351.7 L352.6,352.4 L353.0,353.1 L353.5,353.7 L353.9,354.2 L354.3,354.6 L354.8,355.0 L355.2,355.4 L355.6,355.6 L356.1,355.9 L356.5,356.1 L356.9,356.3 L357.4,356.5 L357.8,356.6 L358.3,356.8 L358.7,357.0 L359.1,357.1 L359.6,357.3 L360.0,357.4 L360.4,357.5 L360.9,357.6 L361.3,357.7 L361.7,357.9 L362.2,358.0 L362.6,358.1 L363.0,358.2 L363.5,358.3 L363.9,358.4 L364.3,358.5 L364.8,358.6 L365.2,358.6 L365.6,358.7 L366.1,358.8 L366.5,358.9 L366.9,359.0 L367.4,359.1 L367.8,359.2 L368.2,359.3 L368.7,359.5 L369.1,359.6 L369.5,359.7 L370.0,359.8 L370.4,359.9 L370.8,360.0 L371.3,360.1 L371.7,360.3 L372.1,360.4 L372.6,360.5 L373.0,360.6 L373.4,360.7 L373.9,360.8 L374.3,361.0 L374.7,361.1 L375.2,361.2 L375.6,361.3 L376.0,361.4 L376.5,361.5 L376.9,361.7 L377.3,361.8 L377.8,361.9 L378.2,362.0 L378.6,362.2 L379.1,362.3 L379.5,362.4 L380.0,362.6 L380.4,362.7 L380.8,362.9 L381.3,363.0 L381.7,363.1 L382.1,363.3 L382.6,363.4 L383.0,363.6 L383.4,363.7 L383.9,363.8 L384.3,364.0 L384.7,364.1 L385.2,364.2 L385.6,364.3 L386.0,364.4 L386.5,364.6 L386.9,364.7 L387.3,364.8 L387.8,364.9 L388.2,365.0 L388.6,365.1 L389.1,365.2 L389.5,365.3 L389.9,365.4 L390.4,365.5 L390.8,365.6 L391.2,365.7 L391.7,365.8 L392.1,365.9 L392.5,366.0 L393.0,366.1 L393.4,366.2 L393.8,366.3 L394.3,366.5 L394.7,366.6 L395.1,366.7 L395.6,366.8 L396.0,366.9 L396.4,367.0 L396.9,367.2 L397.3,367.3 L397.7,367.4 L398.2,367.5 L398.6,367.7 L399.0,367.8 L399.5,367.9 L399.9,368.0" fill="none" stroke="#a828b8" stroke-width="1.40" stroke-dasharray="5,4" stroke-linejoin="round"/>
<path d="M302.7,337.9 L303.1,337.6 L303.6,337.2 L304.0,337.7 L304.4,336.7 L304.9,335.3 L305.3,336.5 L305.7,338.3 L306.2,337.9 L306.6,337.1 L307.0,337.9 L307.5,338.5 L307.9,338.7 L308.3,338.0 L308.8,337.2 L309.2,337.5 L309.6,338.6 L310.1,340.1 L310.5,340.0 L310.9,338.2 L311.4,337.3 L311.8,338.0 L312.2,337.9 L312.7,338.4 L313.1,340.6 L313.5,341.2 L314.0,340.1 L314.4,339.2 L314.9,339.1 L315.3,337.7 L315.7,337.5 L316.2,339.0 L316.6,337.8 L317.0,335.5 L317.5,336.7 L317.9,340.4 L318.3,342.3 L318.8,341.0 L319.2,339.5 L319.6,339.0 L320.1,338.4 L320.5,338.2 L320.9,337.8 L321.4,338.2 L321.8,339.3 L322.2,339.6 L322.7,339.7 L323.1,340.0 L323.5,339.9 L324.0,340.2 L324.4,339.3 L324.8,337.4 L325.3,338.0 L325.7,338.5 L326.1,338.0 L326.6,337.6 L327.0,337.3 L327.4,338.3 L327.9,338.9 L328.3,339.4 L328.7,339.9 L329.2,338.0 L329.6,335.5 L330.0,334.2 L330.5,333.2 L330.9,332.4 L331.3,331.7 L331.8,329.7 L332.2,328.8 L332.6,328.8 L333.1,326.4 L333.5,323.4 L333.9,321.0 L334.4,318.1 L334.8,315.2 L335.2,311.6 L335.7,308.0 L336.1,306.2 L336.6,303.7 L337.0,299.1 L337.4,295.0 L337.9,291.4 L338.3,288.0 L338.7,286.4 L339.2,286.6 L339.6,287.0 L340.0,284.6 L340.5,283.3 L340.9,285.3 L341.3,286.8 L341.8,288.5 L342.2,291.3 L342.6,294.2 L343.1,297.8 L343.5,302.5 L343.9,306.2 L344.4,309.1 L344.8,312.5 L345.2,316.5 L345.7,321.4 L346.1,326.2 L346.5,329.7 L347.0,332.4 L347.4,335.4 L347.8,338.4 L348.3,339.9 L348.7,341.0 L349.1,342.7 L349.6,344.2 L350.0,346.5 L350.4,349.0 L350.9,348.3 L351.3,346.8 L351.7,347.3 L352.2,348.8 L352.6,351.6 L353.0,353.0 L353.5,352.4 L353.9,352.6 L354.3,353.1 L354.8,354.4 L355.2,355.3 L355.6,353.7 L356.1,353.0 L356.5,354.7 L356.9,355.9 L357.4,356.4 L357.8,356.2 L358.3,354.1 L358.7,353.7 L359.1,355.6 L359.6,355.4 L360.0,353.9 L360.4,354.9 L360.9,356.9 L361.3,357.2 L361.7,357.2 L362.2,357.0 L362.6,355.5 L363.0,354.4 L363.5,354.3 L363.9,354.6 L364.3,355.0 L364.8,355.3 L365.2,355.6 L365.6,355.8 L366.1,356.3 L366.5,357.6 L366.9,358.7 L367.4,358.4 L367.8,356.9 L368.2,355.7 L368.7,355.6 L369.1,356.9 L369.5,356.9 L370.0,355.4 L370.4,354.8 L370.8,354.2 L371.3,353.7 L371.7,353.6 L372.1,353.6 L372.6,353.1 L373.0,351.4 L373.4,350.9 L373.9,351.2 L374.3,350.9 L374.7,350.5 L375.2,349.7 L375.6,349.2 L376.0,348.8 L376.5,349.3 L376.9,351.1 L377.3,352.2 L377.8,351.8 L378.2,350.6 L378.6,350.0 L379.1,349.7 L379.5,348.0 L380.0,345.9 L380.4,345.3 L380.8,346.6 L381.3,347.1 L381.7,345.8 L382.1,345.0 L382.6,345.1 L383.0,345.0 L383.4,344.4 L383.9,345.0 L384.3,345.8 L384.7,344.4 L385.2,344.6 L385.6,347.0 L386.0,348.0 L386.5,347.4 L386.9,347.3 L387.3,347.9 L387.8,349.0 L388.2,350.0 L388.6,349.6 L389.1,349.4 L389.5,350.8 L389.9,353.1 L390.4,355.6 L390.8,356.3 L391.2,354.6 L391.7,353.1 L392.1,355.1 L392.5,358.2 L393.0,358.4 L393.4,359.3 L393.8,360.4 L394.3,359.2 L394.7,358.6 L395.1,358.6 L395.6,359.2 L396.0,361.4 L396.4,361.5 L396.9,360.4 L397.3,361.4 L397.7,362.1 L398.2,362.1 L398.6,361.8 L399.0,360.8 L399.5,360.9 L399.9,362.3 L400.3,365.2 L400.8,365.9 L401.2,363.1 L401.6,361.8 L402.1,362.8 L402.5,363.5 L403.0,364.7 L403.4,365.6 L403.8,364.1 L404.3,361.1 L404.7,359.2 L405.1,359.2 L405.6,359.1 L406.0,359.1 L406.4,360.1 L406.9,359.7 L407.3,357.7 L407.7,356.6 L408.2,356.9 L408.6,355.3 L409.0,351.9 L409.5,350.7 L409.9,349.3 L410.3,346.9 L410.8,345.3 L411.2,344.8 L411.6,343.6 L412.1,339.9 L412.5,335.4 L412.9,332.7 L413.4,331.0 L413.8,328.3 L414.2,326.4 L414.7,325.3 L415.1,322.9 L415.5,320.5 L416.0,319.7 L416.4,319.5 L416.8,318.8 L417.3,318.9 L417.7,319.7 L418.1,320.9 L418.6,322.8 L419.0,325.5 L419.4,328.9 L419.9,330.5 L420.3,331.2 L420.7,334.9 L421.2,338.7 L421.6,339.8 L422.0,341.0 L422.5,342.2 L422.9,341.8 L423.3,341.9 L423.8,342.3 L424.2,340.3 L424.7,336.2 L425.1,333.5 L425.5,331.6 L426.0,327.0 L426.4,323.4 L426.8,320.4 L427.3,313.4 L427.7,308.8 L428.1,308.9 L428.6,306.8 L429.0,304.7 L429.4,304.5 L429.9,303.5 L430.3,303.8 L430.7,304.5 L431.2,306.1 L431.6,309.8 L432.0,314.2 L432.5,318.7 L432.9,322.4 L433.3,325.5 L433.8,331.1 L434.2,337.9 L434.6,342.4 L435.1,347.0 L435.5,353.3 L435.9,359.0 L436.4,362.8 L436.8,365.6 L437.2,369.9 L437.7,375.5 L438.1,379.2 L438.5,380.9 L439.0,383.8 L439.4,388.0 L439.8,391.1 L440.3,393.9 L440.7,397.5 L441.1,398.9 L441.6,400.6 L442.0,403.3 L442.4,403.9 L442.9,404.0 L443.3,404.7 L443.7,405.2 L444.2,405.5 L444.6,406.7 L445.0,407.5 L445.5,408.2 L445.9,409.8 L446.4,409.4 L446.8,408.3 L447.2,409.1 L447.7,409.6 L448.1,409.7 L448.5,409.4 L449.0,409.6 L449.4,411.5 L449.8,411.7 L450.3,409.5 L450.7,409.0 L451.1,410.4 L451.6,411.2 L452.0,410.9 L452.4,411.4 L452.9,412.4 L453.3,411.7 L453.7,410.2 L454.2,409.6 L454.6,410.0 L455.0,410.0 L455.5,409.6 L455.9,410.2 L456.3,410.6 L456.8,409.8 L457.2,409.5 L457.6,410.4 L458.1,410.1 L458.5,408.1 L458.9,408.3 L459.4,409.8 L459.8,408.7 L460.2,407.1 L460.7,408.0 L461.1,408.5 L461.5,406.0 L462.0,404.2 L462.4,404.9 L462.8,405.2 L463.3,403.5 L463.7,402.9 L464.1,402.9 L464.6,401.3 L465.0,399.7 L465.4,399.0 L465.9,398.3 L466.3,397.5 L466.7,396.2 L467.2,393.6 L467.6,391.7 L468.0,391.7 L468.5,390.1 L468.9,387.7 L469.4,388.1 L469.8,388.4 L470.2,386.1 L470.7,383.6 L471.1,383.3 L471.5,383.6 L472.0,382.5 L472.4,381.5 L472.8,382.7 L473.3,383.9 L473.7,383.5 L474.1,382.6 L474.6,382.8 L475.0,383.7 L475.4,383.4 L475.9,382.9 L476.3,383.8 L476.7,385.3 L477.2,386.2 L477.6,385.6 L478.0,384.7 L478.5,385.4 L478.9,387.0 L479.3,388.7 L479.8,388.8 L480.2,387.7 L480.6,388.2 L481.1,390.5 L481.5,393.3 L481.9,394.7 L482.4,395.0 L482.8,395.1 L483.2,394.9 L483.7,395.5 L484.1,395.8 L484.5,395.7 L485.0,396.3 L485.4,397.5 L485.8,397.0 L486.3,395.1 L486.7,395.1 L487.1,396.5 L487.6,396.2 L488.0,394.5 L488.4,394.4 L488.9,396.4 L489.3,397.5 L489.7,396.1 L490.2,395.3 L490.6,395.8 L491.1,395.9 L491.5,395.8 L491.9,395.3 L492.4,394.9 L492.8,394.8 L493.2,394.5 L493.7,394.0 L494.1,392.6 L494.5,391.1 L495.0,391.0 L495.4,391.2 L495.8,390.8 L496.3,390.4 L496.7,388.7 L497.1,385.5 L497.6,383.4 L498.0,381.7 L498.4,379.1 L498.9,376.9 L499.3,374.8 L499.7,373.9 L500.2,373.4 L500.6,371.2 L501.0,368.5 L501.5,365.5 L501.9,363.0 L502.3,361.0 L502.8,360.1 L503.2,360.0 L503.6,358.2 L504.1,354.8 L504.5,351.6 L504.9,349.3 L505.4,348.4 L505.8,346.5 L506.2,343.2 L506.7,341.3 L507.1,341.4 L507.5,341.4 L508.0,341.1 L508.4,341.5 L508.8,341.8 L509.3,344.3 L509.7,349.7 L510.1,353.3 L510.6,355.0 L511.0,358.3 L511.4,364.3 L511.9,370.8 L512.3,375.1 L512.8,379.0 L513.2,384.7 L513.6,389.2 L514.1,391.6 L514.5,395.1 L514.9,399.9 L515.4,404.8 L515.8,408.1 L516.2,409.7 L516.7,412.7 L517.1,417.0 L517.5,420.0 L518.0,422.2 L518.4,424.6 L518.8,425.9 L519.3,426.2 L519.7,428.2 L520.1,432.1 L520.6,434.7 L521.0,434.8 L521.4,434.3 L521.9,434.4 L522.3,435.1 L522.7,435.9 L523.2,436.7 L523.6,437.9 L524.0,439.8 L524.5,441.2 L524.9,441.1 L525.3,440.9 L525.8,441.0 L526.2,442.8 L526.6,443.7 L527.1,441.4 L527.5,440.6 L527.9,442.3 L528.4,442.5 L528.8,442.2 L529.2,442.9 L529.7,443.8 L530.1,444.4 L530.5,443.7 L531.0,442.0 L531.4,440.7 L531.8,440.1 L532.3,441.9 L532.7,443.4 L533.1,442.7 L533.6,443.8 L534.0,445.7 L534.5,446.2 L534.9,446.6 L535.3,446.8 L535.8,446.1 L536.2,444.0 L536.6,444.2 L537.1,446.4 L537.5,446.0 L537.9,444.5 L538.4,444.8 L538.8,446.3 L539.2,446.3 L539.7,445.1 L540.1,444.2 L540.5,444.1 L541.0,444.2 L541.4,444.5 L541.8,444.7 L542.3,443.8 L542.7,443.8 L543.1,444.5 L543.6,444.7 L544.0,446.5 L544.4,446.3 L544.9,444.8 L545.3,445.6" fill="none" stroke="#5a5a5a" stroke-width="1.20" stroke-linejoin="round"/>
<path d="M319.2,338.7 L319.6,338.7 L320.1,338.8 L320.5,338.8 L320.9,338.8 L321.4,338.8 L321.8,338.8 L322.2,338.8 L322.7,338.9 L323.1,338.9 L323.5,338.9 L324.0,338.9 L324.4,339.0 L324.8,339.0 L325.3,339.0 L325.7,339.1 L326.1,339.1 L326.6,339.1 L327.0,339.2 L327.4,339.2 L327.9,339.3 L328.3,339.3 L328.7,339.4 L329.2,339.5 L329.6,339.5 L330.0,339.6 L330.5,339.7 L330.9,339.9 L331.3,340.0 L331.8,340.1 L332.2,340.3 L332.6,340.4 L333.1,340.6 L333.5,340.8 L333.9,341.0 L334.4,341.2 L334.8,341.5 L335.2,341.8 L335.7,342.2 L336.1,342.7 L336.6,343.2 L337.0,343.7 L337.4,344.2 L337.9,344.7 L338.3,345.3 L338.7,345.9 L339.2,346.5 L339.6,347.2 L340.0,347.8 L340.5,348.4 L340.9,348.9 L341.3,349.5 L341.8,350.0 L342.2,350.5 L342.6,350.9 L343.1,351.4 L343.5,351.8 L343.9,352.2 L344.4,352.6 L344.8,352.9 L345.2,353.3 L345.7,353.6 L346.1,353.9 L346.5,354.2 L347.0,354.4 L347.4,354.7 L347.8,354.9 L348.3,355.2 L348.7,355.3 L349.1,355.5 L349.6,355.7 L350.0,355.8 L350.4,356.0 L350.9,356.1 L351.3,356.2 L351.7,356.3 L352.2,356.5 L352.6,356.6 L353.0,356.7 L353.5,356.8 L353.9,356.9 L354.3,357.0 L354.8,357.1 L355.2,357.1 L355.6,357.2 L356.1,357.3 L356.5,357.4 L356.9,357.5 L357.4,357.6 L357.8,357.6 L358.3,357.7 L358.7,357.8 L359.1,357.8 L359.6,357.9 L360.0,358.0 L360.4,358.0 L360.9,358.0 L361.3,358.1 L361.7,358.1 L362.2,358.1 L362.6,358.2 L363.0,358.2 L363.5,358.2 L363.9,358.3 L364.3,358.3 L364.8,358.3 L365.2,358.4 L365.6,358.4 L366.1,358.4 L366.5,358.5 L366.9,358.6 L367.4,358.6 L367.8,358.7 L368.2,358.7 L368.7,358.8 L369.1,358.9 L369.5,359.0 L370.0,359.1 L370.4,359.2 L370.8,359.2 L371.3,359.3 L371.7,359.4 L372.1,359.5 L372.6,359.6 L373.0,359.7 L373.4,359.8 L373.9,359.9 L374.3,360.0 L374.7,360.1 L375.2,360.2 L375.6,360.3 L376.0,360.4 L376.5,360.5 L376.9,360.6 L377.3,360.7 L377.8,360.8 L378.2,360.9 L378.6,361.0 L379.1,361.2 L379.5,361.3 L380.0,361.4 L380.4,361.5 L380.8,361.6 L381.3,361.7 L381.7,361.8 L382.1,362.0 L382.6,362.1 L383.0,362.2 L383.4,362.3 L383.9,362.4 L384.3,362.5 L384.7,362.6 L385.2,362.6 L385.6,362.7 L386.0,362.8 L386.5,362.9 L386.9,362.9 L387.3,363.0 L387.8,363.0 L388.2,363.1 L388.6,363.1 L389.1,363.2 L389.5,363.2 L389.9,363.3 L390.4,363.3 L390.8,363.3 L391.2,363.4 L391.7,363.4 L392.1,363.5 L392.5,363.5 L393.0,363.5 L393.4,363.5 L393.8,363.6 L394.3,363.6 L394.7,363.6 L395.1,363.7 L395.6,363.7 L396.0,363.7 L396.4,363.7 L396.9,363.7 L397.3,363.7 L397.7,363.7 L398.2,363.7 L398.6,363.7 L399.0,363.6 L399.5,363.6 L399.9,363.5 L400.3,363.5 L400.8,363.4 L401.2,363.2 L401.6,363.1 L402.1,362.9 L402.5,362.7 L403.0,362.5 L403.4,362.3 L403.8,362.0 L404.3,361.6 L404.7,361.2 L405.1,360.8 L405.6,360.3 L406.0,359.8 L406.4,359.3 L406.9,358.7 L407.3,358.0 L407.7,357.2 L408.2,356.3 L408.6,355.3 L409.0,354.1 L409.5,352.8 L409.9,351.4 L410.3,349.9 L410.8,348.2 L411.2,346.5 L411.6,344.7 L412.1,342.8 L412.5,340.8 L412.9,338.7 L413.4,336.5 L413.8,334.0 L414.2,331.3 L414.7,328.6 L415.1,326.1 L415.5,324.2 L416.0,322.9 L416.4,322.1 L416.8,321.8 L417.3,322.1 L417.7,322.8 L418.1,324.7 L418.6,327.8 L419.0,331.8 L419.4,336.2 L419.9,340.7 L420.3,345.2 L420.7,349.6 L421.2,353.9 L421.6,358.3 L422.0,362.4 L422.5,366.3 L422.9,369.9 L423.3,373.1 L423.8,375.9 L424.2,378.4 L424.7,380.7 L425.1,382.9 L425.5,384.9 L426.0,386.8 L426.4,388.5 L426.8,390.1 L427.3,391.5 L427.7,392.8 L428.1,393.8 L428.6,394.8 L429.0,395.7 L429.4,396.5 L429.9,397.3 L430.3,398.2 L430.7,398.9 L431.2,399.7 L431.6,400.5 L432.0,401.2 L432.5,401.9 L432.9,402.6 L433.3,403.2 L433.8,403.8 L434.2,404.4 L434.6,404.9 L435.1,405.3 L435.5,405.7 L435.9,406.0 L436.4,406.4 L436.8,406.7 L437.2,407.1 L437.7,407.4 L438.1,407.7 L438.5,408.0 L439.0,408.3 L439.4,408.5 L439.8,408.8 L440.3,409.0 L440.7,409.2 L441.1,409.4 L441.6,409.5 L442.0,409.7 L442.4,409.8 L442.9,409.9 L443.3,410.0 L443.7,410.0 L444.2,410.1 L444.6,410.1 L445.0,410.1 L445.5,410.1 L445.9,410.2 L446.4,410.2 L446.8,410.2 L447.2,410.2 L447.7,410.2 L448.1,410.2 L448.5,410.1 L449.0,410.1 L449.4,410.1 L449.8,410.1 L450.3,410.1 L450.7,410.1 L451.1,410.0 L451.6,410.0 L452.0,410.0 L452.4,410.0 L452.9,410.0 L453.3,410.0 L453.7,410.0 L454.2,410.0 L454.6,410.0 L455.0,410.0 L455.5,410.0 L455.9,410.0 L456.3,410.0 L456.8,410.0 L457.2,410.0 L457.6,410.0 L458.1,410.0 L458.5,410.0 L458.9,410.0 L459.4,410.0 L459.8,409.9 L460.2,409.9 L460.7,409.9 L461.1,409.9 L461.5,409.9 L462.0,409.8 L462.4,409.8 L462.8,409.8 L463.3,409.7 L463.7,409.7 L464.1,409.6 L464.6,409.6 L465.0,409.6 L465.4,409.5 L465.9,409.5 L466.3,409.4 L466.7,409.3 L467.2,409.3 L467.6,409.2 L468.0,409.2 L468.5,409.1 L468.9,409.0 L469.4,409.0 L469.8,408.9 L470.2,408.8 L470.7,408.8 L471.1,408.8 L471.5,408.7 L472.0,408.7 L472.4,408.7 L472.8,408.7 L473.3,408.7 L473.7,408.6 L474.1,408.6 L474.6,408.6 L475.0,408.6 L475.4,408.6 L475.9,408.6 L476.3,408.6 L476.7,408.5 L477.2,408.5 L477.6,408.5 L478.0,408.4 L478.5,408.3 L478.9,408.3 L479.3,408.2 L479.8,408.1 L480.2,408.0 L480.6,407.9 L481.1,407.8 L481.5,407.7 L481.9,407.6 L482.4,407.5 L482.8,407.4 L483.2,407.2 L483.7,407.1 L484.1,406.9 L484.5,406.8 L485.0,406.6 L485.4,406.5 L485.8,406.3 L486.3,406.1 L486.7,405.9 L487.1,405.8 L487.6,405.6 L488.0,405.4 L488.4,405.2 L488.9,404.9 L489.3,404.6 L489.7,404.3 L490.2,404.0 L490.6,403.6 L491.1,403.2 L491.5,402.8 L491.9,402.3 L492.4,401.9 L492.8,401.5 L493.2,401.0 L493.7,400.6 L494.1,400.2 L494.5,399.7 L495.0,399.4 L495.4,399.0 L495.8,398.6 L496.3,398.2 L496.7,397.6 L497.1,397.0 L497.6,396.1 L498.0,395.1 L498.4,393.7 L498.9,392.1 L499.3,390.1 L499.7,387.7 L500.2,384.8 L500.6,381.6 L501.0,378.0 L501.5,374.2 L501.9,370.2 L502.3,366.2 L502.8,362.2 L503.2,358.6 L503.6,355.6 L504.1,353.1 L504.5,350.9 L504.9,349.0 L505.4,347.2 L505.8,345.5 L506.2,344.0 L506.7,342.6 L507.1,341.7 L507.5,341.2 L508.0,341.3 L508.4,342.1 L508.8,343.4 L509.3,345.5 L509.7,348.3 L510.1,352.0 L510.6,356.4 L511.0,361.1 L511.4,365.9 L511.9,370.5 L512.3,375.0 L512.8,379.3 L513.2,383.6 L513.6,387.8 L514.1,392.0 L514.5,396.0 L514.9,400.0 L515.4,403.9 L515.8,407.6 L516.2,411.0 L516.7,414.2 L517.1,417.2 L517.5,419.9 L518.0,422.3 L518.4,424.5 L518.8,426.5 L519.3,428.3 L519.7,429.8 L520.1,431.2 L520.6,432.4 L521.0,433.5 L521.4,434.5 L521.9,435.4 L522.3,436.2 L522.7,436.9 L523.2,437.5 L523.6,438.1 L524.0,438.6 L524.5,439.1 L524.9,439.6 L525.3,440.0 L525.8,440.3 L526.2,440.7 L526.6,441.0 L527.1,441.2 L527.5,441.5 L527.9,441.7 L528.4,441.9 L528.8,442.1 L529.2,442.3 L529.7,442.5 L530.1,442.7 L530.5,442.9" fill="none" stroke="#0000ff" stroke-width="1.50" stroke-linejoin="round"/>
<path d="M319.2,339.0 L319.6,339.0 L320.1,339.0 L320.5,339.0 L320.9,339.0 L321.4,339.1 L321.8,339.1 L322.2,339.1 L322.7,339.1 L323.1,339.2 L323.5,339.2 L324.0,339.2 L324.4,339.2 L324.8,339.3 L325.3,339.3 L325.7,339.3 L326.1,339.4 L326.6,339.4 L327.0,339.5 L327.4,339.5 L327.9,339.6 L328.3,339.6 L328.7,339.7 L329.2,339.8 L329.6,339.8 L330.0,339.9 L330.5,340.0 L330.9,340.2 L331.3,340.3 L331.8,340.4 L332.2,340.6 L332.6,340.7 L333.1,340.9 L333.5,341.1 L333.9,341.3 L334.4,341.5 L334.8,341.8 L335.2,342.1 L335.7,342.4 L336.1,342.9 L336.6,343.3 L337.0,343.8 L337.4,344.3 L337.9,344.8 L338.3,345.3 L338.7,345.9 L339.2,346.5 L339.6,347.2 L340.0,347.7 L340.5,348.3 L340.9,348.8 L341.3,349.2 L341.8,349.7 L342.2,350.2 L342.6,350.6 L343.1,351.0 L343.5,351.4 L343.9,351.8 L344.4,352.1 L344.8,352.4 L345.2,352.7 L345.7,353.0 L346.1,353.3 L346.5,353.6 L347.0,353.8 L347.4,354.1 L347.8,354.3 L348.3,354.5 L348.7,354.7 L349.1,354.8 L349.6,354.9 L350.0,355.1 L350.4,355.2 L350.9,355.3 L351.3,355.4 L351.7,355.5 L352.2,355.5 L352.6,355.6 L353.0,355.7 L353.5,355.8 L353.9,355.8 L354.3,355.9 L354.8,356.0 L355.2,356.0 L355.6,356.1 L356.1,356.2 L356.5,356.2 L356.9,356.3 L357.4,356.4 L357.8,356.4 L358.3,356.5 L358.7,356.6 L359.1,356.6 L359.6,356.7 L360.0,356.7 L360.4,356.8 L360.9,356.8 L361.3,356.9 L361.7,356.9 L362.2,357.0 L362.6,357.0 L363.0,357.0 L363.5,357.0 L363.9,357.1 L364.3,357.1 L364.8,357.1 L365.2,357.1 L365.6,357.1 L366.1,357.1 L366.5,357.1 L366.9,357.1 L367.4,357.1 L367.8,357.1 L368.2,357.0 L368.7,357.0 L369.1,356.9 L369.5,356.9 L370.0,356.8 L370.4,356.7 L370.8,356.6 L371.3,356.5 L371.7,356.4 L372.1,356.2 L372.6,356.1 L373.0,355.9 L373.4,355.6 L373.9,355.4 L374.3,355.1 L374.7,354.8 L375.2,354.5 L375.6,354.1 L376.0,353.7 L376.5,353.3 L376.9,352.8 L377.3,352.4 L377.8,351.9 L378.2,351.4 L378.6,350.9 L379.1,350.4 L379.5,349.9 L380.0,349.5 L380.4,349.0 L380.8,348.6 L381.3,348.3 L381.7,348.0 L382.1,347.7 L382.6,347.5 L383.0,347.3 L383.4,347.2 L383.9,347.2 L384.3,347.2 L384.7,347.3 L385.2,347.6 L385.6,348.0 L386.0,348.5 L386.5,349.2 L386.9,349.9 L387.3,350.7 L387.8,351.6 L388.2,352.5 L388.6,353.4 L389.1,354.4 L389.5,355.3 L389.9,356.3 L390.4,357.2 L390.8,358.0 L391.2,358.8 L391.7,359.5 L392.1,360.1 L392.5,360.7 L393.0,361.2 L393.4,361.7 L393.8,362.2 L394.3,362.6 L394.7,363.0 L395.1,363.4 L395.6,363.7 L396.0,364.0 L396.4,364.3 L396.9,364.5 L397.3,364.8 L397.7,365.0 L398.2,365.3 L398.6,365.5 L399.0,365.8 L399.5,366.0 L399.9,366.2 L400.3,366.5 L400.8,366.8 L401.2,367.0 L401.6,367.3 L402.1,367.5 L402.5,367.8 L403.0,368.0 L403.4,368.3 L403.8,368.5 L404.3,368.7 L404.7,369.0 L405.1,369.1 L405.6,369.3 L406.0,369.5 L406.4,369.7 L406.9,369.9 L407.3,370.1 L407.7,370.4 L408.2,370.6 L408.6,370.8 L409.0,371.0 L409.5,371.3 L409.9,371.6 L410.3,371.8 L410.8,372.2 L411.2,372.5 L411.6,372.9 L412.1,373.3 L412.5,373.8 L412.9,374.3 L413.4,374.9 L413.8,375.4 L414.2,376.0 L414.7,376.6 L415.1,377.2 L415.5,377.8 L416.0,378.4 L416.4,379.0 L416.8,379.6 L417.3,380.3 L417.7,380.9 L418.1,381.5 L418.6,382.1 L419.0,382.7 L419.4,383.2 L419.9,383.7 L420.3,384.1 L420.7,384.4 L421.2,384.8 L421.6,385.1 L422.0,385.3 L422.5,385.6 L422.9,385.9 L423.3,386.2 L423.8,386.6 L424.2,387.0 L424.7,387.4 L425.1,387.9 L425.5,388.4 L426.0,389.0 L426.4,389.6 L426.8,390.1 L427.3,390.7 L427.7,391.4 L428.1,392.0 L428.6,392.7 L429.0,393.4 L429.4,394.2 L429.9,395.0 L430.3,395.8 L430.7,396.6 L431.2,397.4 L431.6,398.3 L432.0,399.0 L432.5,399.8 L432.9,400.6 L433.3,401.2 L433.8,401.9 L434.2,402.5 L434.6,403.0 L435.1,403.5 L435.5,403.9 L435.9,404.3 L436.4,404.7 L436.8,405.1 L437.2,405.5 L437.7,405.8 L438.1,406.2 L438.5,406.5 L439.0,406.8 L439.4,407.1 L439.8,407.4 L440.3,407.7 L440.7,408.0 L441.1,408.2 L441.6,408.4 L442.0,408.6 L442.4,408.8 L442.9,408.9 L443.3,409.1 L443.7,409.2 L444.2,409.3 L444.6,409.4 L445.0,409.5 L445.5,409.6 L445.9,409.7 L446.4,409.8 L446.8,409.9 L447.2,409.9 L447.7,410.0 L448.1,410.1 L448.5,410.2 L449.0,410.2 L449.4,410.3 L449.8,410.3 L450.3,410.4 L450.7,410.4 L451.1,410.5 L451.6,410.5 L452.0,410.5 L452.4,410.5 L452.9,410.5 L453.3,410.5 L453.7,410.4 L454.2,410.4 L454.6,410.3 L455.0,410.2 L455.5,410.1 L455.9,409.9 L456.3,409.8 L456.8,409.6 L457.2,409.3 L457.6,409.0 L458.1,408.6 L458.5,408.2 L458.9,407.7 L459.4,407.2 L459.8,406.7 L460.2,406.1 L460.7,405.4 L461.1,404.8 L461.5,404.1 L462.0,403.4 L462.4,402.7 L462.8,402.0 L463.3,401.3 L463.7,400.6 L464.1,399.9 L464.6,399.2 L465.0,398.6 L465.4,398.0 L465.9,397.3 L466.3,396.7 L466.7,396.1 L467.2,395.5 L467.6,394.9 L468.0,394.3 L468.5,393.7 L468.9,393.2 L469.4,392.6 L469.8,392.1 L470.2,391.6 L470.7,391.1 L471.1,390.6 L471.5,390.2 L472.0,389.7 L472.4,389.3 L472.8,388.9 L473.3,388.6 L473.7,388.3 L474.1,388.1 L474.6,388.0 L475.0,388.0 L475.4,388.1 L475.9,388.3 L476.3,388.6 L476.7,389.1 L477.2,389.6 L477.6,390.2 L478.0,391.0 L478.5,391.8 L478.9,392.7 L479.3,393.6 L479.8,394.7 L480.2,395.7 L480.6,396.8 L481.1,397.8 L481.5,398.9 L481.9,399.9 L482.4,401.0 L482.8,402.1 L483.2,403.2 L483.7,404.2 L484.1,405.3 L484.5,406.5 L485.0,407.6 L485.4,408.9 L485.8,410.1 L486.3,411.4 L486.7,412.6 L487.1,413.8 L487.6,415.0 L488.0,416.0 L488.4,416.8 L488.9,417.6 L489.3,418.3 L489.7,418.9 L490.2,419.5 L490.6,420.0 L491.1,420.5 L491.5,421.0 L491.9,421.5 L492.4,422.0 L492.8,422.4 L493.2,422.9 L493.7,423.3 L494.1,423.7 L494.5,424.1 L495.0,424.5 L495.4,424.9 L495.8,425.2 L496.3,425.6 L496.7,425.9 L497.1,426.3 L497.6,426.7 L498.0,427.0 L498.4,427.3 L498.9,427.7 L499.3,428.0 L499.7,428.3 L500.2,428.7 L500.6,429.0 L501.0,429.4 L501.5,429.7 L501.9,430.1 L502.3,430.4 L502.8,430.8 L503.2,431.2 L503.6,431.5 L504.1,431.9 L504.5,432.4 L504.9,432.8 L505.4,433.2 L505.8,433.7 L506.2,434.1 L506.7,434.6 L507.1,435.1 L507.5,435.5 L508.0,435.9 L508.4,436.4 L508.8,436.8 L509.3,437.2 L509.7,437.6 L510.1,438.0 L510.6,438.3 L511.0,438.7 L511.4,439.1 L511.9,439.5 L512.3,439.9 L512.8,440.2 L513.2,440.5 L513.6,440.8 L514.1,441.1 L514.5,441.3 L514.9,441.5 L515.4,441.7 L515.8,441.9 L516.2,442.1 L516.7,442.3 L517.1,442.5 L517.5,442.6 L518.0,442.8 L518.4,443.0 L518.8,443.1 L519.3,443.3 L519.7,443.4 L520.1,443.5 L520.6,443.6 L521.0,443.7 L521.4,443.8 L521.9,443.9 L522.3,443.9 L522.7,444.0 L523.2,444.0 L523.6,444.0 L524.0,444.0 L524.5,444.1 L524.9,444.1 L525.3,444.1 L525.8,444.1 L526.2,444.2 L526.6,444.2 L527.1,444.2 L527.5,444.2 L527.9,444.3 L528.4,444.3 L528.8,444.3 L529.2,444.3 L529.7,444.4 L530.1,444.4 L530.5,444.4" fill="none" stroke="#008a00" stroke-width="1.40" stroke-dasharray="5,4" stroke-linejoin="round"/>
<path d="M400.3,368.2 L400.8,368.3 L401.2,368.4 L401.6,368.6 L402.1,368.7 L402.5,368.9 L403.0,369.0 L403.4,369.2 L403.8,369.3 L404.3,369.5 L404.7,369.6 L405.1,369.8 L405.6,370.0 L406.0,370.2 L406.4,370.4 L406.9,370.5 L407.3,370.7 L407.7,370.9 L408.2,371.1 L408.6,371.3 L409.0,371.6 L409.5,371.8 L409.9,372.0 L410.3,372.2 L410.8,372.4 L411.2,372.6 L411.6,372.9 L412.1,373.1 L412.5,373.4 L412.9,373.6 L413.4,373.8 L413.8,374.0 L414.2,374.2 L414.7,374.3 L415.1,374.4 L415.5,374.4 L416.0,374.5 L416.4,374.4 L416.8,374.3 L417.3,374.0 L417.7,373.6 L418.1,373.1 L418.6,372.6 L419.0,371.9 L419.4,371.2 L419.9,370.5 L420.3,369.9 L420.7,369.2 L421.2,368.2 L421.6,366.8 L422.0,364.8 L422.5,362.1 L422.9,358.8 L423.3,355.1 L423.8,351.2 L424.2,347.1 L424.7,342.9 L425.1,338.4 L425.5,333.7 L426.0,328.8 L426.4,323.8 L426.8,318.9 L427.3,314.3 L427.7,310.3 L428.1,306.9 L428.6,304.2 L429.0,302.3 L429.4,301.4 L429.9,301.4 L430.3,302.3 L430.7,303.8 L431.2,306.0 L431.6,308.8 L432.0,312.3 L432.5,316.3 L432.9,320.7 L433.3,325.5 L433.8,330.5 L434.2,335.6 L434.6,340.7 L435.1,345.9 L435.5,351.0 L435.9,356.1 L436.4,361.0 L436.8,365.7 L437.2,370.2 L437.7,374.3 L438.1,378.2 L438.5,381.7 L439.0,385.0 L439.4,388.0 L439.8,390.7 L440.3,393.1 L440.7,395.2 L441.1,397.1 L441.6,398.8 L442.0,400.3 L442.4,401.7 L442.9,403.0 L443.3,404.2 L443.7,405.4 L444.2,406.4 L444.6,407.3 L445.0,408.0 L445.5,408.6 L445.9,409.1 L446.4,409.4 L446.8,409.6 L447.2,409.9 L447.7,410.0 L448.1,410.1 L448.5,410.2 L449.0,410.3 L449.4,410.4 L449.8,410.4 L450.3,410.5 L450.7,410.5 L451.1,410.5 L451.6,410.5 L452.0,410.6 L452.4,410.6 L452.9,410.6 L453.3,410.7 L453.7,410.7 L454.2,410.8 L454.6,410.9 L455.0,411.0 L455.5,411.1 L455.9,411.2 L456.3,411.3 L456.8,411.4 L457.2,411.6 L457.6,411.7 L458.1,411.8 L458.5,411.9 L458.9,412.0 L459.4,412.1 L459.8,412.2 L460.2,412.3 L460.7,412.4 L461.1,412.5 L461.5,412.6 L462.0,412.7 L462.4,412.8 L462.8,412.9 L463.3,413.1 L463.7,413.2 L464.1,413.3 L464.6,413.4 L465.0,413.5 L465.4,413.6 L465.9,413.7 L466.3,413.8 L466.7,413.9 L467.2,414.0 L467.6,414.1 L468.0,414.2 L468.5,414.3 L468.9,414.4 L469.4,414.5 L469.8,414.6 L470.2,414.7 L470.7,414.8 L471.1,414.9 L471.5,415.0 L472.0,415.2 L472.4,415.3 L472.8,415.4 L473.3,415.5 L473.7,415.7 L474.1,415.8 L474.6,415.9 L475.0,416.1 L475.4,416.3 L475.9,416.4 L476.3,416.6 L476.7,416.8 L477.2,416.9 L477.6,417.1 L478.0,417.3 L478.5,417.5 L478.9,417.7 L479.3,417.9 L479.8,418.1 L480.2,418.3 L480.6,418.5 L481.1,418.7 L481.5,418.9 L481.9,419.1 L482.4,419.3 L482.8,419.5 L483.2,419.7 L483.7,419.8 L484.1,420.0 L484.5,420.2 L485.0,420.4 L485.4,420.6 L485.8,420.7 L486.3,420.9 L486.7,421.1 L487.1,421.2 L487.6,421.4 L488.0,421.6 L488.4,421.7 L488.9,421.9 L489.3,422.1 L489.7,422.3 L490.2,422.5 L490.6,422.7 L491.1,422.8 L491.5,423.0 L491.9,423.2 L492.4,423.5 L492.8,423.7 L493.2,423.9 L493.7,424.1 L494.1,424.4 L494.5,424.6 L495.0,424.9 L495.4,425.2 L495.8,425.4 L496.3,425.7 L496.7,426.0 L497.1,426.3 L497.6,426.6 L498.0,426.9 L498.4,427.2 L498.9,427.5 L499.3,427.8 L499.7,428.2 L500.2,428.5 L500.6,428.8 L501.0,429.1 L501.5,429.5 L501.9,429.8 L502.3,430.2 L502.8,430.5 L503.2,430.9 L503.6,431.3 L504.1,431.7 L504.5,432.1 L504.9,432.5 L505.4,433.0 L505.8,433.4 L506.2,433.9 L506.7,434.3 L507.1,434.8 L507.5,435.2 L508.0,435.7 L508.4,436.1 L508.8,436.5 L509.3,436.9 L509.7,437.3 L510.1,437.7 L510.6,438.1 L511.0,438.5 L511.4,438.8 L511.9,439.2 L512.3,439.6 L512.8,439.9 L513.2,440.2 L513.6,440.5 L514.1,440.8 L514.5,441.0 L514.9,441.2 L515.4,441.4 L515.8,441.6 L516.2,441.8 L516.7,442.0 L517.1,442.2 L517.5,442.4 L518.0,442.5 L518.4,442.7 L518.8,442.9 L519.3,443.0 L519.7,443.1 L520.1,443.3 L520.6,443.4 L521.0,443.5 L521.4,443.6 L521.9,443.6 L522.3,443.7 L522.7,443.7 L523.2,443.7 L523.6,443.8 L524.0,443.8 L524.5,443.8 L524.9,443.9 L525.3,443.9 L525.8,443.9 L526.2,444.0 L526.6,444.0 L527.1,444.0 L527.5,444.0 L527.9,444.1 L528.4,444.1 L528.8,444.1 L529.2,444.1 L529.7,444.2 L530.1,444.2 L530.5,444.2" fill="none" stroke="#a828b8" stroke-width="1.40" stroke-dasharray="5,4" stroke-linejoin="round"/>
<path d="M436.4,404.7 L436.8,405.1 L437.2,405.4 L437.7,405.8 L438.1,406.1 L438.5,406.5 L439.0,406.8 L439.4,407.1 L439.8,407.4 L440.3,407.7 L440.7,407.9 L441.1,408.1 L441.6,408.4 L442.0,408.6 L442.4,408.7 L442.9,408.9 L443.3,409.0 L443.7,409.2 L444.2,409.3 L444.6,409.4 L445.0,409.5 L445.5,409.6 L445.9,409.7 L446.4,409.7 L446.8,409.8 L447.2,409.9 L447.7,410.0 L448.1,410.0 L448.5,410.1 L449.0,410.2 L449.4,410.2 L449.8,410.3 L450.3,410.4 L450.7,410.4 L451.1,410.5 L451.6,410.6 L452.0,410.6 L452.4,410.7 L452.9,410.8 L453.3,410.8 L453.7,410.9 L454.2,411.0 L454.6,411.1 L455.0,411.2 L455.5,411.3 L455.9,411.4 L456.3,411.5 L456.8,411.5 L457.2,411.6 L457.6,411.7 L458.1,411.8 L458.5,411.9 L458.9,412.0 L459.4,412.1 L459.8,412.2 L460.2,412.3 L460.7,412.4 L461.1,412.5 L461.5,412.6 L462.0,412.7 L462.4,412.8 L462.8,412.9 L463.3,413.0 L463.7,413.1 L464.1,413.2 L464.6,413.3 L465.0,413.4 L465.4,413.5 L465.9,413.6 L466.3,413.7 L466.7,413.8 L467.2,413.9 L467.6,414.0 L468.0,414.1 L468.5,414.2 L468.9,414.3 L469.4,414.4 L469.8,414.5 L470.2,414.6 L470.7,414.7 L471.1,414.8 L471.5,414.9 L472.0,415.0 L472.4,415.2 L472.8,415.3 L473.3,415.4 L473.7,415.5 L474.1,415.7 L474.6,415.8 L475.0,416.0 L475.4,416.1 L475.9,416.3 L476.3,416.5 L476.7,416.6 L477.2,416.8 L477.6,417.0 L478.0,417.2 L478.5,417.4 L478.9,417.6 L479.3,417.8 L479.8,418.0 L480.2,418.2 L480.6,418.4 L481.1,418.6 L481.5,418.8 L481.9,419.0 L482.4,419.2 L482.8,419.4 L483.2,419.5 L483.7,419.7 L484.1,419.9 L484.5,420.1 L485.0,420.3 L485.4,420.4 L485.8,420.6 L486.3,420.8 L486.7,421.0 L487.1,421.1 L487.6,421.3 L488.0,421.5 L488.4,421.7 L488.9,421.8 L489.3,422.0 L489.7,422.2 L490.2,422.4 L490.6,422.6 L491.1,422.8 L491.5,423.0 L491.9,423.2 L492.4,423.4 L492.8,423.6 L493.2,423.8 L493.7,424.0 L494.1,424.3 L494.5,424.5 L495.0,424.8 L495.4,425.1 L495.8,425.4 L496.3,425.7 L496.7,426.0 L497.1,426.3 L497.6,426.6 L498.0,426.9 L498.4,427.2 L498.9,427.5 L499.3,427.8 L499.7,428.1 L500.2,428.4 L500.6,428.8 L501.0,429.1 L501.5,429.4 L501.9,429.8 L502.3,430.1 L502.8,430.5 L503.2,430.9 L503.6,431.2 L504.1,431.6 L504.5,432.0 L504.9,432.5 L505.4,432.9 L505.8,433.4 L506.2,433.8 L506.7,434.3 L507.1,434.7 L507.5,435.2 L508.0,435.6 L508.4,436.1 L508.8,436.5 L509.3,436.8 L509.7,437.2 L510.1,437.6 L510.6,438.0 L511.0,438.4 L511.4,438.8 L511.9,439.2 L512.3,439.6 L512.8,439.9 L513.2,440.2 L513.6,440.5 L514.1,440.8 L514.5,441.0 L514.9,441.2 L515.4,441.4 L515.8,441.6 L516.2,441.8 L516.7,442.0 L517.1,442.2 L517.5,442.4 L518.0,442.5 L518.4,442.7 L518.8,442.9 L519.3,443.0 L519.7,443.1 L520.1,443.3 L520.6,443.4 L521.0,443.5 L521.4,443.5 L521.9,443.6 L522.3,443.7 L522.7,443.7 L523.2,443.7 L523.6,443.8 L524.0,443.8 L524.5,443.8 L524.9,443.9 L525.3,443.9 L525.8,443.9 L526.2,444.0 L526.6,444.0 L527.1,444.0 L527.5,444.0 L527.9,444.1 L528.4,444.1 L528.8,444.1 L529.2,444.1 L529.7,444.2 L530.1,444.2 L530.5,444.2" fill="none" stroke="#8e2a6a" stroke-width="1.30" stroke-linejoin="round"/>
<path d="M319.2,339.0 L319.6,339.0 L320.1,339.0 L320.5,339.0 L320.9,339.0 L321.4,339.1 L321.8,339.1 L322.2,339.1 L322.7,339.1 L323.1,339.2 L323.5,339.2 L324.0,339.2 L324.4,339.2 L324.8,339.3 L325.3,339.3 L325.7,339.3 L326.1,339.4 L326.6,339.4 L327.0,339.5 L327.4,339.5 L327.9,339.6 L328.3,339.6 L328.7,339.7 L329.2,339.7 L329.6,339.8 L330.0,339.9 L330.5,340.0 L330.9,340.2 L331.3,340.3 L331.8,340.4 L332.2,340.6 L332.6,340.7 L333.1,340.9 L333.5,341.1 L333.9,341.3 L334.4,341.5 L334.8,341.8 L335.2,342.1 L335.7,342.4 L336.1,342.8 L336.6,343.3 L337.0,343.8 L337.4,344.3 L337.9,344.8 L338.3,345.3 L338.7,345.9 L339.2,346.5 L339.6,347.2 L340.0,347.8 L340.5,348.4 L340.9,348.9 L341.3,349.5 L341.8,350.0 L342.2,350.5 L342.6,350.9 L343.1,351.4 L343.5,351.8 L343.9,352.2 L344.4,352.6 L344.8,352.9 L345.2,353.3 L345.7,353.6 L346.1,353.9 L346.5,354.2 L347.0,354.4 L347.4,354.7 L347.8,354.9 L348.3,355.2 L348.7,355.3 L349.1,355.5 L349.6,355.7 L350.0,355.8 L350.4,356.0 L350.9,356.1 L351.3,356.2 L351.7,356.3 L352.2,356.4 L352.6,356.6 L353.0,356.7 L353.5,356.8 L353.9,356.9 L354.3,357.0 L354.8,357.0 L355.2,357.1 L355.6,357.2 L356.1,357.3 L356.5,357.4 L356.9,357.5 L357.4,357.5 L357.8,357.6 L358.3,357.7 L358.7,357.8 L359.1,357.9 L359.6,357.9 L360.0,358.0 L360.4,358.1 L360.9,358.1 L361.3,358.2 L361.7,358.3 L362.2,358.3 L362.6,358.4 L363.0,358.4 L363.5,358.5 L363.9,358.6 L364.3,358.6 L364.8,358.7 L365.2,358.7 L365.6,358.8 L366.1,358.9 L366.5,359.0 L366.9,359.0 L367.4,359.1 L367.8,359.2 L368.2,359.3 L368.7,359.4 L369.1,359.5 L369.5,359.6 L370.0,359.7 L370.4,359.8 L370.8,359.9 L371.3,360.0 L371.7,360.1 L372.1,360.2 L372.6,360.3 L373.0,360.5 L373.4,360.6 L373.9,360.7 L374.3,360.8 L374.7,360.9 L375.2,361.1 L375.6,361.2 L376.0,361.3 L376.5,361.4 L376.9,361.5 L377.3,361.7 L377.8,361.8 L378.2,361.9 L378.6,362.1 L379.1,362.2 L379.5,362.4 L380.0,362.5 L380.4,362.7 L380.8,362.8 L381.3,363.0 L381.7,363.1 L382.1,363.3 L382.6,363.4 L383.0,363.5 L383.4,363.7 L383.9,363.8 L384.3,363.9 L384.7,364.1 L385.2,364.2 L385.6,364.3 L386.0,364.4 L386.5,364.6 L386.9,364.7 L387.3,364.8 L387.8,364.9 L388.2,365.0 L388.6,365.1 L389.1,365.2 L389.5,365.3 L389.9,365.4 L390.4,365.5 L390.8,365.6 L391.2,365.7 L391.7,365.8 L392.1,365.9 L392.5,366.0 L393.0,366.1 L393.4,366.2 L393.8,366.3 L394.3,366.4 L394.7,366.6 L395.1,366.7 L395.6,366.8 L396.0,366.9 L396.4,367.0 L396.9,367.1 L397.3,367.3 L397.7,367.4 L398.2,367.5 L398.6,367.6 L399.0,367.8 L399.5,367.9 L399.9,368.0 L400.3,368.2 L400.8,368.3 L401.2,368.4 L401.6,368.6 L402.1,368.7 L402.5,368.9 L403.0,369.0 L403.4,369.2 L403.8,369.3 L404.3,369.5 L404.7,369.6 L405.1,369.8 L405.6,369.9 L406.0,370.1 L406.4,370.3 L406.9,370.4 L407.3,370.6 L407.7,370.8 L408.2,371.0 L408.6,371.2 L409.0,371.4 L409.5,371.7 L409.9,371.9 L410.3,372.2 L410.8,372.5 L411.2,372.8 L411.6,373.2 L412.1,373.6 L412.5,374.1 L412.9,374.6 L413.4,375.1 L413.8,375.6 L414.2,376.1 L414.7,376.6 L415.1,377.1 L415.5,377.6 L416.0,378.2 L416.4,378.7 L416.8,379.3 L417.3,379.9 L417.7,380.5 L418.1,381.0 L418.6,381.6 L419.0,382.1 L419.4,382.6 L419.9,383.1 L420.3,383.6 L420.7,384.0 L421.2,384.4 L421.6,384.8 L422.0,385.2 L422.5,385.6 L422.9,386.1 L423.3,386.5 L423.8,387.0 L424.2,387.4 L424.7,387.9 L425.1,388.4 L425.5,389.0 L426.0,389.5 L426.4,390.0 L426.8,390.6 L427.3,391.2 L427.7,391.8 L428.1,392.4 L428.6,393.1 L429.0,393.8 L429.4,394.5 L429.9,395.3 L430.3,396.1 L430.7,396.9 L431.2,397.6 L431.6,398.4 L432.0,399.2 L432.5,399.9 L432.9,400.6 L433.3,401.3 L433.8,401.9 L434.2,402.5 L434.6,403.0 L435.1,403.5 L435.5,403.9 L435.9,404.3 L436.4,404.7 L436.8,405.1 L437.2,405.4 L437.7,405.8 L438.1,406.1 L438.5,406.5 L439.0,406.8 L439.4,407.1 L439.8,407.4 L440.3,407.7 L440.7,407.9 L441.1,408.1 L441.6,408.4 L442.0,408.6 L442.4,408.7 L442.9,408.9 L443.3,409.0 L443.7,409.2 L444.2,409.3 L444.6,409.4 L445.0,409.5 L445.5,409.6 L445.9,409.7 L446.4,409.7 L446.8,409.8 L447.2,409.9 L447.7,410.0 L448.1,410.0 L448.5,410.1 L449.0,410.2 L449.4,410.2 L449.8,410.3 L450.3,410.4 L450.7,410.4 L451.1,410.5 L451.6,410.6 L452.0,410.6 L452.4,410.7 L452.9,410.8 L453.3,410.8 L453.7,410.9 L454.2,411.0 L454.6,411.1 L455.0,411.2 L455.5,411.3 L455.9,411.4 L456.3,411.5 L456.8,411.5 L457.2,411.6 L457.6,411.7 L458.1,411.8 L458.5,411.9 L458.9,412.0 L459.4,412.1 L459.8,412.2 L460.2,412.3 L460.7,412.4 L461.1,412.5 L461.5,412.6 L462.0,412.7 L462.4,412.8 L462.8,412.9 L463.3,413.0 L463.7,413.1 L464.1,413.2 L464.6,413.3 L465.0,413.4 L465.4,413.5 L465.9,413.6 L466.3,413.7 L466.7,413.8 L467.2,413.9 L467.6,414.0 L468.0,414.1 L468.5,414.2 L468.9,414.3 L469.4,414.4 L469.8,414.5 L470.2,414.6 L470.7,414.7 L471.1,414.8 L471.5,414.9 L472.0,415.0 L472.4,415.2 L472.8,415.3 L473.3,415.4 L473.7,415.5 L474.1,415.7 L474.6,415.8 L475.0,416.0 L475.4,416.1 L475.9,416.3 L476.3,416.5 L476.7,416.6 L477.2,416.8 L477.6,417.0 L478.0,417.2 L478.5,417.4 L478.9,417.6 L479.3,417.8 L479.8,418.0 L480.2,418.2 L480.6,418.4 L481.1,418.6 L481.5,418.8 L481.9,419.0 L482.4,419.2 L482.8,419.4 L483.2,419.5 L483.7,419.7 L484.1,419.9 L484.5,420.1 L485.0,420.3 L485.4,420.4 L485.8,420.6 L486.3,420.8 L486.7,421.0 L487.1,421.1 L487.6,421.3 L488.0,421.5 L488.4,421.7 L488.9,421.8 L489.3,422.0 L489.7,422.2 L490.2,422.4 L490.6,422.6 L491.1,422.8 L491.5,423.0 L491.9,423.2 L492.4,423.4 L492.8,423.6 L493.2,423.8 L493.7,424.0 L494.1,424.3 L494.5,424.5 L495.0,424.8 L495.4,425.1 L495.8,425.4 L496.3,425.7 L496.7,426.0 L497.1,426.3 L497.6,426.6 L498.0,426.9 L498.4,427.2 L498.9,427.5 L499.3,427.8 L499.7,428.1 L500.2,428.4 L500.6,428.8 L501.0,429.1 L501.5,429.4 L501.9,429.8 L502.3,430.1 L502.8,430.5 L503.2,430.9 L503.6,431.2 L504.1,431.6 L504.5,432.0 L504.9,432.5 L505.4,432.9 L505.8,433.4 L506.2,433.8 L506.7,434.3 L507.1,434.7 L507.5,435.2 L508.0,435.6 L508.4,436.1 L508.8,436.5 L509.3,436.8 L509.7,437.2 L510.1,437.6 L510.6,438.0 L511.0,438.4 L511.4,438.8 L511.9,439.2 L512.3,439.6 L512.8,439.9 L513.2,440.2 L513.6,440.5 L514.1,440.8 L514.5,441.0 L514.9,441.2 L515.4,441.4 L515.8,441.6 L516.2,441.8 L516.7,442.0 L517.1,442.2 L517.5,442.4 L518.0,442.5 L518.4,442.7 L518.8,442.9 L519.3,443.0 L519.7,443.1 L520.1,443.3 L520.6,443.4 L521.0,443.5 L521.4,443.5 L521.9,443.6 L522.3,443.7 L522.7,443.7 L523.2,443.7 L523.6,443.8 L524.0,443.8 L524.5,443.8 L524.9,443.9 L525.3,443.9 L525.8,443.9 L526.2,444.0 L526.6,444.0 L527.1,444.0 L527.5,444.0 L527.9,444.1 L528.4,444.1 L528.8,444.1 L529.2,444.1 L529.7,444.2 L530.1,444.2 L530.5,444.2" fill="none" stroke="#a51818" stroke-width="1.50" stroke-dasharray="6.5,2,1.6,2.5" stroke-linejoin="round"/>
<path d="M302.7,337.9 L303.1,337.6 L303.6,337.2 L304.0,337.7 L304.4,336.7 L304.9,335.3 L305.3,336.5 L305.7,338.3 L306.2,337.9 L306.6,337.1 L307.0,337.9 L307.5,338.5 L307.9,338.7 L308.3,338.0 L308.8,337.2 L309.2,337.5 L309.6,338.6 L310.1,340.1 L310.5,340.0 L310.9,338.2 L311.4,337.3 L311.8,338.0 L312.2,337.9 L312.7,338.4 L313.1,340.6 L313.5,341.2 L314.0,340.1 L314.4,339.2 L314.9,339.1 L315.3,337.7 L315.7,337.5 L316.2,339.0 L316.6,337.8 L317.0,335.5 L317.5,336.7 L317.9,340.4 L318.3,342.1 L318.8,340.3 L319.2,339.2 L319.6,339.0 L320.1,339.0 L320.5,339.0 L320.9,339.0 L321.4,339.0 L321.8,339.0 L322.2,339.0 L322.7,339.0 L323.1,339.0 L323.5,339.0 L324.0,339.0 L324.4,339.0 L324.8,338.9 L325.3,338.9 L325.7,338.8 L326.1,338.7 L326.6,338.6 L327.0,338.5 L327.4,338.2 L327.9,337.9 L328.3,337.5 L328.7,337.0 L329.2,336.3 L329.6,335.6 L330.0,334.7 L330.5,333.7 L330.9,332.6 L331.3,331.2 L331.8,329.6 L332.2,327.9 L332.6,326.0 L333.1,324.0 L333.5,321.8 L333.9,319.5 L334.4,317.0 L334.8,314.4 L335.2,311.6 L335.7,308.8 L336.1,305.7 L336.6,302.7 L337.0,299.6 L337.4,296.6 L337.9,293.7 L338.3,291.1 L338.7,288.8 L339.2,287.0 L339.6,285.7 L340.0,285.0 L340.5,284.8 L340.9,285.3 L341.3,286.5 L341.8,288.4 L342.2,291.0 L342.6,294.1 L343.1,297.6 L343.5,301.4 L343.9,305.4 L344.4,309.4 L344.8,313.5 L345.2,317.4 L345.7,321.3 L346.1,324.9 L346.5,328.3 L347.0,331.5 L347.4,334.3 L347.8,336.9 L348.3,339.2 L348.7,341.2 L349.1,343.0 L349.6,344.4 L350.0,345.7 L350.4,346.7 L350.9,347.7 L351.3,348.6 L351.7,349.4 L352.2,350.1 L352.6,350.7 L353.0,351.3 L353.5,351.8 L353.9,352.3 L354.3,352.7 L354.8,353.1 L355.2,353.5 L355.6,353.8 L356.1,354.1 L356.5,354.3 L356.9,354.6 L357.4,354.8 L357.8,355.1 L358.3,355.3 L358.7,355.5 L359.1,355.7 L359.6,355.9 L360.0,356.0 L360.4,356.1 L360.9,356.2 L361.3,356.3 L361.7,356.3 L362.2,356.3 L362.6,356.4 L363.0,356.4 L363.5,356.4 L363.9,356.4 L364.3,356.4 L364.8,356.4 L365.2,356.3 L365.6,356.3 L366.1,356.3 L366.5,356.2 L366.9,356.1 L367.4,356.0 L367.8,355.9 L368.2,355.7 L368.7,355.5 L369.1,355.3 L369.5,355.0 L370.0,354.8 L370.4,354.5 L370.8,354.3 L371.3,354.0 L371.7,353.7 L372.1,353.4 L372.6,353.1 L373.0,352.8 L373.4,352.5 L373.9,352.2 L374.3,351.9 L374.7,351.5 L375.2,351.1 L375.6,350.7 L376.0,350.3 L376.5,349.9 L376.9,349.5 L377.3,349.1 L377.8,348.7 L378.2,348.3 L378.6,347.9 L379.1,347.6 L379.5,347.2 L380.0,346.9 L380.4,346.7 L380.8,346.4 L381.3,346.3 L381.7,346.1 L382.1,346.0 L382.6,345.9 L383.0,345.9 L383.4,345.9 L383.9,346.0 L384.3,346.1 L384.7,346.2 L385.2,346.4 L385.6,346.6 L386.0,346.9 L386.5,347.2 L386.9,347.7 L387.3,348.2 L387.8,348.8 L388.2,349.4 L388.6,350.2 L389.1,350.9 L389.5,351.7 L389.9,352.6 L390.4,353.4 L390.8,354.2 L391.2,354.9 L391.7,355.6 L392.1,356.3 L392.5,356.9 L393.0,357.4 L393.4,358.0 L393.8,358.5 L394.3,359.0 L394.7,359.4 L395.1,359.9 L395.6,360.3 L396.0,360.6 L396.4,360.9 L396.9,361.2 L397.3,361.5 L397.7,361.8 L398.2,362.0 L398.6,362.1 L399.0,362.3 L399.5,362.4 L399.9,362.5 L400.3,362.5 L400.8,362.5 L401.2,362.5 L401.6,362.4 L402.1,362.3 L402.5,362.1 L403.0,362.0 L403.4,361.7 L403.8,361.5 L404.3,361.2 L404.7,360.8 L405.1,360.4 L405.6,360.0 L406.0,359.5 L406.4,359.0 L406.9,358.4 L407.3,357.6 L407.7,356.7 L408.2,355.7 L408.6,354.5 L409.0,353.1 L409.5,351.6 L409.9,349.9 L410.3,348.0 L410.8,346.0 L411.2,343.8 L411.6,341.5 L412.1,339.1 L412.5,336.5 L412.9,333.8 L413.4,331.2 L413.8,328.8 L414.2,326.6 L414.7,324.5 L415.1,322.7 L415.5,321.0 L416.0,319.6 L416.4,318.6 L416.8,318.3 L417.3,318.5 L417.7,319.3 L418.1,320.8 L418.6,322.8 L419.0,325.1 L419.4,327.6 L419.9,330.2 L420.3,332.9 L420.7,335.4 L421.2,337.7 L421.6,339.6 L422.0,341.1 L422.5,342.0 L422.9,342.3 L423.3,342.1 L423.8,341.2 L424.2,339.7 L424.7,337.5 L425.1,334.6 L425.5,331.1 L426.0,327.1 L426.4,322.6 L426.8,318.1 L427.3,313.8 L427.7,309.9 L428.1,306.6 L428.6,304.1 L429.0,302.3 L429.4,301.4 L429.9,301.4 L430.3,302.3 L430.7,303.8 L431.2,306.0 L431.6,308.8 L432.0,312.3 L432.5,316.3 L432.9,320.7 L433.3,325.5 L433.8,330.5 L434.2,335.6 L434.6,340.7 L435.1,345.9 L435.5,351.0 L435.9,356.1 L436.4,361.0 L436.8,365.7 L437.2,370.2 L437.7,374.3 L438.1,378.2 L438.5,381.7 L439.0,385.0 L439.4,388.0 L439.8,390.7 L440.3,393.1 L440.7,395.2 L441.1,397.1 L441.6,398.8 L442.0,400.3 L442.4,401.7 L442.9,403.0 L443.3,404.2 L443.7,405.4 L444.2,406.4 L444.6,407.3 L445.0,408.1 L445.5,408.6 L445.9,409.1 L446.4,409.3 L446.8,409.6 L447.2,409.7 L447.7,409.9 L448.1,410.0 L448.5,410.1 L449.0,410.1 L449.4,410.2 L449.8,410.2 L450.3,410.3 L450.7,410.3 L451.1,410.3 L451.6,410.4 L452.0,410.4 L452.4,410.4 L452.9,410.4 L453.3,410.4 L453.7,410.4 L454.2,410.4 L454.6,410.4 L455.0,410.4 L455.5,410.4 L455.9,410.3 L456.3,410.3 L456.8,410.2 L457.2,410.1 L457.6,409.9 L458.1,409.8 L458.5,409.6 L458.9,409.3 L459.4,409.0 L459.8,408.6 L460.2,408.2 L460.7,407.6 L461.1,407.0 L461.5,406.4 L462.0,405.6 L462.4,404.8 L462.8,404.0 L463.3,403.1 L463.7,402.2 L464.1,401.3 L464.6,400.3 L465.0,399.4 L465.4,398.4 L465.9,397.4 L466.3,396.3 L466.7,395.2 L467.2,394.2 L467.6,393.1 L468.0,392.0 L468.5,391.0 L468.9,390.0 L469.4,389.1 L469.8,388.2 L470.2,387.4 L470.7,386.6 L471.1,385.9 L471.5,385.2 L472.0,384.5 L472.4,383.9 L472.8,383.3 L473.3,382.9 L473.7,382.6 L474.1,382.4 L474.6,382.4 L475.0,382.4 L475.4,382.6 L475.9,382.9 L476.3,383.3 L476.7,383.8 L477.2,384.3 L477.6,384.9 L478.0,385.5 L478.5,386.2 L478.9,386.9 L479.3,387.7 L479.8,388.6 L480.2,389.5 L480.6,390.5 L481.1,391.4 L481.5,392.3 L481.9,393.1 L482.4,393.8 L482.8,394.4 L483.2,394.8 L483.7,395.1 L484.1,395.4 L484.5,395.6 L485.0,395.8 L485.4,396.0 L485.8,396.1 L486.3,396.3 L486.7,396.4 L487.1,396.4 L487.6,396.4 L488.0,396.4 L488.4,396.3 L488.9,396.3 L489.3,396.3 L489.7,396.2 L490.2,396.2 L490.6,396.1 L491.1,395.9 L491.5,395.7 L491.9,395.3 L492.4,394.9 L492.8,394.4 L493.2,393.8 L493.7,393.2 L494.1,392.6 L494.5,392.0 L495.0,391.3 L495.4,390.5 L495.8,389.6 L496.3,388.5 L496.7,387.1 L497.1,385.6 L497.6,383.8 L498.0,381.9 L498.4,379.8 L498.9,377.7 L499.3,375.5 L499.7,373.4 L500.2,371.3 L500.6,369.3 L501.0,367.4 L501.5,365.4 L501.9,363.4 L502.3,361.3 L502.8,359.2 L503.2,357.0 L503.6,354.8 L504.1,352.7 L504.5,350.7 L504.9,348.9 L505.4,347.2 L505.8,345.6 L506.2,344.2 L506.7,343.0 L507.1,342.0 L507.5,341.4 L508.0,341.4 L508.4,341.8 L508.8,343.1 L509.3,345.2 L509.7,348.1 L510.1,351.9 L510.6,356.2 L511.0,360.9 L511.4,365.8 L511.9,370.7 L512.3,375.3 L512.8,379.7 L513.2,383.9 L513.6,388.0 L514.1,392.1 L514.5,396.1 L514.9,400.1 L515.4,404.0 L515.8,407.7 L516.2,411.1 L516.7,414.3 L517.1,417.2 L517.5,419.9 L518.0,422.3 L518.4,424.4 L518.8,426.4 L519.3,428.2 L519.7,429.7 L520.1,431.1 L520.6,432.4 L521.0,433.5 L521.4,434.5 L521.9,435.4 L522.3,436.2 L522.7,436.9 L523.2,437.5 L523.6,438.1 L524.0,438.6 L524.5,439.1 L524.9,439.6 L525.3,440.0 L525.8,440.3 L526.2,440.7 L526.6,441.0 L527.1,441.2 L527.5,441.5 L527.9,441.7 L528.4,441.9 L528.8,442.1 L529.2,442.3 L529.7,442.5 L530.1,442.8 L530.5,443.2 L531.0,442.4 L531.4,440.9 L531.8,440.1 L532.3,441.9 L532.7,443.4 L533.1,442.7 L533.6,443.8 L534.0,445.7 L534.5,446.2 L534.9,446.6 L535.3,446.8 L535.8,446.1 L536.2,444.0 L536.6,444.2 L537.1,446.4 L537.5,446.0 L537.9,444.5 L538.4,444.8 L538.8,446.3 L539.2,446.3 L539.7,445.1 L540.1,444.2 L540.5,444.1 L541.0,444.2 L541.4,444.5 L541.8,444.7 L542.3,443.8 L542.7,443.8 L543.1,444.5 L543.6,444.7 L544.0,446.5 L544.4,446.3 L544.9,444.8 L545.3,445.6" fill="none" stroke="#ff0000" stroke-width="1.40" stroke-dasharray="5,4" stroke-linejoin="round"/>
<rect x="302.00" y="264.90" width="244.00" height="196.80" fill="none" stroke="#333333" stroke-width="1.25"/>
<line x1="326.40" y1="461.70" x2="326.40" y2="465.70" stroke="#333333" stroke-width="1.1"/>
<line x1="375.20" y1="461.70" x2="375.20" y2="465.70" stroke="#333333" stroke-width="1.1"/>
<line x1="424.00" y1="461.70" x2="424.00" y2="465.70" stroke="#333333" stroke-width="1.1"/>
<line x1="472.80" y1="461.70" x2="472.80" y2="465.70" stroke="#333333" stroke-width="1.1"/>
<line x1="521.60" y1="461.70" x2="521.60" y2="465.70" stroke="#333333" stroke-width="1.1"/>
<line x1="302.00" y1="461.70" x2="302.00" y2="463.90" stroke="#333333" stroke-width="1.1"/>
<line x1="350.80" y1="461.70" x2="350.80" y2="463.90" stroke="#333333" stroke-width="1.1"/>
<line x1="399.60" y1="461.70" x2="399.60" y2="463.90" stroke="#333333" stroke-width="1.1"/>
<line x1="448.40" y1="461.70" x2="448.40" y2="463.90" stroke="#333333" stroke-width="1.1"/>
<line x1="497.20" y1="461.70" x2="497.20" y2="463.90" stroke="#333333" stroke-width="1.1"/>
<line x1="546.00" y1="461.70" x2="546.00" y2="463.90" stroke="#333333" stroke-width="1.1"/>
<text x="326.40" y="474.80" font-size="9.50" text-anchor="middle" font-family="'Liberation Sans', sans-serif">920</text>
<text x="375.20" y="474.80" font-size="9.50" text-anchor="middle" font-family="'Liberation Sans', sans-serif">910</text>
<text x="424.00" y="474.80" font-size="9.50" text-anchor="middle" font-family="'Liberation Sans', sans-serif">900</text>
<text x="472.80" y="474.80" font-size="9.50" text-anchor="middle" font-family="'Liberation Sans', sans-serif">890</text>
<text x="521.60" y="474.80" font-size="9.50" text-anchor="middle" font-family="'Liberation Sans', sans-serif">880</text>
<text x="424.20" y="490.70" font-size="10.30" text-anchor="middle" font-family="'Liberation Sans', sans-serif">Binding energy (eV)</text>
<text transform="translate(294.0,363.20) rotate(-90)" font-size="10.4" font-family="'Liberation Sans', sans-serif" text-anchor="middle">Counts (s<tspan font-size="6.8" dy="-3.6">-1</tspan><tspan dy="3.6">)</tspan></text>
<text x="415.3" y="260.70" font-size="10.2" text-anchor="start" font-family="'Liberation Sans', sans-serif">CeO<tspan font-size="6.8" dy="2.6">2</tspan><tspan dy="-2.6">-ODPA</tspan></text>
<text x="287.40" y="266.70" font-size="18.00" text-anchor="start" font-family="'Liberation Sans', sans-serif">d)</text>
<text x="543.00" y="276.10" font-size="10.00" text-anchor="end" font-family="'Liberation Sans', sans-serif">Ce 3d</text>
<line x1="306.50" y1="382.40" x2="329.70" y2="382.40" stroke="#5a5a5a" stroke-width="1.10"/>
<line x1="306.50" y1="396.00" x2="329.70" y2="396.00" stroke="#0000ff" stroke-width="1.50"/>
<line x1="306.50" y1="410.00" x2="329.70" y2="410.00" stroke="#008a00" stroke-width="1.40" stroke-dasharray="5,5"/>
<line x1="306.50" y1="423.70" x2="329.70" y2="423.70" stroke="#a828b8" stroke-width="1.40" stroke-dasharray="5,5"/>
<line x1="306.50" y1="436.20" x2="329.70" y2="436.20" stroke="#a51818" stroke-width="1.50" stroke-dasharray="5.8,2.4,1.3,2.5"/>
<line x1="306.50" y1="448.80" x2="329.70" y2="448.80" stroke="#ff0000" stroke-width="1.50" stroke-dasharray="5,4.5"/>
<text x="332.70" y="385.90" font-size="10.00" text-anchor="start" font-family="'Liberation Sans', sans-serif">Experimental</text>
<text x="332.70" y="399.50" font-size="10.00" text-anchor="start" font-family="'Liberation Sans', sans-serif">Ce<tspan font-size="6.6" dy="-4.0">4+</tspan><tspan dy="4.0"> </tspan><tspan font-family="'DejaVu Sans', 'Liberation Sans', sans-serif" font-size="9.4">&#965;</tspan>&#8211;<tspan font-family="'DejaVu Sans', 'Liberation Sans', sans-serif" font-size="9.4">&#957;</tspan></text>
<text x="332.70" y="413.50" font-size="10.00" text-anchor="start" font-family="'Liberation Sans', sans-serif">Ce<tspan font-size="6.6" dy="-4.0">4+</tspan><tspan dy="4.0"> </tspan><tspan font-family="'DejaVu Sans', 'Liberation Sans', sans-serif" font-size="9.4">&#965;</tspan><tspan dy="-0.6" font-size="10">''</tspan><tspan dy="0.6">+</tspan><tspan font-family="'DejaVu Sans', 'Liberation Sans', sans-serif" font-size="9.4">&#957;</tspan><tspan dy="-0.6" font-size="10">''</tspan></text>
<text x="332.70" y="427.20" font-size="10.00" text-anchor="start" font-family="'Liberation Sans', sans-serif">Ce<tspan font-size="6.6" dy="-4.0">4+</tspan><tspan dy="4.0"> </tspan><tspan font-family="'DejaVu Sans', 'Liberation Sans', sans-serif" font-size="9.4">&#965;</tspan><tspan dy="-0.6" font-size="10">'''</tspan><tspan dy="0.6">+</tspan><tspan font-family="'DejaVu Sans', 'Liberation Sans', sans-serif" font-size="9.4">&#957;</tspan><tspan dy="-0.6" font-size="10">'''</tspan></text>
<text x="332.70" y="439.70" font-size="10.00" text-anchor="start" font-family="'Liberation Sans', sans-serif">Background</text>
<text x="332.70" y="452.30" font-size="10.00" text-anchor="start" font-family="'Liberation Sans', sans-serif">Fitted curve</text>
<text x="378.70" y="311.60" font-size="9.8" font-family="'Liberation Sans', sans-serif">Ce<tspan font-size="6.6" dy="-4.6">4+</tspan><tspan dy="4.6"> 3d</tspan><tspan font-size="7.2" dy="2.5">3/2</tspan></text>
<text x="499.60" y="337.80" font-size="9.8" font-family="'Liberation Sans', sans-serif">Ce<tspan font-size="6.6" dy="-4.6">4+</tspan><tspan dy="4.6"> 3d</tspan><tspan font-size="7.2" dy="2.5">5/2</tspan></text>
<text x="333.30" y="337.80" font-size="9.50" font-family="'Liberation Sans', sans-serif"><tspan font-family="'DejaVu Sans', 'Liberation Sans', sans-serif" font-size="9.03">&#957;</tspan><tspan dy="-0.4" font-size="10">'''</tspan></text>
<text x="378.40" y="358.30" font-size="9.50" font-family="'Liberation Sans', sans-serif"><tspan font-family="'DejaVu Sans', 'Liberation Sans', sans-serif" font-size="9.03">&#957;</tspan><tspan dy="-0.4" font-size="10">''</tspan></text>
<text x="408.70" y="364.80" font-size="9.50" font-family="'Liberation Sans', sans-serif"><tspan font-family="'DejaVu Sans', 'Liberation Sans', sans-serif" font-size="9.03">&#957;</tspan><tspan dy="-0.4" font-size="10"></tspan></text>
<text x="424.90" y="383.00" font-size="9.50" font-family="'Liberation Sans', sans-serif"><tspan font-family="'DejaVu Sans', 'Liberation Sans', sans-serif" font-size="9.03">&#965;</tspan><tspan dy="-0.4" font-size="10">'''</tspan></text>
<text x="470.70" y="404.50" font-size="9.50" font-family="'Liberation Sans', sans-serif"><tspan font-family="'DejaVu Sans', 'Liberation Sans', sans-serif" font-size="9.03">&#965;</tspan><tspan dy="-0.4" font-size="10">''</tspan></text>
<text x="500.90" y="412.30" font-size="9.50" font-family="'Liberation Sans', sans-serif"><tspan font-family="'DejaVu Sans', 'Liberation Sans', sans-serif" font-size="9.03">&#965;</tspan><tspan dy="-0.4" font-size="10"></tspan></text>
</svg>
</body></html>
